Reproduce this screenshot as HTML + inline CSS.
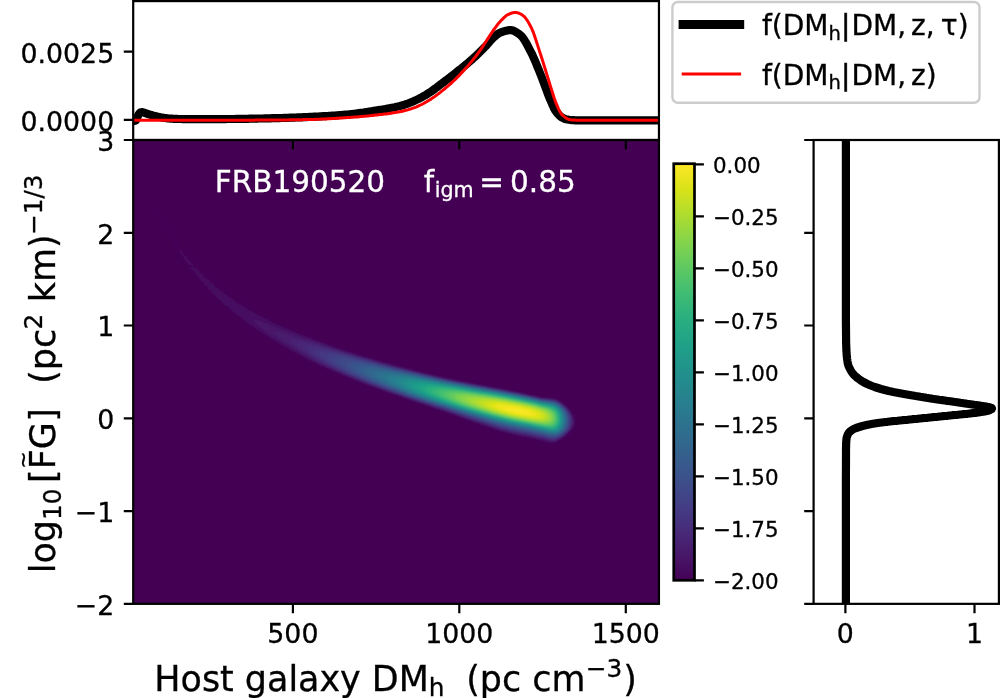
<!DOCTYPE html><html><head><meta charset="utf-8"><title>FRB190520</title>
<style>html,body{margin:0;padding:0;background:#fff;overflow:hidden}svg{display:block}text{font-family:"DejaVu Sans","Liberation Sans",sans-serif;fill:#000;stroke:#000;stroke-width:.3px}</style></head><body>
<svg width="1000" height="698" viewBox="0 0 1000 698">
<rect width="1000" height="698" fill="#fff"/>
<clipPath id="ct"><rect x="133.2" y="1.1" width="525.75" height="138.9"/></clipPath>
<g clip-path="url(#ct)" fill="none" stroke-linejoin="round"><path d="M133.2,121.0 L133.7,121.0 L134.2,120.9 L134.7,120.8 L135.2,120.7 L135.7,120.5 L136.2,119.8 L136.7,118.8 L137.2,117.8 L137.7,116.5 L138.2,115.2 L138.7,114.3 L139.2,113.6 L139.7,113.0 L140.2,112.6 L140.7,112.5 L141.2,112.3 L141.7,112.2 L142.2,112.2 L142.7,112.2 L143.2,112.4 L143.7,112.6 L144.2,112.8 L144.7,112.9 L145.2,113.1 L145.7,113.3 L146.2,113.4 L146.7,113.6 L147.2,113.8 L147.7,113.9 L148.2,114.1 L148.7,114.2 L149.2,114.4 L149.7,114.5 L150.2,114.7 L150.7,114.8 L151.2,114.9 L151.7,115.1 L152.2,115.2 L152.7,115.4 L153.2,115.5 L153.7,115.7 L154.2,115.8 L154.7,115.9 L155.2,116.1 L155.7,116.2 L156.2,116.3 L156.7,116.4 L157.2,116.6 L157.7,116.7 L158.2,116.8 L158.7,116.9 L159.2,117.0 L159.7,117.1 L160.2,117.2 L160.7,117.3 L161.2,117.4 L161.7,117.5 L162.2,117.6 L162.7,117.7 L163.2,117.7 L163.7,117.8 L164.2,117.9 L164.7,118.0 L165.2,118.0 L165.7,118.1 L166.2,118.2 L166.7,118.2 L167.2,118.3 L167.7,118.4 L168.2,118.4 L168.7,118.5 L169.2,118.5 L169.7,118.6 L170.2,118.6 L170.7,118.6 L171.2,118.7 L171.7,118.7 L172.2,118.7 L172.7,118.7 L173.2,118.8 L173.7,118.8 L174.2,118.8 L174.7,118.8 L175.2,118.9 L175.7,118.9 L176.2,118.9 L176.7,118.9 L177.2,118.9 L177.7,118.9 L178.2,119.0 L178.7,119.0 L179.2,119.0 L179.7,119.0 L180.2,119.0 L180.7,119.0 L181.2,119.0 L181.7,119.0 L182.2,119.1 L182.7,119.1 L183.2,119.1 L183.7,119.1 L184.2,119.1 L184.7,119.1 L185.2,119.1 L185.7,119.1 L186.2,119.2 L186.7,119.2 L187.2,119.2 L187.7,119.2 L188.2,119.2 L188.7,119.2 L189.2,119.2 L189.7,119.2 L190.2,119.2 L190.7,119.2 L191.2,119.2 L191.7,119.2 L192.2,119.2 L192.7,119.2 L193.2,119.2 L193.7,119.2 L194.2,119.2 L194.7,119.2 L195.2,119.2 L195.7,119.2 L196.2,119.2 L196.7,119.2 L197.2,119.2 L197.7,119.2 L198.2,119.2 L198.7,119.2 L199.2,119.2 L199.7,119.2 L200.0,119.2 L201.5,119.2 L203.0,119.2 L204.5,119.2 L206.0,119.2 L207.5,119.2 L209.0,119.2 L210.5,119.1 L212.0,119.1 L213.5,119.1 L215.0,119.1 L216.5,119.1 L218.0,119.1 L219.5,119.1 L221.0,119.1 L222.5,119.1 L224.0,119.1 L225.5,119.1 L227.0,119.0 L228.5,119.0 L230.0,119.0 L231.5,119.0 L233.0,119.0 L234.5,119.0 L236.0,118.9 L237.5,118.9 L239.0,118.9 L240.5,118.9 L242.0,118.9 L243.5,118.8 L245.0,118.8 L246.5,118.8 L248.0,118.8 L249.5,118.7 L251.0,118.7 L252.5,118.7 L254.0,118.6 L255.5,118.6 L257.0,118.6 L258.5,118.5 L260.0,118.5 L261.5,118.5 L263.0,118.5 L264.5,118.4 L266.0,118.4 L267.5,118.3 L269.0,118.3 L270.5,118.3 L272.0,118.2 L273.5,118.2 L275.0,118.2 L276.5,118.1 L278.0,118.1 L279.5,118.1 L281.0,118.0 L282.5,118.0 L284.0,117.9 L285.5,117.9 L287.0,117.8 L288.5,117.8 L290.0,117.7 L291.5,117.7 L293.0,117.6 L294.5,117.6 L296.0,117.5 L297.5,117.4 L299.0,117.4 L300.5,117.3 L302.0,117.3 L303.5,117.2 L305.0,117.1 L306.5,117.1 L308.0,117.0 L309.5,116.9 L311.0,116.9 L312.5,116.8 L314.0,116.7 L315.5,116.6 L317.0,116.6 L318.5,116.5 L320.0,116.4 L321.5,116.3 L323.0,116.2 L324.5,116.1 L326.0,116.1 L327.5,116.0 L329.0,115.9 L330.5,115.8 L332.0,115.7 L333.5,115.6 L335.0,115.5 L336.5,115.4 L338.0,115.3 L339.5,115.1 L341.0,115.0 L342.5,114.9 L344.0,114.8 L345.5,114.6 L347.0,114.5 L348.5,114.4 L350.0,114.2 L351.5,114.0 L353.0,113.9 L354.5,113.7 L356.0,113.5 L357.5,113.3 L359.0,113.1 L360.5,112.9 L362.0,112.7 L363.5,112.5 L365.0,112.2 L366.5,112.0 L368.0,111.8 L369.5,111.5 L371.0,111.3 L372.5,111.1 L374.0,110.8 L375.5,110.6 L377.0,110.4 L378.5,110.1 L380.0,109.9 L381.5,109.7 L383.0,109.4 L384.5,109.2 L386.0,108.9 L387.5,108.6 L389.0,108.4 L390.5,108.1 L392.0,107.8 L393.5,107.5 L395.0,107.2 L396.5,106.8 L398.0,106.5 L399.5,106.1 L401.0,105.7 L402.5,105.3 L404.0,104.8 L405.5,104.4 L407.0,103.8 L408.5,103.3 L410.0,102.7 L411.5,102.1 L413.0,101.5 L414.5,100.8 L416.0,100.1 L417.5,99.4 L419.0,98.7 L420.5,97.9 L422.0,97.1 L423.5,96.2 L425.0,95.4 L426.5,94.5 L428.0,93.5 L429.5,92.6 L431.0,91.6 L432.5,90.5 L434.0,89.5 L435.5,88.3 L437.0,87.2 L438.5,86.0 L440.0,84.9 L441.5,83.7 L443.0,82.6 L444.5,81.5 L446.0,80.3 L447.5,79.2 L449.0,78.1 L450.5,76.9 L452.0,75.8 L453.5,74.6 L455.0,73.4 L456.5,72.2 L458.0,71.0 L459.5,69.8 L461.0,68.7 L462.5,67.5 L464.0,66.2 L465.5,65.0 L467.0,63.8 L468.5,62.5 L470.0,61.2 L471.5,59.9 L473.0,58.5 L474.5,57.2 L476.0,55.8 L477.5,54.3 L479.0,52.9 L480.5,51.4 L482.0,49.9 L483.5,48.4 L485.0,46.8 L486.5,45.3 L488.0,43.6 L489.5,41.8 L491.0,40.0 L492.5,38.5 L494.0,37.1 L495.5,35.8 L497.0,34.5 L498.5,33.5 L500.0,32.7 L501.5,32.1 L503.0,31.6 L504.5,31.1 L506.0,30.7 L507.5,30.4 L509.0,30.2 L510.5,30.1 L512.0,30.3 L513.5,30.7 L515.0,31.4 L516.5,32.3 L518.0,33.3 L519.5,34.4 L521.0,35.6 L522.5,37.2 L524.0,39.4 L525.5,41.8 L527.0,44.5 L528.5,47.4 L530.0,50.3 L531.5,53.1 L533.0,56.3 L534.5,59.7 L536.0,63.2 L537.5,66.8 L539.0,70.5 L540.5,74.2 L542.0,78.0 L543.5,82.0 L545.0,86.1 L546.5,90.2 L548.0,94.2 L549.5,98.0 L551.0,101.4 L552.5,104.9 L554.0,108.2 L555.5,110.9 L557.0,112.9 L558.5,114.5 L560.0,116.0 L561.5,117.2 L563.0,118.1 L564.5,118.8 L566.0,119.2 L567.5,119.5 L569.0,119.8 L570.5,120.0 L572.0,120.2 L573.5,120.2 L575.0,120.3 L576.5,120.3 L578.0,120.3 L579.5,120.3 L581.0,120.3 L582.5,120.3 L584.0,120.3 L585.5,120.3 L587.0,120.3 L588.5,120.3 L590.0,120.3 L591.5,120.3 L593.0,120.3 L594.5,120.3 L596.0,120.3 L597.5,120.3 L599.0,120.3 L600.5,120.3 L602.0,120.3 L603.5,120.3 L605.0,120.3 L606.5,120.3 L608.0,120.3 L609.5,120.3 L611.0,120.3 L612.5,120.3 L614.0,120.3 L615.5,120.3 L617.0,120.3 L618.5,120.3 L620.0,120.3 L621.5,120.3 L623.0,120.3 L624.5,120.3 L626.0,120.3 L627.5,120.3 L629.0,120.3 L630.5,120.3 L632.0,120.3 L633.5,120.3 L635.0,120.3 L636.5,120.3 L638.0,120.3 L639.5,120.3 L641.0,120.3 L642.5,120.3 L644.0,120.3 L645.5,120.3 L647.0,120.3 L648.5,120.3 L650.0,120.3 L651.5,120.3 L653.0,120.3 L654.5,120.3 L656.0,120.3 L657.5,120.3 L659.0,120.3 L659.2,120.3" stroke="#000" stroke-width="8.2" stroke-linecap="square"/><path d="M133.2,120.3 L133.7,120.3 L134.2,120.3 L134.7,120.3 L135.2,120.3 L135.7,120.3 L136.2,120.3 L136.7,120.3 L137.2,120.3 L137.7,120.3 L138.2,120.3 L138.7,120.3 L139.2,120.3 L139.7,120.3 L140.2,120.3 L140.7,120.3 L141.2,120.3 L141.7,120.3 L142.2,120.3 L142.7,120.3 L143.2,120.3 L143.7,120.3 L144.2,120.3 L144.7,120.3 L145.2,120.3 L145.7,120.3 L146.2,120.3 L146.7,120.3 L147.2,120.3 L147.7,120.3 L148.2,120.3 L148.7,120.3 L149.2,120.3 L149.7,120.3 L150.2,120.3 L150.7,120.3 L151.2,120.3 L151.7,120.3 L152.2,120.3 L152.7,120.3 L153.2,120.3 L153.7,120.3 L154.2,120.3 L154.7,120.3 L155.2,120.3 L155.7,120.3 L156.2,120.3 L156.7,120.3 L157.2,120.3 L157.7,120.3 L158.2,120.3 L158.7,120.3 L159.2,120.3 L159.7,120.3 L160.2,120.3 L160.7,120.3 L161.2,120.3 L161.7,120.3 L162.2,120.3 L162.7,120.3 L163.2,120.3 L163.7,120.3 L164.2,120.3 L164.7,120.3 L165.2,120.3 L165.7,120.3 L166.2,120.3 L166.7,120.3 L167.2,120.3 L167.7,120.3 L168.2,120.3 L168.7,120.3 L169.2,120.3 L169.7,120.3 L170.2,120.3 L170.7,120.3 L171.2,120.3 L171.7,120.3 L172.2,120.3 L172.7,120.3 L173.2,120.3 L173.7,120.3 L174.2,120.3 L174.7,120.3 L175.2,120.3 L175.7,120.3 L176.2,120.3 L176.7,120.3 L177.2,120.3 L177.7,120.3 L178.2,120.3 L178.7,120.3 L179.2,120.3 L179.7,120.3 L180.2,120.3 L180.7,120.3 L181.2,120.3 L181.7,120.3 L182.2,120.3 L182.7,120.3 L183.2,120.3 L183.7,120.3 L184.2,120.3 L184.7,120.3 L185.2,120.3 L185.7,120.3 L186.2,120.3 L186.7,120.3 L187.2,120.3 L187.7,120.3 L188.2,120.3 L188.7,120.3 L189.2,120.3 L189.7,120.3 L190.2,120.3 L190.7,120.3 L191.2,120.3 L191.7,120.3 L192.2,120.3 L192.7,120.3 L193.2,120.3 L193.7,120.3 L194.2,120.3 L194.7,120.3 L195.2,120.3 L195.7,120.3 L196.2,120.3 L196.7,120.3 L197.2,120.3 L197.7,120.3 L198.2,120.3 L198.7,120.3 L199.2,120.3 L199.7,120.3 L200.0,120.3 L201.5,120.3 L203.0,120.3 L204.5,120.3 L206.0,120.3 L207.5,120.3 L209.0,120.3 L210.5,120.3 L212.0,120.3 L213.5,120.3 L215.0,120.3 L216.5,120.3 L218.0,120.3 L219.5,120.3 L221.0,120.3 L222.5,120.3 L224.0,120.3 L225.5,120.3 L227.0,120.3 L228.5,120.3 L230.0,120.3 L231.5,120.3 L233.0,120.3 L234.5,120.3 L236.0,120.3 L237.5,120.3 L239.0,120.3 L240.5,120.2 L242.0,120.2 L243.5,120.2 L245.0,120.2 L246.5,120.2 L248.0,120.2 L249.5,120.2 L251.0,120.2 L252.5,120.2 L254.0,120.2 L255.5,120.1 L257.0,120.1 L258.5,120.1 L260.0,120.1 L261.5,120.1 L263.0,120.1 L264.5,120.1 L266.0,120.1 L267.5,120.1 L269.0,120.0 L270.5,120.0 L272.0,120.0 L273.5,120.0 L275.0,120.0 L276.5,120.0 L278.0,120.0 L279.5,120.0 L281.0,119.9 L282.5,119.9 L284.0,119.9 L285.5,119.9 L287.0,119.9 L288.5,119.9 L290.0,119.8 L291.5,119.8 L293.0,119.8 L294.5,119.8 L296.0,119.8 L297.5,119.7 L299.0,119.7 L300.5,119.7 L302.0,119.7 L303.5,119.6 L305.0,119.6 L306.5,119.6 L308.0,119.5 L309.5,119.5 L311.0,119.5 L312.5,119.4 L314.0,119.4 L315.5,119.3 L317.0,119.3 L318.5,119.2 L320.0,119.2 L321.5,119.1 L323.0,119.0 L324.5,119.0 L326.0,118.9 L327.5,118.8 L329.0,118.7 L330.5,118.7 L332.0,118.6 L333.5,118.5 L335.0,118.4 L336.5,118.3 L338.0,118.2 L339.5,118.1 L341.0,118.0 L342.5,117.9 L344.0,117.8 L345.5,117.7 L347.0,117.6 L348.5,117.5 L350.0,117.4 L351.5,117.3 L353.0,117.2 L354.5,117.1 L356.0,117.0 L357.5,116.9 L359.0,116.7 L360.5,116.6 L362.0,116.5 L363.5,116.3 L365.0,116.2 L366.5,116.1 L368.0,115.9 L369.5,115.8 L371.0,115.6 L372.5,115.5 L374.0,115.3 L375.5,115.1 L377.0,115.0 L378.5,114.8 L380.0,114.6 L381.5,114.5 L383.0,114.3 L384.5,114.1 L386.0,113.9 L387.5,113.7 L389.0,113.5 L390.5,113.3 L392.0,113.1 L393.5,112.8 L395.0,112.6 L396.5,112.3 L398.0,112.1 L399.5,111.8 L401.0,111.5 L402.5,111.2 L404.0,110.8 L405.5,110.4 L407.0,110.0 L408.5,109.6 L410.0,109.1 L411.5,108.7 L413.0,108.2 L414.5,107.6 L416.0,107.1 L417.5,106.4 L419.0,105.7 L420.5,105.0 L422.0,104.3 L423.5,103.5 L425.0,102.6 L426.5,101.8 L428.0,100.9 L429.5,100.0 L431.0,99.1 L432.5,98.1 L434.0,97.1 L435.5,96.0 L437.0,94.9 L438.5,93.7 L440.0,92.6 L441.5,91.4 L443.0,90.2 L444.5,89.0 L446.0,87.7 L447.5,86.4 L449.0,85.1 L450.5,83.8 L452.0,82.4 L453.5,81.0 L455.0,79.6 L456.5,78.1 L458.0,76.6 L459.5,75.1 L461.0,73.5 L462.5,71.9 L464.0,70.3 L465.5,68.6 L467.0,66.9 L468.5,65.2 L470.0,63.4 L471.5,61.6 L473.0,59.8 L474.5,57.9 L476.0,56.0 L477.5,54.0 L479.0,51.9 L480.5,49.8 L482.0,47.6 L483.5,45.3 L485.0,43.0 L486.5,40.7 L488.0,38.4 L489.5,36.1 L491.0,33.8 L492.5,31.6 L494.0,29.4 L495.5,27.3 L497.0,25.3 L498.5,23.4 L500.0,21.8 L501.5,20.1 L503.0,18.6 L504.5,17.1 L506.0,15.8 L507.5,14.8 L509.0,14.1 L510.5,13.5 L512.0,13.0 L513.5,12.6 L515.0,12.4 L516.5,12.5 L518.0,12.9 L519.5,13.5 L521.0,14.2 L522.5,15.1 L524.0,16.3 L525.5,18.0 L527.0,20.1 L528.5,22.6 L530.0,25.2 L531.5,28.1 L533.0,31.6 L534.5,35.7 L536.0,40.2 L537.5,44.9 L539.0,49.6 L540.5,54.2 L542.0,58.8 L543.5,63.6 L545.0,68.5 L546.5,73.4 L548.0,78.3 L549.5,83.2 L551.0,87.9 L552.5,92.7 L554.0,97.5 L555.5,101.8 L557.0,105.4 L558.5,108.8 L560.0,111.8 L561.5,114.2 L563.0,115.7 L564.5,116.9 L566.0,118.0 L567.5,118.9 L569.0,119.5 L570.5,119.8 L572.0,119.9 L573.5,120.1 L575.0,120.1 L576.5,120.2 L578.0,120.3 L579.5,120.3 L581.0,120.3 L582.5,120.3 L584.0,120.3 L585.5,120.3 L587.0,120.3 L588.5,120.3 L590.0,120.3 L591.5,120.3 L593.0,120.3 L594.5,120.3 L596.0,120.3 L597.5,120.3 L599.0,120.3 L600.5,120.3 L602.0,120.3 L603.5,120.3 L605.0,120.3 L606.5,120.3 L608.0,120.3 L609.5,120.3 L611.0,120.3 L612.5,120.3 L614.0,120.3 L615.5,120.3 L617.0,120.3 L618.5,120.3 L620.0,120.3 L621.5,120.3 L623.0,120.3 L624.5,120.3 L626.0,120.3 L627.5,120.3 L629.0,120.3 L630.5,120.3 L632.0,120.3 L633.5,120.3 L635.0,120.3 L636.5,120.3 L638.0,120.3 L639.5,120.3 L641.0,120.3 L642.5,120.3 L644.0,120.3 L645.5,120.3 L647.0,120.3 L648.5,120.3 L650.0,120.3 L651.5,120.3 L653.0,120.3 L654.5,120.3 L656.0,120.3 L657.5,120.3 L659.0,120.3 L659.2,120.3" stroke="#f00" stroke-width="3.0" stroke-linecap="square"/></g>
<rect x="133.2" y="140.0" width="525.75" height="463.85" fill="#440154"/>
<clipPath id="ch"><rect x="133.2" y="140.0" width="525.75" height="463.85"/></clipPath><filter id="bl" x="-5%" y="-5%" width="110%" height="110%"><feGaussianBlur stdDeviation="1.3"/></filter>
<g clip-path="url(#ch)"><g id="heat" filter="url(#bl)"><path d="M152.1,191.8 153.2,193.3 155.7,199.2 158.2,205.0 160.7,210.6 163.2,215.9 165.7,220.8 168.2,225.5 170.7,229.9 173.2,234.1 175.7,238.0 178.2,241.8 180.7,245.4 183.2,248.8 185.7,252.1 188.2,255.3 190.7,258.3 193.2,261.2 195.7,264.1 198.2,266.8 200.7,269.4 203.2,271.9 205.7,274.3 208.2,276.7 210.7,279.0 213.2,281.2 215.7,283.4 218.2,285.5 220.7,287.5 223.2,289.5 225.7,291.4 228.2,293.3 230.7,295.2 233.2,297.0 235.7,298.7 238.2,300.4 240.7,302.1 243.2,303.7 245.7,305.3 248.2,306.9 250.7,308.4 253.2,309.9 255.7,311.4 258.2,312.8 260.7,314.2 263.2,315.6 265.7,316.9 268.2,318.2 270.7,319.5 273.2,320.8 275.7,322.0 278.2,323.2 280.7,324.4 283.2,325.6 285.7,326.7 288.2,327.9 290.7,329.0 293.2,330.1 295.7,331.1 298.2,332.2 300.7,333.2 303.2,334.2 305.7,335.2 308.2,336.2 310.7,337.2 313.2,338.2 315.7,339.1 318.2,340.1 320.7,341.1 323.2,342.1 325.7,343.1 328.2,344.1 330.7,345.0 333.2,346.0 335.7,346.9 338.2,347.8 340.7,348.7 343.2,349.5 345.7,350.4 348.2,351.2 350.7,352.1 353.2,352.9 355.7,353.7 358.2,354.5 360.7,355.3 363.2,356.1 365.7,356.9 368.2,357.7 370.7,358.4 373.2,359.2 375.7,359.9 378.2,360.7 380.7,361.4 383.2,362.2 385.7,362.9 388.2,363.6 390.7,364.3 393.2,365.0 395.7,365.7 398.2,366.4 400.7,367.0 403.2,367.7 405.7,368.3 408.2,369.0 410.7,369.6 413.2,370.3 415.7,370.9 418.2,371.6 420.7,372.2 423.2,372.8 425.7,373.5 428.2,374.1 430.7,374.7 433.2,375.3 435.7,375.9 438.2,376.5 440.7,377.1 443.2,377.7 445.7,378.3 448.2,378.8 450.7,379.4 453.2,379.9 455.7,380.4 458.2,380.9 460.7,381.4 463.2,381.9 465.7,382.4 468.2,382.9 470.7,383.4 473.2,383.8 475.7,384.3 478.2,384.8 480.7,385.3 483.2,385.8 485.7,386.2 488.2,386.7 490.7,387.2 493.2,387.6 495.7,388.1 498.2,388.6 500.7,389.1 503.2,389.6 505.7,390.1 508.2,390.6 510.7,391.1 513.2,391.6 515.7,392.1 518.2,392.6 520.7,393.1 523.2,393.7 525.7,394.2 528.2,394.7 530.7,395.3 533.2,395.9 535.7,396.4 536.0,396.5 537.0,396.8 538.0,397.0 539.0,397.2 540.0,397.5 541.0,397.7 542.0,397.9 543.0,398.0 544.0,398.1 545.0,398.1 546.0,398.2 547.0,398.3 548.0,398.4 549.0,398.5 550.0,398.6 551.0,398.6 552.0,398.7 553.0,398.8 554.0,399.0 555.0,399.2 556.0,399.6 557.0,400.0 558.0,400.4 559.0,401.0 560.0,401.6 561.0,402.2 562.0,402.9 563.0,403.6 564.0,404.4 565.0,405.2 566.0,406.2 567.0,407.1 568.0,408.1 569.0,409.1 570.0,410.2 571.0,411.4 572.0,412.6 573.0,413.9 574.0,415.4 575.0,417.2 576.0,420.6 576.1,422.2 576.0,423.7 575.0,426.7 574.0,428.2 573.0,429.4 572.0,430.5 571.0,431.5 570.0,432.5 569.0,433.4 568.0,434.3 567.0,435.1 566.0,435.9 565.0,436.6 564.0,437.3 563.0,438.1 562.0,438.8 561.0,439.5 560.0,440.3 559.0,441.0 558.0,441.7 557.0,442.4 556.0,442.9 555.0,443.2 554.0,443.4 553.0,443.5 552.0,443.5 551.0,443.4 550.0,443.3 549.0,443.1 548.0,443.0 547.0,442.8 546.0,442.6 545.0,442.3 544.0,442.0 543.0,441.7 542.0,441.4 541.0,441.2 540.0,441.0 539.0,440.8 538.0,440.6 537.0,440.4 536.0,440.2 535.7,440.1 533.2,439.5 530.7,438.9 528.2,438.3 525.7,437.8 523.2,437.3 520.7,436.9 518.2,436.4 515.7,435.9 513.2,435.3 510.7,434.7 508.2,434.1 505.7,433.5 503.2,432.8 500.7,432.1 498.2,431.3 495.7,430.6 493.2,429.7 490.7,428.9 488.2,428.0 485.7,427.1 483.2,426.2 480.7,425.3 478.2,424.4 475.7,423.5 473.2,422.6 470.7,421.7 468.2,420.8 465.7,419.9 463.2,418.9 460.7,418.0 458.2,417.0 455.7,416.1 453.2,415.2 450.7,414.2 448.2,413.3 445.7,412.4 443.2,411.5 440.7,410.7 438.2,409.8 435.7,409.0 433.2,408.1 430.7,407.2 428.2,406.4 425.7,405.5 423.2,404.7 420.7,403.8 418.2,403.0 415.7,402.1 413.2,401.2 410.7,400.3 408.2,399.5 405.7,398.6 403.2,397.7 400.7,396.8 398.2,396.0 395.7,395.1 393.2,394.2 390.7,393.4 388.2,392.5 385.7,391.6 383.2,390.8 380.7,389.9 378.2,389.0 375.7,388.1 373.2,387.3 370.7,386.4 368.2,385.5 365.7,384.5 363.2,383.6 360.7,382.7 358.2,381.7 355.7,380.8 353.2,379.8 350.7,378.8 348.2,377.8 345.7,376.8 343.2,375.8 340.7,374.7 338.2,373.7 335.7,372.7 333.2,371.6 330.7,370.6 328.2,369.5 325.7,368.5 323.2,367.4 320.7,366.3 318.2,365.2 315.7,364.0 313.2,362.8 310.7,361.6 308.2,360.4 305.7,359.2 303.2,357.9 300.7,356.6 298.2,355.3 295.7,354.0 293.2,352.6 290.7,351.3 288.2,349.9 285.7,348.6 283.2,347.2 280.7,345.8 278.2,344.3 275.7,342.9 273.2,341.4 270.7,339.9 268.2,338.4 265.7,336.8 263.2,335.3 260.7,333.7 258.2,332.1 255.7,330.4 253.2,328.7 250.7,327.0 248.2,325.3 245.7,323.5 243.2,321.7 240.7,319.9 238.2,318.0 235.7,316.1 233.2,314.1 230.7,312.1 228.2,310.1 225.7,308.0 223.2,305.8 220.7,303.6 218.2,301.3 215.7,299.0 213.2,296.6 210.7,294.1 208.2,291.6 205.7,289.0 203.2,286.3 200.7,283.5 198.2,280.6 195.7,277.6 193.2,274.6 190.7,271.4 188.2,268.0 185.7,264.6 183.2,261.0 180.7,257.2 178.2,253.2 175.7,249.1 173.2,244.7 170.7,240.0 168.2,235.2 165.7,230.0 163.2,224.4 160.7,218.4 158.2,211.9 155.7,204.7 153.2,196.6Z" fill="#440154"/><path d="M160.9,215.4 163.2,218.7 165.7,223.2 168.2,227.7 170.7,231.9 173.2,235.9 175.7,239.7 178.2,243.4 180.7,246.9 183.2,250.3 185.7,253.5 188.2,256.6 190.7,259.6 193.2,262.5 195.7,265.2 198.2,267.9 200.7,270.5 203.2,272.9 205.7,275.3 208.2,277.7 210.7,279.9 213.2,282.1 215.7,284.3 218.2,286.4 220.7,288.4 223.2,290.3 225.7,292.3 228.2,294.1 230.7,296.0 233.2,297.7 235.7,299.5 238.2,301.2 240.7,302.8 243.2,304.4 245.7,306.0 248.2,307.5 250.7,309.1 253.2,310.5 255.7,312.0 258.2,313.4 260.7,314.8 263.2,316.1 265.7,317.4 268.2,318.7 270.7,320.0 273.2,321.2 275.7,322.5 278.2,323.7 280.7,324.9 283.2,326.0 285.7,327.2 288.2,328.3 290.7,329.4 293.2,330.4 295.7,331.5 298.2,332.5 300.7,333.5 303.2,334.5 305.7,335.5 308.2,336.5 310.7,337.4 313.2,338.4 315.7,339.4 318.2,340.4 320.7,341.3 323.2,342.3 325.7,343.3 328.2,344.3 330.7,345.2 333.2,346.1 335.7,347.1 338.2,348.0 340.7,348.8 343.2,349.7 345.7,350.5 348.2,351.4 350.7,352.2 353.2,353.0 355.7,353.8 358.2,354.6 360.7,355.4 363.2,356.2 365.7,357.0 368.2,357.8 370.7,358.5 373.2,359.3 375.7,360.1 378.2,360.8 380.7,361.5 383.2,362.3 385.7,363.0 388.2,363.7 390.7,364.4 393.2,365.1 395.7,365.8 398.2,366.5 400.7,367.1 403.2,367.8 405.7,368.4 408.2,369.1 410.7,369.7 413.2,370.4 415.7,371.0 418.2,371.6 420.7,372.3 423.2,372.9 425.7,373.6 428.2,374.2 430.7,374.8 433.2,375.4 435.7,376.0 438.2,376.6 440.7,377.2 443.2,377.8 445.7,378.3 448.2,378.9 450.7,379.4 453.2,379.9 455.7,380.5 458.2,381.0 460.7,381.5 463.2,381.9 465.7,382.4 468.2,382.9 470.7,383.4 473.2,383.9 475.7,384.4 478.2,384.9 480.7,385.4 483.2,385.8 485.7,386.3 488.2,386.8 490.7,387.2 493.2,387.7 495.7,388.2 498.2,388.7 500.7,389.1 503.2,389.6 505.7,390.1 508.2,390.6 510.7,391.1 513.2,391.6 515.7,392.2 518.2,392.7 520.7,393.2 523.2,393.7 525.7,394.2 528.2,394.8 530.7,395.3 533.2,395.9 535.7,396.5 536.0,396.6 537.0,396.8 538.0,397.1 539.0,397.3 540.0,397.6 541.0,397.8 542.0,397.9 543.0,398.1 544.0,398.1 545.0,398.2 546.0,398.3 547.0,398.4 548.0,398.5 549.0,398.6 550.0,398.6 551.0,398.7 552.0,398.8 553.0,398.9 554.0,399.1 555.0,399.3 556.0,399.6 557.0,400.0 558.0,400.5 559.0,401.1 560.0,401.6 561.0,402.3 562.0,403.0 563.0,403.7 564.0,404.5 565.0,405.4 566.0,406.3 567.0,407.2 568.0,408.2 569.0,409.3 570.0,410.4 571.0,411.5 572.0,412.8 573.0,414.2 574.0,415.8 575.0,417.8 575.8,422.2 575.0,426.1 574.0,427.8 573.0,429.1 572.0,430.2 571.0,431.3 570.0,432.3 569.0,433.3 568.0,434.1 567.0,435.0 566.0,435.7 565.0,436.5 564.0,437.2 563.0,437.9 562.0,438.6 561.0,439.3 560.0,440.1 559.0,440.8 558.0,441.5 557.0,442.2 556.0,442.7 555.0,443.0 554.0,443.2 553.0,443.3 552.0,443.3 551.0,443.2 550.0,443.1 549.0,442.9 548.0,442.7 547.0,442.6 546.0,442.3 545.0,442.1 544.0,441.8 543.0,441.5 542.0,441.2 541.0,440.9 540.0,440.7 539.0,440.6 538.0,440.4 537.0,440.2 536.0,440.0 535.7,439.9 533.2,439.3 530.7,438.6 528.2,438.1 525.7,437.5 523.2,437.1 520.7,436.7 518.2,436.2 515.7,435.7 513.2,435.1 510.7,434.5 508.2,433.9 505.7,433.3 503.2,432.6 500.7,431.9 498.2,431.1 495.7,430.3 493.2,429.5 490.7,428.7 488.2,427.8 485.7,426.9 483.2,426.0 480.7,425.1 478.2,424.2 475.7,423.3 473.2,422.4 470.7,421.5 468.2,420.6 465.7,419.7 463.2,418.7 460.7,417.8 458.2,416.9 455.7,415.9 453.2,415.0 450.7,414.1 448.2,413.2 445.7,412.3 443.2,411.4 440.7,410.5 438.2,409.7 435.7,408.8 433.2,407.9 430.7,407.1 428.2,406.2 425.7,405.4 423.2,404.5 420.7,403.7 418.2,402.8 415.7,402.0 413.2,401.1 410.7,400.2 408.2,399.3 405.7,398.5 403.2,397.6 400.7,396.7 398.2,395.8 395.7,395.0 393.2,394.1 390.7,393.3 388.2,392.4 385.7,391.5 383.2,390.7 380.7,389.8 378.2,388.9 375.7,388.0 373.2,387.1 370.7,386.2 368.2,385.3 365.7,384.4 363.2,383.5 360.7,382.5 358.2,381.6 355.7,380.6 353.2,379.6 350.7,378.6 348.2,377.6 345.7,376.6 343.2,375.6 340.7,374.6 338.2,373.5 335.7,372.5 333.2,371.4 330.7,370.4 328.2,369.3 325.7,368.3 323.2,367.2 320.7,366.1 318.2,364.9 315.7,363.8 313.2,362.6 310.7,361.4 308.2,360.1 305.7,358.9 303.2,357.6 300.7,356.3 298.2,355.0 295.7,353.6 293.2,352.3 290.7,351.0 288.2,349.6 285.7,348.2 283.2,346.8 280.7,345.4 278.2,343.9 275.7,342.5 273.2,341.0 270.7,339.5 268.2,337.9 265.7,336.4 263.2,334.8 260.7,333.2 258.2,331.5 255.7,329.9 253.2,328.2 250.7,326.5 248.2,324.7 245.7,322.9 243.2,321.1 240.7,319.3 238.2,317.4 235.7,315.4 233.2,313.5 230.7,311.4 228.2,309.4 225.7,307.3 223.2,305.1 220.7,302.9 218.2,300.6 215.7,298.2 213.2,295.8 210.7,293.3 208.2,290.8 205.7,288.1 203.2,285.4 200.7,282.6 198.2,279.7 195.7,276.7 193.2,273.5 190.7,270.3 188.2,266.9 185.7,263.4 183.2,259.8 180.7,256.0 178.2,251.9 175.7,247.7 173.2,243.2 170.7,238.4 168.2,233.4 165.7,228.0 163.2,222.1Z" fill="#450457"/><path d="M175.0,243.0 175.7,243.2 178.2,246.1 180.7,249.2 183.2,252.3 185.7,255.4 188.2,258.4 190.7,261.3 193.2,264.1 195.7,266.7 198.2,269.3 200.7,271.8 203.2,274.2 205.7,276.6 208.2,278.9 210.7,281.1 213.2,283.2 215.7,285.3 218.2,287.4 220.7,289.4 223.2,291.3 225.7,293.2 228.2,295.0 230.7,296.8 233.2,298.6 235.7,300.3 238.2,302.0 240.7,303.6 243.2,305.2 245.7,306.7 248.2,308.3 250.7,309.8 253.2,311.2 255.7,312.6 258.2,314.0 260.7,315.4 263.2,316.7 265.7,318.0 268.2,319.3 270.7,320.5 273.2,321.7 275.7,323.0 278.2,324.1 280.7,325.3 283.2,326.5 285.7,327.6 288.2,328.7 290.7,329.8 293.2,330.8 295.7,331.9 298.2,332.9 300.7,333.9 303.2,334.8 305.7,335.8 308.2,336.8 310.7,337.7 313.2,338.7 315.7,339.6 318.2,340.6 320.7,341.6 323.2,342.5 325.7,343.5 328.2,344.5 330.7,345.4 333.2,346.3 335.7,347.2 338.2,348.1 340.7,349.0 343.2,349.9 345.7,350.7 348.2,351.5 350.7,352.4 353.2,353.2 355.7,354.0 358.2,354.8 360.7,355.6 363.2,356.4 365.7,357.1 368.2,357.9 370.7,358.7 373.2,359.4 375.7,360.2 378.2,360.9 380.7,361.7 383.2,362.4 385.7,363.1 388.2,363.8 390.7,364.5 393.2,365.2 395.7,365.9 398.2,366.6 400.7,367.2 403.2,367.9 405.7,368.5 408.2,369.2 410.7,369.8 413.2,370.5 415.7,371.1 418.2,371.7 420.7,372.4 423.2,373.0 425.7,373.6 428.2,374.3 430.7,374.9 433.2,375.5 435.7,376.1 438.2,376.7 440.7,377.3 443.2,377.9 445.7,378.4 448.2,379.0 450.7,379.5 453.2,380.0 455.7,380.5 458.2,381.0 460.7,381.5 463.2,382.0 465.7,382.5 468.2,383.0 470.7,383.5 473.2,384.0 475.7,384.5 478.2,384.9 480.7,385.4 483.2,385.9 485.7,386.4 488.2,386.8 490.7,387.3 493.2,387.8 495.7,388.2 498.2,388.7 500.7,389.2 503.2,389.7 505.7,390.2 508.2,390.7 510.7,391.2 513.2,391.7 515.7,392.2 518.2,392.7 520.7,393.2 523.2,393.8 525.7,394.3 528.2,394.8 530.7,395.4 533.2,396.0 535.7,396.6 536.0,396.6 537.0,396.9 538.0,397.1 539.0,397.4 540.0,397.6 541.0,397.8 542.0,398.0 543.0,398.1 544.0,398.2 545.0,398.3 546.0,398.3 547.0,398.4 548.0,398.5 549.0,398.6 550.0,398.7 551.0,398.8 552.0,398.9 553.0,399.0 554.0,399.2 555.0,399.4 556.0,399.7 557.0,400.1 558.0,400.6 559.0,401.1 560.0,401.7 561.0,402.4 562.0,403.1 563.0,403.8 564.0,404.6 565.0,405.5 566.0,406.4 567.0,407.4 568.0,408.4 569.0,409.4 570.0,410.5 571.0,411.8 572.0,413.1 573.0,414.5 574.0,416.2 575.0,418.5 575.6,422.1 575.0,425.4 574.0,427.4 573.0,428.7 572.0,429.9 571.0,431.1 570.0,432.1 569.0,433.1 568.0,434.0 567.0,434.8 566.0,435.6 565.0,436.3 564.0,437.0 563.0,437.8 562.0,438.5 561.0,439.2 560.0,439.9 559.0,440.6 558.0,441.3 557.0,442.0 556.0,442.5 555.0,442.8 554.0,443.0 553.0,443.1 552.0,443.0 551.0,443.0 550.0,442.8 549.0,442.7 548.0,442.5 547.0,442.3 546.0,442.1 545.0,441.8 544.0,441.6 543.0,441.3 542.0,441.0 541.0,440.7 540.0,440.5 539.0,440.4 538.0,440.2 537.0,440.0 536.0,439.7 535.7,439.7 533.2,439.0 530.7,438.4 528.2,437.9 525.7,437.3 523.2,436.9 520.7,436.5 518.2,436.0 515.7,435.5 513.2,434.9 510.7,434.3 508.2,433.7 505.7,433.0 503.2,432.4 500.7,431.7 498.2,430.9 495.7,430.1 493.2,429.3 490.7,428.4 488.2,427.6 485.7,426.7 483.2,425.8 480.7,424.9 478.2,424.0 475.7,423.1 473.2,422.2 470.7,421.3 468.2,420.4 465.7,419.5 463.2,418.6 460.7,417.6 458.2,416.7 455.7,415.8 453.2,414.8 450.7,413.9 448.2,413.0 445.7,412.1 443.2,411.2 440.7,410.4 438.2,409.5 435.7,408.7 433.2,407.8 430.7,407.0 428.2,406.1 425.7,405.3 423.2,404.4 420.7,403.6 418.2,402.7 415.7,401.8 413.2,401.0 410.7,400.1 408.2,399.2 405.7,398.3 403.2,397.5 400.7,396.6 398.2,395.7 395.7,394.9 393.2,394.0 390.7,393.1 388.2,392.3 385.7,391.4 383.2,390.5 380.7,389.7 378.2,388.8 375.7,387.9 373.2,387.0 370.7,386.1 368.2,385.2 365.7,384.3 363.2,383.3 360.7,382.4 358.2,381.4 355.7,380.5 353.2,379.5 350.7,378.5 348.2,377.5 345.7,376.5 343.2,375.4 340.7,374.4 338.2,373.4 335.7,372.3 333.2,371.3 330.7,370.2 328.2,369.1 325.7,368.1 323.2,367.0 320.7,365.9 318.2,364.7 315.7,363.5 313.2,362.3 310.7,361.1 308.2,359.9 305.7,358.6 303.2,357.3 300.7,356.0 298.2,354.6 295.7,353.3 293.2,352.0 290.7,350.6 288.2,349.2 285.7,347.8 283.2,346.4 280.7,344.9 278.2,343.5 275.7,342.0 273.2,340.5 270.7,339.0 268.2,337.4 265.7,335.9 263.2,334.3 260.7,332.6 258.2,331.0 255.7,329.3 253.2,327.6 250.7,325.9 248.2,324.1 245.7,322.3 243.2,320.5 240.7,318.6 238.2,316.7 235.7,314.7 233.2,312.7 230.7,310.7 228.2,308.6 225.7,306.5 223.2,304.3 220.7,302.0 218.2,299.7 215.7,297.3 213.2,294.9 210.7,292.4 208.2,289.8 205.7,287.1 203.2,284.3 200.7,281.5 198.2,278.5 195.7,275.4 193.2,272.2 190.7,268.9 188.2,265.5 185.7,261.9 183.2,258.1 180.7,254.1 178.2,249.8 175.7,244.9Z" fill="#46075a"/><path d="M190.6,265.5 190.7,265.3 193.2,266.9 195.7,269.2 198.2,271.5 200.7,273.8 203.2,276.0 205.7,278.3 208.2,280.4 210.7,282.6 213.2,284.6 215.7,286.7 218.2,288.6 220.7,290.6 223.2,292.5 225.7,294.3 228.2,296.1 230.7,297.9 233.2,299.6 235.7,301.2 238.2,302.9 240.7,304.5 243.2,306.0 245.7,307.6 248.2,309.1 250.7,310.5 253.2,311.9 255.7,313.3 258.2,314.7 260.7,316.0 263.2,317.3 265.7,318.6 268.2,319.9 270.7,321.1 273.2,322.3 275.7,323.5 278.2,324.7 280.7,325.8 283.2,326.9 285.7,328.0 288.2,329.1 290.7,330.2 293.2,331.2 295.7,332.2 298.2,333.2 300.7,334.2 303.2,335.2 305.7,336.1 308.2,337.1 310.7,338.0 313.2,338.9 315.7,339.9 318.2,340.8 320.7,341.8 323.2,342.8 325.7,343.7 328.2,344.7 330.7,345.6 333.2,346.5 335.7,347.4 338.2,348.3 340.7,349.2 343.2,350.0 345.7,350.9 348.2,351.7 350.7,352.5 353.2,353.3 355.7,354.1 358.2,354.9 360.7,355.7 363.2,356.5 365.7,357.3 368.2,358.0 370.7,358.8 373.2,359.6 375.7,360.3 378.2,361.0 380.7,361.8 383.2,362.5 385.7,363.2 388.2,363.9 390.7,364.6 393.2,365.3 395.7,366.0 398.2,366.7 400.7,367.3 403.2,368.0 405.7,368.6 408.2,369.3 410.7,369.9 413.2,370.5 415.7,371.2 418.2,371.8 420.7,372.4 423.2,373.1 425.7,373.7 428.2,374.3 430.7,375.0 433.2,375.6 435.7,376.2 438.2,376.8 440.7,377.4 443.2,377.9 445.7,378.5 448.2,379.0 450.7,379.6 453.2,380.1 455.7,380.6 458.2,381.1 460.7,381.6 463.2,382.1 465.7,382.6 468.2,383.1 470.7,383.6 473.2,384.0 475.7,384.5 478.2,385.0 480.7,385.5 483.2,386.0 485.7,386.4 488.2,386.9 490.7,387.4 493.2,387.8 495.7,388.3 498.2,388.8 500.7,389.3 503.2,389.8 505.7,390.3 508.2,390.8 510.7,391.3 513.2,391.8 515.7,392.3 518.2,392.8 520.7,393.3 523.2,393.8 525.7,394.4 528.2,394.9 530.7,395.5 533.2,396.0 535.7,396.6 536.0,396.7 537.0,396.9 538.0,397.2 539.0,397.4 540.0,397.7 541.0,397.9 542.0,398.1 543.0,398.2 544.0,398.3 545.0,398.3 546.0,398.4 547.0,398.5 548.0,398.6 549.0,398.7 550.0,398.8 551.0,398.9 552.0,398.9 553.0,399.1 554.0,399.3 555.0,399.5 556.0,399.8 557.0,400.2 558.0,400.7 559.0,401.2 560.0,401.8 561.0,402.5 562.0,403.2 563.0,403.9 564.0,404.7 565.0,405.6 566.0,406.5 567.0,407.5 568.0,408.5 569.0,409.6 570.0,410.7 571.0,412.0 572.0,413.4 573.0,414.9 574.0,416.7 575.0,419.4 575.3,422.1 575.0,424.5 574.0,426.9 573.0,428.4 572.0,429.6 571.0,430.8 570.0,431.9 569.0,432.9 568.0,433.8 567.0,434.6 566.0,435.4 565.0,436.2 564.0,436.9 563.0,437.6 562.0,438.3 561.0,439.0 560.0,439.7 559.0,440.5 558.0,441.2 557.0,441.8 556.0,442.3 555.0,442.6 554.0,442.8 553.0,442.8 552.0,442.8 551.0,442.7 550.0,442.6 549.0,442.4 548.0,442.3 547.0,442.1 546.0,441.9 545.0,441.6 544.0,441.3 543.0,441.0 542.0,440.7 541.0,440.5 540.0,440.3 539.0,440.1 538.0,439.9 537.0,439.7 536.0,439.5 535.7,439.4 533.2,438.8 530.7,438.2 528.2,437.6 525.7,437.1 523.2,436.7 520.7,436.3 518.2,435.8 515.7,435.3 513.2,434.7 510.7,434.1 508.2,433.5 505.7,432.8 503.2,432.2 500.7,431.4 498.2,430.7 495.7,429.9 493.2,429.1 490.7,428.2 488.2,427.3 485.7,426.4 483.2,425.5 480.7,424.7 478.2,423.8 475.7,422.9 473.2,422.0 470.7,421.1 468.2,420.2 465.7,419.3 463.2,418.4 460.7,417.4 458.2,416.5 455.7,415.6 453.2,414.7 450.7,413.8 448.2,412.9 445.7,412.0 443.2,411.1 440.7,410.2 438.2,409.4 435.7,408.5 433.2,407.7 430.7,406.8 428.2,406.0 425.7,405.1 423.2,404.3 420.7,403.4 418.2,402.6 415.7,401.7 413.2,400.8 410.7,400.0 408.2,399.1 405.7,398.2 403.2,397.3 400.7,396.5 398.2,395.6 395.7,394.7 393.2,393.9 390.7,393.0 388.2,392.2 385.7,391.3 383.2,390.4 380.7,389.5 378.2,388.7 375.7,387.8 373.2,386.9 370.7,386.0 368.2,385.1 365.7,384.1 363.2,383.2 360.7,382.3 358.2,381.3 355.7,380.3 353.2,379.3 350.7,378.3 348.2,377.3 345.7,376.3 343.2,375.3 340.7,374.2 338.2,373.2 335.7,372.1 333.2,371.1 330.7,370.0 328.2,368.9 325.7,367.8 323.2,366.7 320.7,365.6 318.2,364.5 315.7,363.3 313.2,362.1 310.7,360.8 308.2,359.6 305.7,358.3 303.2,357.0 300.7,355.6 298.2,354.3 295.7,353.0 293.2,351.6 290.7,350.2 288.2,348.8 285.7,347.4 283.2,346.0 280.7,344.5 278.2,343.0 275.7,341.6 273.2,340.0 270.7,338.5 268.2,336.9 265.7,335.3 263.2,333.7 260.7,332.1 258.2,330.4 255.7,328.7 253.2,327.0 250.7,325.2 248.2,323.4 245.7,321.6 243.2,319.7 240.7,317.8 238.2,315.9 235.7,313.9 233.2,311.9 230.7,309.8 228.2,307.7 225.7,305.5 223.2,303.3 220.7,301.0 218.2,298.7 215.7,296.2 213.2,293.7 210.7,291.2 208.2,288.5 205.7,285.7 203.2,282.9 200.7,279.9 198.2,276.7 195.7,273.5 193.2,269.9 190.7,265.7Z" fill="#46085c"/><path d="M205.7,282.5 208.2,283.2 210.7,284.9 213.2,286.7 215.7,288.5 218.2,290.4 220.7,292.2 223.2,294.0 225.7,295.7 228.2,297.4 230.7,299.1 233.2,300.8 235.7,302.4 238.2,304.0 240.7,305.5 243.2,307.0 245.7,308.5 248.2,310.0 250.7,311.4 253.2,312.8 255.7,314.1 258.2,315.5 260.7,316.8 263.2,318.0 265.7,319.3 268.2,320.5 270.7,321.7 273.2,322.9 275.7,324.1 278.2,325.2 280.7,326.3 283.2,327.4 285.7,328.5 288.2,329.6 290.7,330.6 293.2,331.6 295.7,332.7 298.2,333.6 300.7,334.6 303.2,335.5 305.7,336.5 308.2,337.4 310.7,338.3 313.2,339.2 315.7,340.2 318.2,341.1 320.7,342.0 323.2,343.0 325.7,343.9 328.2,344.9 330.7,345.8 333.2,346.7 335.7,347.6 338.2,348.5 340.7,349.3 343.2,350.2 345.7,351.0 348.2,351.9 350.7,352.7 353.2,353.5 355.7,354.3 358.2,355.1 360.7,355.9 363.2,356.6 365.7,357.4 368.2,358.2 370.7,358.9 373.2,359.7 375.7,360.4 378.2,361.2 380.7,361.9 383.2,362.6 385.7,363.3 388.2,364.0 390.7,364.7 393.2,365.4 395.7,366.1 398.2,366.8 400.7,367.4 403.2,368.1 405.7,368.7 408.2,369.4 410.7,370.0 413.2,370.6 415.7,371.3 418.2,371.9 420.7,372.5 423.2,373.2 425.7,373.8 428.2,374.4 430.7,375.0 433.2,375.7 435.7,376.3 438.2,376.8 440.7,377.4 443.2,378.0 445.7,378.6 448.2,379.1 450.7,379.6 453.2,380.2 455.7,380.7 458.2,381.2 460.7,381.7 463.2,382.2 465.7,382.6 468.2,383.1 470.7,383.6 473.2,384.1 475.7,384.6 478.2,385.1 480.7,385.6 483.2,386.0 485.7,386.5 488.2,387.0 490.7,387.4 493.2,387.9 495.7,388.4 498.2,388.8 500.7,389.3 503.2,389.8 505.7,390.3 508.2,390.8 510.7,391.3 513.2,391.8 515.7,392.3 518.2,392.8 520.7,393.4 523.2,393.9 525.7,394.4 528.2,395.0 530.7,395.5 533.2,396.1 535.7,396.7 536.0,396.8 537.0,397.0 538.0,397.2 539.0,397.5 540.0,397.7 541.0,398.0 542.0,398.1 543.0,398.2 544.0,398.3 545.0,398.4 546.0,398.5 547.0,398.6 548.0,398.7 549.0,398.8 550.0,398.8 551.0,398.9 552.0,399.0 553.0,399.2 554.0,399.3 555.0,399.6 556.0,399.9 557.0,400.3 558.0,400.8 559.0,401.3 560.0,401.9 561.0,402.6 562.0,403.3 563.0,404.0 564.0,404.8 565.0,405.7 566.0,406.7 567.0,407.6 568.0,408.7 569.0,409.7 570.0,410.9 571.0,412.2 572.0,413.7 573.0,415.3 574.0,417.2 575.0,421.0 575.0,422.0 575.0,422.9 574.0,426.3 573.0,428.0 572.0,429.3 571.0,430.6 570.0,431.7 569.0,432.7 568.0,433.6 567.0,434.5 566.0,435.3 565.0,436.0 564.0,436.7 563.0,437.4 562.0,438.1 561.0,438.8 560.0,439.5 559.0,440.3 558.0,441.0 557.0,441.6 556.0,442.1 555.0,442.4 554.0,442.6 553.0,442.6 552.0,442.6 551.0,442.5 550.0,442.3 549.0,442.2 548.0,442.0 547.0,441.8 546.0,441.6 545.0,441.4 544.0,441.1 543.0,440.8 542.0,440.5 541.0,440.3 540.0,440.1 539.0,439.9 538.0,439.7 537.0,439.5 536.0,439.3 535.7,439.2 533.2,438.6 530.7,438.0 528.2,437.4 525.7,436.9 523.2,436.5 520.7,436.1 518.2,435.6 515.7,435.0 513.2,434.5 510.7,433.9 508.2,433.3 505.7,432.6 503.2,431.9 500.7,431.2 498.2,430.5 495.7,429.7 493.2,428.9 490.7,428.0 488.2,427.1 485.7,426.2 483.2,425.3 480.7,424.5 478.2,423.6 475.7,422.7 473.2,421.8 470.7,420.9 468.2,420.0 465.7,419.1 463.2,418.2 460.7,417.3 458.2,416.3 455.7,415.4 453.2,414.5 450.7,413.6 448.2,412.7 445.7,411.8 443.2,410.9 440.7,410.1 438.2,409.2 435.7,408.4 433.2,407.5 430.7,406.7 428.2,405.8 425.7,405.0 423.2,404.1 420.7,403.3 418.2,402.4 415.7,401.6 413.2,400.7 410.7,399.8 408.2,399.0 405.7,398.1 403.2,397.2 400.7,396.4 398.2,395.5 395.7,394.6 393.2,393.8 390.7,392.9 388.2,392.0 385.7,391.2 383.2,390.3 380.7,389.4 378.2,388.5 375.7,387.6 373.2,386.7 370.7,385.8 368.2,384.9 365.7,384.0 363.2,383.1 360.7,382.1 358.2,381.1 355.7,380.2 353.2,379.2 350.7,378.2 348.2,377.1 345.7,376.1 343.2,375.1 340.7,374.0 338.2,373.0 335.7,371.9 333.2,370.9 330.7,369.8 328.2,368.7 325.7,367.6 323.2,366.5 320.7,365.4 318.2,364.2 315.7,363.0 313.2,361.8 310.7,360.6 308.2,359.3 305.7,358.0 303.2,356.6 300.7,355.3 298.2,353.9 295.7,352.6 293.2,351.2 290.7,349.8 288.2,348.4 285.7,347.0 283.2,345.5 280.7,344.0 278.2,342.6 275.7,341.1 273.2,339.5 270.7,338.0 268.2,336.4 265.7,334.8 263.2,333.1 260.7,331.4 258.2,329.7 255.7,328.0 253.2,326.3 250.7,324.5 248.2,322.7 245.7,320.8 243.2,318.9 240.7,317.0 238.2,315.0 235.7,313.0 233.2,310.9 230.7,308.8 228.2,306.6 225.7,304.4 223.2,302.1 220.7,299.7 218.2,297.3 215.7,294.7 213.2,292.1 210.7,289.3 208.2,286.3Z" fill="#460b5e"/><path d="M219.9,295.7 220.7,295.4 223.2,296.5 225.7,297.8 228.2,299.3 230.7,300.8 233.2,302.3 235.7,303.8 238.2,305.3 240.7,306.8 243.2,308.2 245.7,309.6 248.2,311.0 250.7,312.4 253.2,313.7 255.7,315.0 258.2,316.3 260.7,317.6 263.2,318.8 265.7,320.0 268.2,321.2 270.7,322.4 273.2,323.5 275.7,324.7 278.2,325.8 280.7,326.9 283.2,328.0 285.7,329.0 288.2,330.1 290.7,331.1 293.2,332.1 295.7,333.1 298.2,334.0 300.7,335.0 303.2,335.9 305.7,336.8 308.2,337.7 310.7,338.6 313.2,339.5 315.7,340.4 318.2,341.4 320.7,342.3 323.2,343.2 325.7,344.1 328.2,345.1 330.7,346.0 333.2,346.9 335.7,347.8 338.2,348.7 340.7,349.5 343.2,350.4 345.7,351.2 348.2,352.0 350.7,352.8 353.2,353.6 355.7,354.4 358.2,355.2 360.7,356.0 363.2,356.8 365.7,357.5 368.2,358.3 370.7,359.1 373.2,359.8 375.7,360.5 378.2,361.3 380.7,362.0 383.2,362.7 385.7,363.4 388.2,364.1 390.7,364.8 393.2,365.5 395.7,366.2 398.2,366.9 400.7,367.5 403.2,368.2 405.7,368.8 408.2,369.4 410.7,370.1 413.2,370.7 415.7,371.4 418.2,372.0 420.7,372.6 423.2,373.2 425.7,373.9 428.2,374.5 430.7,375.1 433.2,375.7 435.7,376.3 438.2,376.9 440.7,377.5 443.2,378.1 445.7,378.6 448.2,379.2 450.7,379.7 453.2,380.2 455.7,380.7 458.2,381.2 460.7,381.7 463.2,382.2 465.7,382.7 468.2,383.2 470.7,383.7 473.2,384.2 475.7,384.7 478.2,385.1 480.7,385.6 483.2,386.1 485.7,386.6 488.2,387.0 490.7,387.5 493.2,388.0 495.7,388.4 498.2,388.9 500.7,389.4 503.2,389.9 505.7,390.4 508.2,390.9 510.7,391.4 513.2,391.9 515.7,392.4 518.2,392.9 520.7,393.4 523.2,394.0 525.7,394.5 528.2,395.0 530.7,395.6 533.2,396.2 535.7,396.7 536.0,396.8 537.0,397.1 538.0,397.3 539.0,397.6 540.0,397.8 541.0,398.0 542.0,398.2 543.0,398.3 544.0,398.4 545.0,398.5 546.0,398.5 547.0,398.6 548.0,398.7 549.0,398.8 550.0,398.9 551.0,399.0 552.0,399.1 553.0,399.2 554.0,399.4 555.0,399.7 556.0,400.0 557.0,400.4 558.0,400.9 559.0,401.4 560.0,402.0 561.0,402.7 562.0,403.4 563.0,404.1 564.0,404.9 565.0,405.8 566.0,406.8 567.0,407.8 568.0,408.8 569.0,409.9 570.0,411.1 571.0,412.4 572.0,414.0 573.0,415.7 574.0,417.8 574.8,422.0 574.0,425.7 573.0,427.6 572.0,429.0 571.0,430.3 570.0,431.5 569.0,432.5 568.0,433.4 567.0,434.3 566.0,435.1 565.0,435.9 564.0,436.6 563.0,437.3 562.0,438.0 561.0,438.7 560.0,439.4 559.0,440.1 558.0,440.8 557.0,441.4 556.0,441.9 555.0,442.2 554.0,442.3 553.0,442.4 552.0,442.4 551.0,442.3 550.0,442.1 549.0,441.9 548.0,441.8 547.0,441.6 546.0,441.4 545.0,441.1 544.0,440.9 543.0,440.6 542.0,440.3 541.0,440.0 540.0,439.8 539.0,439.7 538.0,439.5 537.0,439.3 536.0,439.1 535.7,439.0 533.2,438.4 530.7,437.8 528.2,437.2 525.7,436.7 523.2,436.3 520.7,435.8 518.2,435.4 515.7,434.8 513.2,434.3 510.7,433.7 508.2,433.1 505.7,432.4 503.2,431.7 500.7,431.0 498.2,430.3 495.7,429.5 493.2,428.7 490.7,427.8 488.2,426.9 485.7,426.0 483.2,425.1 480.7,424.3 478.2,423.4 475.7,422.5 473.2,421.6 470.7,420.7 468.2,419.8 465.7,418.9 463.2,418.0 460.7,417.1 458.2,416.2 455.7,415.3 453.2,414.4 450.7,413.5 448.2,412.6 445.7,411.7 443.2,410.8 440.7,409.9 438.2,409.1 435.7,408.2 433.2,407.4 430.7,406.5 428.2,405.7 425.7,404.8 423.2,404.0 420.7,403.1 418.2,402.3 415.7,401.4 413.2,400.6 410.7,399.7 408.2,398.8 405.7,398.0 403.2,397.1 400.7,396.2 398.2,395.4 395.7,394.5 393.2,393.6 390.7,392.8 388.2,391.9 385.7,391.0 383.2,390.2 380.7,389.3 378.2,388.4 375.7,387.5 373.2,386.6 370.7,385.7 368.2,384.8 365.7,383.9 363.2,382.9 360.7,382.0 358.2,381.0 355.7,380.0 353.2,379.0 350.7,378.0 348.2,377.0 345.7,376.0 343.2,374.9 340.7,373.9 338.2,372.8 335.7,371.7 333.2,370.7 330.7,369.6 328.2,368.5 325.7,367.4 323.2,366.3 320.7,365.1 318.2,364.0 315.7,362.8 313.2,361.5 310.7,360.3 308.2,359.0 305.7,357.6 303.2,356.3 300.7,354.9 298.2,353.6 295.7,352.2 293.2,350.8 290.7,349.4 288.2,347.9 285.7,346.5 283.2,345.0 280.7,343.5 278.2,342.0 275.7,340.5 273.2,339.0 270.7,337.4 268.2,335.8 265.7,334.1 263.2,332.4 260.7,330.7 258.2,329.0 255.7,327.3 253.2,325.5 250.7,323.6 248.2,321.8 245.7,319.9 243.2,317.9 240.7,315.9 238.2,313.9 235.7,311.8 233.2,309.6 230.7,307.4 228.2,305.1 225.7,302.7 223.2,300.1 220.7,297.1Z" fill="#470d60"/><path d="M232.9,306.2 233.2,305.7 235.7,306.3 238.2,307.4 240.7,308.6 243.2,309.8 245.7,311.1 248.2,312.4 250.7,313.6 253.2,314.9 255.7,316.1 258.2,317.3 260.7,318.5 263.2,319.7 265.7,320.9 268.2,322.0 270.7,323.1 273.2,324.3 275.7,325.4 278.2,326.4 280.7,327.5 283.2,328.6 285.7,329.6 288.2,330.6 290.7,331.6 293.2,332.6 295.7,333.5 298.2,334.5 300.7,335.4 303.2,336.3 305.7,337.2 308.2,338.1 310.7,339.0 313.2,339.8 315.7,340.7 318.2,341.6 320.7,342.5 323.2,343.5 325.7,344.4 328.2,345.3 330.7,346.2 333.2,347.1 335.7,348.0 338.2,348.8 340.7,349.7 343.2,350.5 345.7,351.4 348.2,352.2 350.7,353.0 353.2,353.8 355.7,354.6 358.2,355.4 360.7,356.2 363.2,356.9 365.7,357.7 368.2,358.4 370.7,359.2 373.2,359.9 375.7,360.7 378.2,361.4 380.7,362.1 383.2,362.8 385.7,363.5 388.2,364.2 390.7,364.9 393.2,365.6 395.7,366.3 398.2,367.0 400.7,367.6 403.2,368.3 405.7,368.9 408.2,369.5 410.7,370.2 413.2,370.8 415.7,371.4 418.2,372.1 420.7,372.7 423.2,373.3 425.7,374.0 428.2,374.6 430.7,375.2 433.2,375.8 435.7,376.4 438.2,377.0 440.7,377.6 443.2,378.2 445.7,378.7 448.2,379.3 450.7,379.8 453.2,380.3 455.7,380.8 458.2,381.3 460.7,381.8 463.2,382.3 465.7,382.8 468.2,383.3 470.7,383.8 473.2,384.2 475.7,384.7 478.2,385.2 480.7,385.7 483.2,386.2 485.7,386.6 488.2,387.1 490.7,387.6 493.2,388.0 495.7,388.5 498.2,389.0 500.7,389.5 503.2,389.9 505.7,390.4 508.2,390.9 510.7,391.4 513.2,392.0 515.7,392.5 518.2,393.0 520.7,393.5 523.2,394.0 525.7,394.6 528.2,395.1 530.7,395.6 533.2,396.2 535.7,396.8 536.0,396.9 537.0,397.1 538.0,397.4 539.0,397.6 540.0,397.9 541.0,398.1 542.0,398.3 543.0,398.4 544.0,398.5 545.0,398.5 546.0,398.6 547.0,398.7 548.0,398.8 549.0,398.9 550.0,399.0 551.0,399.1 552.0,399.2 553.0,399.3 554.0,399.5 555.0,399.7 556.0,400.1 557.0,400.5 558.0,401.0 559.0,401.5 560.0,402.1 561.0,402.8 562.0,403.5 563.0,404.2 564.0,405.1 565.0,406.0 566.0,406.9 567.0,407.9 568.0,408.9 569.0,410.0 570.0,411.3 571.0,412.7 572.0,414.3 573.0,416.1 574.0,418.6 574.5,421.9 574.0,425.0 573.0,427.1 572.0,428.7 571.0,430.0 570.0,431.2 569.0,432.3 568.0,433.2 567.0,434.1 566.0,435.0 565.0,435.7 564.0,436.5 563.0,437.1 562.0,437.8 561.0,438.5 560.0,439.2 559.0,439.9 558.0,440.6 557.0,441.2 556.0,441.7 555.0,442.0 554.0,442.1 553.0,442.2 552.0,442.1 551.0,442.0 550.0,441.9 549.0,441.7 548.0,441.6 547.0,441.4 546.0,441.2 545.0,440.9 544.0,440.6 543.0,440.3 542.0,440.1 541.0,439.8 540.0,439.6 539.0,439.5 538.0,439.3 537.0,439.1 536.0,438.8 535.7,438.8 533.2,438.2 530.7,437.6 528.2,437.0 525.7,436.5 523.2,436.1 520.7,435.6 518.2,435.2 515.7,434.6 513.2,434.0 510.7,433.5 508.2,432.9 505.7,432.2 503.2,431.5 500.7,430.8 498.2,430.1 495.7,429.3 493.2,428.5 490.7,427.6 488.2,426.7 485.7,425.8 483.2,424.9 480.7,424.1 478.2,423.2 475.7,422.3 473.2,421.4 470.7,420.5 468.2,419.6 465.7,418.7 463.2,417.8 460.7,416.9 458.2,416.0 455.7,415.1 453.2,414.2 450.7,413.3 448.2,412.4 445.7,411.5 443.2,410.7 440.7,409.8 438.2,408.9 435.7,408.1 433.2,407.2 430.7,406.4 428.2,405.5 425.7,404.7 423.2,403.9 420.7,403.0 418.2,402.2 415.7,401.3 413.2,400.4 410.7,399.6 408.2,398.7 405.7,397.8 403.2,397.0 400.7,396.1 398.2,395.3 395.7,394.4 393.2,393.5 390.7,392.7 388.2,391.8 385.7,390.9 383.2,390.1 380.7,389.2 378.2,388.3 375.7,387.4 373.2,386.5 370.7,385.6 368.2,384.7 365.7,383.7 363.2,382.8 360.7,381.8 358.2,380.8 355.7,379.8 353.2,378.8 350.7,377.8 348.2,376.8 345.7,375.8 343.2,374.7 340.7,373.7 338.2,372.6 335.7,371.6 333.2,370.5 330.7,369.4 328.2,368.3 325.7,367.2 323.2,366.1 320.7,364.9 318.2,363.7 315.7,362.5 313.2,361.2 310.7,360.0 308.2,358.6 305.7,357.3 303.2,355.9 300.7,354.6 298.2,353.2 295.7,351.8 293.2,350.4 290.7,348.9 288.2,347.5 285.7,346.0 283.2,344.5 280.7,343.0 278.2,341.5 275.7,339.9 273.2,338.3 270.7,336.7 268.2,335.1 265.7,333.4 263.2,331.7 260.7,329.9 258.2,328.2 255.7,326.4 253.2,324.5 250.7,322.6 248.2,320.7 245.7,318.7 243.2,316.6 240.7,314.5 238.2,312.2 235.7,309.8 233.2,306.9Z" fill="#471063"/><path d="M244.1,314.2 245.7,313.7 248.2,314.5 250.7,315.4 253.2,316.4 255.7,317.5 258.2,318.6 260.7,319.7 263.2,320.8 265.7,321.9 268.2,322.9 270.7,324.0 273.2,325.1 275.7,326.1 278.2,327.2 280.7,328.2 283.2,329.2 285.7,330.2 288.2,331.2 290.7,332.1 293.2,333.1 295.7,334.0 298.2,334.9 300.7,335.8 303.2,336.7 305.7,337.6 308.2,338.5 310.7,339.3 313.2,340.2 315.7,341.0 318.2,341.9 320.7,342.8 323.2,343.7 325.7,344.6 328.2,345.5 330.7,346.4 333.2,347.3 335.7,348.2 338.2,349.0 340.7,349.9 343.2,350.7 345.7,351.5 348.2,352.4 350.7,353.2 353.2,354.0 355.7,354.7 358.2,355.5 360.7,356.3 363.2,357.1 365.7,357.8 368.2,358.6 370.7,359.3 373.2,360.1 375.7,360.8 378.2,361.5 380.7,362.2 383.2,363.0 385.7,363.7 388.2,364.4 390.7,365.0 393.2,365.7 395.7,366.4 398.2,367.1 400.7,367.7 403.2,368.4 405.7,369.0 408.2,369.6 410.7,370.3 413.2,370.9 415.7,371.5 418.2,372.2 420.7,372.8 423.2,373.4 425.7,374.0 428.2,374.7 430.7,375.3 433.2,375.9 435.7,376.5 438.2,377.1 440.7,377.7 443.2,378.2 445.7,378.8 448.2,379.3 450.7,379.9 453.2,380.4 455.7,380.9 458.2,381.4 460.7,381.9 463.2,382.4 465.7,382.8 468.2,383.3 470.7,383.8 473.2,384.3 475.7,384.8 478.2,385.3 480.7,385.8 483.2,386.2 485.7,386.7 488.2,387.2 490.7,387.6 493.2,388.1 495.7,388.6 498.2,389.0 500.7,389.5 503.2,390.0 505.7,390.5 508.2,391.0 510.7,391.5 513.2,392.0 515.7,392.5 518.2,393.0 520.7,393.5 523.2,394.1 525.7,394.6 528.2,395.2 530.7,395.7 533.2,396.3 535.7,396.9 536.0,396.9 537.0,397.2 538.0,397.4 539.0,397.7 540.0,397.9 541.0,398.2 542.0,398.3 543.0,398.4 544.0,398.5 545.0,398.6 546.0,398.7 547.0,398.8 548.0,398.9 549.0,399.0 550.0,399.1 551.0,399.2 552.0,399.3 553.0,399.4 554.0,399.6 555.0,399.8 556.0,400.2 557.0,400.6 558.0,401.1 559.0,401.6 560.0,402.2 561.0,402.9 562.0,403.6 563.0,404.3 564.0,405.2 565.0,406.1 566.0,407.0 567.0,408.1 568.0,409.1 569.0,410.2 570.0,411.5 571.0,412.9 572.0,414.6 573.0,416.6 574.0,419.6 574.2,421.9 574.0,423.9 573.0,426.6 572.0,428.3 571.0,429.7 570.0,431.0 569.0,432.1 568.0,433.1 567.0,433.9 566.0,434.8 565.0,435.6 564.0,436.3 563.0,437.0 562.0,437.7 561.0,438.3 560.0,439.0 559.0,439.7 558.0,440.4 557.0,441.0 556.0,441.5 555.0,441.8 554.0,441.9 553.0,442.0 552.0,441.9 551.0,441.8 550.0,441.7 549.0,441.5 548.0,441.3 547.0,441.1 546.0,440.9 545.0,440.7 544.0,440.4 543.0,440.1 542.0,439.8 541.0,439.6 540.0,439.4 539.0,439.2 538.0,439.1 537.0,438.9 536.0,438.6 535.7,438.6 533.2,438.0 530.7,437.4 528.2,436.8 525.7,436.3 523.2,435.9 520.7,435.4 518.2,434.9 515.7,434.4 513.2,433.8 510.7,433.2 508.2,432.6 505.7,432.0 503.2,431.3 500.7,430.6 498.2,429.9 495.7,429.1 493.2,428.3 490.7,427.4 488.2,426.5 485.7,425.6 483.2,424.7 480.7,423.9 478.2,423.0 475.7,422.1 473.2,421.2 470.7,420.3 468.2,419.5 465.7,418.6 463.2,417.7 460.7,416.8 458.2,415.9 455.7,415.0 453.2,414.1 450.7,413.2 448.2,412.3 445.7,411.4 443.2,410.5 440.7,409.6 438.2,408.8 435.7,407.9 433.2,407.1 430.7,406.3 428.2,405.4 425.7,404.6 423.2,403.7 420.7,402.9 418.2,402.0 415.7,401.2 413.2,400.3 410.7,399.5 408.2,398.6 405.7,397.7 403.2,396.9 400.7,396.0 398.2,395.1 395.7,394.3 393.2,393.4 390.7,392.5 388.2,391.7 385.7,390.8 383.2,389.9 380.7,389.1 378.2,388.2 375.7,387.3 373.2,386.4 370.7,385.4 368.2,384.5 365.7,383.6 363.2,382.6 360.7,381.6 358.2,380.7 355.7,379.7 353.2,378.7 350.7,377.7 348.2,376.6 345.7,375.6 343.2,374.6 340.7,373.5 338.2,372.4 335.7,371.4 333.2,370.3 330.7,369.2 328.2,368.1 325.7,367.0 323.2,365.8 320.7,364.6 318.2,363.4 315.7,362.2 313.2,360.9 310.7,359.6 308.2,358.3 305.7,356.9 303.2,355.6 300.7,354.2 298.2,352.8 295.7,351.3 293.2,349.9 290.7,348.5 288.2,347.0 285.7,345.5 283.2,344.0 280.7,342.4 278.2,340.9 275.7,339.3 273.2,337.7 270.7,336.0 268.2,334.3 265.7,332.6 263.2,330.8 260.7,329.0 258.2,327.1 255.7,325.2 253.2,323.2 250.7,321.2 248.2,319.0 245.7,316.6Z" fill="#471164"/><path d="M253.6,320.5 255.7,319.8 258.2,320.4 260.7,321.3 263.2,322.1 265.7,323.1 268.2,324.0 270.7,325.0 273.2,326.0 275.7,327.0 278.2,328.0 280.7,328.9 283.2,329.9 285.7,330.9 288.2,331.8 290.7,332.7 293.2,333.6 295.7,334.5 298.2,335.4 300.7,336.3 303.2,337.2 305.7,338.0 308.2,338.8 310.7,339.7 313.2,340.5 315.7,341.4 318.2,342.2 320.7,343.1 323.2,344.0 325.7,344.9 328.2,345.8 330.7,346.6 333.2,347.5 335.7,348.4 338.2,349.2 340.7,350.1 343.2,350.9 345.7,351.7 348.2,352.5 350.7,353.3 353.2,354.1 355.7,354.9 358.2,355.7 360.7,356.4 363.2,357.2 365.7,358.0 368.2,358.7 370.7,359.5 373.2,360.2 375.7,360.9 378.2,361.6 380.7,362.4 383.2,363.1 385.7,363.8 388.2,364.5 390.7,365.1 393.2,365.8 395.7,366.5 398.2,367.2 400.7,367.8 403.2,368.5 405.7,369.1 408.2,369.7 410.7,370.4 413.2,371.0 415.7,371.6 418.2,372.2 420.7,372.9 423.2,373.5 425.7,374.1 428.2,374.7 430.7,375.4 433.2,376.0 435.7,376.6 438.2,377.2 440.7,377.7 443.2,378.3 445.7,378.9 448.2,379.4 450.7,379.9 453.2,380.4 455.7,381.0 458.2,381.5 460.7,381.9 463.2,382.4 465.7,382.9 468.2,383.4 470.7,383.9 473.2,384.4 475.7,384.9 478.2,385.3 480.7,385.8 483.2,386.3 485.7,386.8 488.2,387.2 490.7,387.7 493.2,388.1 495.7,388.6 498.2,389.1 500.7,389.6 503.2,390.1 505.7,390.6 508.2,391.1 510.7,391.6 513.2,392.1 515.7,392.6 518.2,393.1 520.7,393.6 523.2,394.1 525.7,394.7 528.2,395.2 530.7,395.8 533.2,396.4 535.7,396.9 536.0,397.0 537.0,397.3 538.0,397.5 539.0,397.7 540.0,398.0 541.0,398.2 542.0,398.4 543.0,398.5 544.0,398.6 545.0,398.7 546.0,398.8 547.0,398.8 548.0,399.0 549.0,399.1 550.0,399.1 551.0,399.2 552.0,399.3 553.0,399.5 554.0,399.7 555.0,399.9 556.0,400.2 557.0,400.7 558.0,401.1 559.0,401.7 560.0,402.3 561.0,403.0 562.0,403.7 563.0,404.5 564.0,405.3 565.0,406.2 566.0,407.2 567.0,408.2 568.0,409.2 569.0,410.4 570.0,411.7 571.0,413.2 572.0,415.0 573.0,417.1 574.0,421.8 573.0,426.1 572.0,427.9 571.0,429.4 570.0,430.8 569.0,431.9 568.0,432.9 567.0,433.8 566.0,434.6 565.0,435.4 564.0,436.2 563.0,436.9 562.0,437.5 561.0,438.2 560.0,438.8 559.0,439.5 558.0,440.2 557.0,440.8 556.0,441.3 555.0,441.6 554.0,441.7 553.0,441.8 552.0,441.7 551.0,441.6 550.0,441.4 549.0,441.3 548.0,441.1 547.0,440.9 546.0,440.7 545.0,440.5 544.0,440.2 543.0,439.9 542.0,439.6 541.0,439.4 540.0,439.2 539.0,439.0 538.0,438.8 537.0,438.6 536.0,438.4 535.7,438.3 533.2,437.7 530.7,437.2 528.2,436.6 525.7,436.1 523.2,435.7 520.7,435.2 518.2,434.7 515.7,434.2 513.2,433.6 510.7,433.0 508.2,432.4 505.7,431.8 503.2,431.1 500.7,430.4 498.2,429.7 495.7,428.9 493.2,428.1 490.7,427.2 488.2,426.3 485.7,425.4 483.2,424.5 480.7,423.7 478.2,422.8 475.7,421.9 473.2,421.0 470.7,420.2 468.2,419.3 465.7,418.4 463.2,417.5 460.7,416.6 458.2,415.7 455.7,414.8 453.2,413.9 450.7,413.0 448.2,412.1 445.7,411.2 443.2,410.4 440.7,409.5 438.2,408.6 435.7,407.8 433.2,407.0 430.7,406.1 428.2,405.3 425.7,404.4 423.2,403.6 420.7,402.8 418.2,401.9 415.7,401.1 413.2,400.2 410.7,399.3 408.2,398.5 405.7,397.6 403.2,396.7 400.7,395.9 398.2,395.0 395.7,394.2 393.2,393.3 390.7,392.4 388.2,391.6 385.7,390.7 383.2,389.8 380.7,388.9 378.2,388.0 375.7,387.1 373.2,386.2 370.7,385.3 368.2,384.4 365.7,383.4 363.2,382.5 360.7,381.5 358.2,380.5 355.7,379.5 353.2,378.5 350.7,377.5 348.2,376.5 345.7,375.4 343.2,374.4 340.7,373.3 338.2,372.2 335.7,371.2 333.2,370.1 330.7,369.0 328.2,367.9 325.7,366.7 323.2,365.6 320.7,364.4 318.2,363.2 315.7,361.9 313.2,360.6 310.7,359.3 308.2,357.9 305.7,356.6 303.2,355.2 300.7,353.8 298.2,352.3 295.7,350.9 293.2,349.4 290.7,347.9 288.2,346.4 285.7,344.9 283.2,343.4 280.7,341.8 278.2,340.2 275.7,338.6 273.2,336.9 270.7,335.2 268.2,333.4 265.7,331.6 263.2,329.7 260.7,327.7 258.2,325.6 255.7,323.3Z" fill="#481467"/><path d="M261.5,325.3 263.2,324.4 265.7,324.9 268.2,325.5 270.7,326.3 273.2,327.1 275.7,328.0 278.2,328.9 280.7,329.8 283.2,330.7 285.7,331.6 288.2,332.5 290.7,333.4 293.2,334.3 295.7,335.1 298.2,336.0 300.7,336.8 303.2,337.6 305.7,338.4 308.2,339.2 310.7,340.1 313.2,340.9 315.7,341.7 318.2,342.5 320.7,343.4 323.2,344.3 325.7,345.1 328.2,346.0 330.7,346.9 333.2,347.7 335.7,348.6 338.2,349.4 340.7,350.3 343.2,351.1 345.7,351.9 348.2,352.7 350.7,353.5 353.2,354.3 355.7,355.1 358.2,355.8 360.7,356.6 363.2,357.4 365.7,358.1 368.2,358.8 370.7,359.6 373.2,360.3 375.7,361.0 378.2,361.8 380.7,362.5 383.2,363.2 385.7,363.9 388.2,364.6 390.7,365.3 393.2,365.9 395.7,366.6 398.2,367.3 400.7,367.9 403.2,368.6 405.7,369.2 408.2,369.8 410.7,370.5 413.2,371.1 415.7,371.7 418.2,372.3 420.7,373.0 423.2,373.6 425.7,374.2 428.2,374.8 430.7,375.4 433.2,376.0 435.7,376.6 438.2,377.2 440.7,377.8 443.2,378.4 445.7,378.9 448.2,379.5 450.7,380.0 453.2,380.5 455.7,381.0 458.2,381.5 460.7,382.0 463.2,382.5 465.7,383.0 468.2,383.5 470.7,384.0 473.2,384.4 475.7,384.9 478.2,385.4 480.7,385.9 483.2,386.4 485.7,386.8 488.2,387.3 490.7,387.7 493.2,388.2 495.7,388.7 498.2,389.2 500.7,389.6 503.2,390.1 505.7,390.6 508.2,391.1 510.7,391.6 513.2,392.1 515.7,392.6 518.2,393.2 520.7,393.7 523.2,394.2 525.7,394.7 528.2,395.3 530.7,395.8 533.2,396.4 535.7,397.0 536.0,397.1 537.0,397.3 538.0,397.6 539.0,397.8 540.0,398.1 541.0,398.3 542.0,398.5 543.0,398.6 544.0,398.7 545.0,398.7 546.0,398.8 547.0,398.9 548.0,399.0 549.0,399.1 550.0,399.2 551.0,399.3 552.0,399.4 553.0,399.6 554.0,399.7 555.0,400.0 556.0,400.3 557.0,400.7 558.0,401.2 559.0,401.8 560.0,402.4 561.0,403.1 562.0,403.8 563.0,404.6 564.0,405.4 565.0,406.3 566.0,407.3 567.0,408.3 568.0,409.4 569.0,410.5 570.0,411.9 571.0,413.5 572.0,415.4 573.0,417.7 573.7,421.8 573.0,425.4 572.0,427.5 571.0,429.1 570.0,430.5 569.0,431.7 568.0,432.7 567.0,433.6 566.0,434.5 565.0,435.3 564.0,436.0 563.0,436.7 562.0,437.4 561.0,438.0 560.0,438.7 559.0,439.4 558.0,440.0 557.0,440.6 556.0,441.1 555.0,441.4 554.0,441.5 553.0,441.6 552.0,441.5 551.0,441.4 550.0,441.2 549.0,441.0 548.0,440.9 547.0,440.7 546.0,440.5 545.0,440.2 544.0,440.0 543.0,439.7 542.0,439.4 541.0,439.1 540.0,439.0 539.0,438.8 538.0,438.6 537.0,438.4 536.0,438.2 535.7,438.1 533.2,437.5 530.7,436.9 528.2,436.4 525.7,435.9 523.2,435.4 520.7,435.0 518.2,434.5 515.7,434.0 513.2,433.4 510.7,432.8 508.2,432.2 505.7,431.6 503.2,430.9 500.7,430.2 498.2,429.5 495.7,428.7 493.2,427.9 490.7,427.0 488.2,426.1 485.7,425.2 483.2,424.3 480.7,423.5 478.2,422.6 475.7,421.7 473.2,420.9 470.7,420.0 468.2,419.1 465.7,418.2 463.2,417.3 460.7,416.4 458.2,415.5 455.7,414.7 453.2,413.8 450.7,412.9 448.2,412.0 445.7,411.1 443.2,410.2 440.7,409.4 438.2,408.5 435.7,407.7 433.2,406.8 430.7,406.0 428.2,405.1 425.7,404.3 423.2,403.5 420.7,402.6 418.2,401.8 415.7,400.9 413.2,400.1 410.7,399.2 408.2,398.4 405.7,397.5 403.2,396.6 400.7,395.8 398.2,394.9 395.7,394.0 393.2,393.2 390.7,392.3 388.2,391.4 385.7,390.6 383.2,389.7 380.7,388.8 378.2,387.9 375.7,387.0 373.2,386.1 370.7,385.2 368.2,384.2 365.7,383.3 363.2,382.3 360.7,381.3 358.2,380.4 355.7,379.4 353.2,378.3 350.7,377.3 348.2,376.3 345.7,375.3 343.2,374.2 340.7,373.1 338.2,372.0 335.7,371.0 333.2,369.9 330.7,368.7 328.2,367.6 325.7,366.5 323.2,365.3 320.7,364.1 318.2,362.9 315.7,361.6 313.2,360.3 310.7,359.0 308.2,357.6 305.7,356.2 303.2,354.8 300.7,353.3 298.2,351.9 295.7,350.4 293.2,348.9 290.7,347.4 288.2,345.8 285.7,344.3 283.2,342.7 280.7,341.1 278.2,339.4 275.7,337.7 273.2,335.9 270.7,334.1 268.2,332.2 265.7,330.1 263.2,327.8Z" fill="#481769"/><path d="M268.3,329.3 270.7,328.3 273.2,328.7 275.7,329.3 278.2,330.1 280.7,330.9 283.2,331.7 285.7,332.5 288.2,333.3 290.7,334.1 293.2,334.9 295.7,335.7 298.2,336.5 300.7,337.3 303.2,338.1 305.7,338.9 308.2,339.7 310.7,340.5 313.2,341.2 315.7,342.0 318.2,342.9 320.7,343.7 323.2,344.5 325.7,345.4 328.2,346.3 330.7,347.1 333.2,348.0 335.7,348.8 338.2,349.6 340.7,350.4 343.2,351.3 345.7,352.1 348.2,352.9 350.7,353.6 353.2,354.4 355.7,355.2 358.2,356.0 360.7,356.7 363.2,357.5 365.7,358.2 368.2,359.0 370.7,359.7 373.2,360.5 375.7,361.2 378.2,361.9 380.7,362.6 383.2,363.3 385.7,364.0 388.2,364.7 390.7,365.4 393.2,366.0 395.7,366.7 398.2,367.4 400.7,368.0 403.2,368.7 405.7,369.3 408.2,369.9 410.7,370.5 413.2,371.2 415.7,371.8 418.2,372.4 420.7,373.0 423.2,373.7 425.7,374.3 428.2,374.9 430.7,375.5 433.2,376.1 435.7,376.7 438.2,377.3 440.7,377.9 443.2,378.5 445.7,379.0 448.2,379.5 450.7,380.1 453.2,380.6 455.7,381.1 458.2,381.6 460.7,382.1 463.2,382.6 465.7,383.1 468.2,383.5 470.7,384.0 473.2,384.5 475.7,385.0 478.2,385.5 480.7,386.0 483.2,386.4 485.7,386.9 488.2,387.3 490.7,387.8 493.2,388.3 495.7,388.7 498.2,389.2 500.7,389.7 503.2,390.2 505.7,390.7 508.2,391.2 510.7,391.7 513.2,392.2 515.7,392.7 518.2,393.2 520.7,393.7 523.2,394.3 525.7,394.8 528.2,395.3 530.7,395.9 533.2,396.5 535.7,397.1 536.0,397.1 537.0,397.4 538.0,397.6 539.0,397.9 540.0,398.1 541.0,398.4 542.0,398.5 543.0,398.6 544.0,398.7 545.0,398.8 546.0,398.9 547.0,399.0 548.0,399.1 549.0,399.2 550.0,399.3 551.0,399.4 552.0,399.5 553.0,399.6 554.0,399.8 555.0,400.1 556.0,400.4 557.0,400.8 558.0,401.3 559.0,401.9 560.0,402.5 561.0,403.2 562.0,403.9 563.0,404.7 564.0,405.5 565.0,406.5 566.0,407.4 567.0,408.5 568.0,409.6 569.0,410.7 570.0,412.1 571.0,413.8 572.0,415.8 573.0,418.5 573.4,421.7 573.0,424.7 572.0,427.1 571.0,428.8 570.0,430.3 569.0,431.5 568.0,432.5 567.0,433.4 566.0,434.3 565.0,435.1 564.0,435.9 563.0,436.6 562.0,437.2 561.0,437.8 560.0,438.5 559.0,439.2 558.0,439.8 557.0,440.4 556.0,440.9 555.0,441.2 554.0,441.3 553.0,441.4 552.0,441.3 551.0,441.2 550.0,441.0 549.0,440.8 548.0,440.6 547.0,440.5 546.0,440.3 545.0,440.0 544.0,439.7 543.0,439.4 542.0,439.2 541.0,438.9 540.0,438.7 539.0,438.6 538.0,438.4 537.0,438.2 536.0,438.0 535.7,437.9 533.2,437.3 530.7,436.7 528.2,436.2 525.7,435.7 523.2,435.2 520.7,434.8 518.2,434.3 515.7,433.8 513.2,433.2 510.7,432.6 508.2,432.0 505.7,431.4 503.2,430.7 500.7,430.0 498.2,429.3 495.7,428.5 493.2,427.7 490.7,426.8 488.2,425.9 485.7,425.0 483.2,424.1 480.7,423.3 478.2,422.4 475.7,421.5 473.2,420.7 470.7,419.8 468.2,418.9 465.7,418.0 463.2,417.2 460.7,416.3 458.2,415.4 455.7,414.5 453.2,413.6 450.7,412.7 448.2,411.8 445.7,410.9 443.2,410.1 440.7,409.2 438.2,408.4 435.7,407.5 433.2,406.7 430.7,405.9 428.2,405.0 425.7,404.2 423.2,403.3 420.7,402.5 418.2,401.7 415.7,400.8 413.2,400.0 410.7,399.1 408.2,398.2 405.7,397.4 403.2,396.5 400.7,395.7 398.2,394.8 395.7,393.9 393.2,393.1 390.7,392.2 388.2,391.3 385.7,390.5 383.2,389.6 380.7,388.7 378.2,387.8 375.7,386.9 373.2,386.0 370.7,385.0 368.2,384.1 365.7,383.1 363.2,382.2 360.7,381.2 358.2,380.2 355.7,379.2 353.2,378.2 350.7,377.2 348.2,376.1 345.7,375.1 343.2,374.0 340.7,372.9 338.2,371.8 335.7,370.7 333.2,369.6 330.7,368.5 328.2,367.4 325.7,366.2 323.2,365.0 320.7,363.8 318.2,362.6 315.7,361.3 313.2,360.0 310.7,358.6 308.2,357.2 305.7,355.8 303.2,354.3 300.7,352.8 298.2,351.4 295.7,349.9 293.2,348.3 290.7,346.8 288.2,345.2 285.7,343.6 283.2,341.9 280.7,340.2 278.2,338.4 275.7,336.6 273.2,334.6 270.7,332.5Z" fill="#48186a"/><path d="M274.4,332.7 275.7,331.6 278.2,331.7 280.7,332.2 283.2,332.8 285.7,333.5 288.2,334.2 290.7,334.9 293.2,335.7 295.7,336.4 298.2,337.2 300.7,337.9 303.2,338.7 305.7,339.4 308.2,340.1 310.7,340.9 313.2,341.6 315.7,342.4 318.2,343.2 320.7,344.0 323.2,344.9 325.7,345.7 328.2,346.5 330.7,347.4 333.2,348.2 335.7,349.0 338.2,349.8 340.7,350.6 343.2,351.4 345.7,352.2 348.2,353.0 350.7,353.8 353.2,354.6 355.7,355.4 358.2,356.1 360.7,356.9 363.2,357.7 365.7,358.4 368.2,359.1 370.7,359.9 373.2,360.6 375.7,361.3 378.2,362.0 380.7,362.7 383.2,363.4 385.7,364.1 388.2,364.8 390.7,365.5 393.2,366.2 395.7,366.8 398.2,367.5 400.7,368.1 403.2,368.8 405.7,369.4 408.2,370.0 410.7,370.6 413.2,371.3 415.7,371.9 418.2,372.5 420.7,373.1 423.2,373.8 425.7,374.4 428.2,375.0 430.7,375.6 433.2,376.2 435.7,376.8 438.2,377.4 440.7,378.0 443.2,378.5 445.7,379.1 448.2,379.6 450.7,380.1 453.2,380.7 455.7,381.2 458.2,381.7 460.7,382.2 463.2,382.6 465.7,383.1 468.2,383.6 470.7,384.1 473.2,384.6 475.7,385.1 478.2,385.5 480.7,386.0 483.2,386.5 485.7,387.0 488.2,387.4 490.7,387.9 493.2,388.3 495.7,388.8 498.2,389.3 500.7,389.8 503.2,390.3 505.7,390.8 508.2,391.3 510.7,391.8 513.2,392.3 515.7,392.8 518.2,393.3 520.7,393.8 523.2,394.3 525.7,394.9 528.2,395.4 530.7,396.0 533.2,396.5 535.7,397.1 536.0,397.2 537.0,397.4 538.0,397.7 539.0,397.9 540.0,398.2 541.0,398.4 542.0,398.6 543.0,398.7 544.0,398.8 545.0,398.9 546.0,399.0 547.0,399.1 548.0,399.2 549.0,399.3 550.0,399.4 551.0,399.5 552.0,399.6 553.0,399.7 554.0,399.9 555.0,400.2 556.0,400.5 557.0,400.9 558.0,401.4 559.0,402.0 560.0,402.6 561.0,403.3 562.0,404.0 563.0,404.8 564.0,405.6 565.0,406.6 566.0,407.6 567.0,408.6 568.0,409.7 569.0,410.9 570.0,412.4 571.0,414.1 572.0,416.2 573.0,419.6 573.2,421.7 573.0,423.6 572.0,426.6 571.0,428.5 570.0,430.0 569.0,431.3 568.0,432.3 567.0,433.2 566.0,434.1 565.0,435.0 564.0,435.7 563.0,436.4 562.0,437.1 561.0,437.7 560.0,438.3 559.0,439.0 558.0,439.6 557.0,440.2 556.0,440.7 555.0,441.0 554.0,441.1 553.0,441.1 552.0,441.1 551.0,441.0 550.0,440.8 549.0,440.6 548.0,440.4 547.0,440.2 546.0,440.0 545.0,439.8 544.0,439.5 543.0,439.2 542.0,438.9 541.0,438.7 540.0,438.5 539.0,438.4 538.0,438.2 537.0,438.0 536.0,437.8 535.7,437.7 533.2,437.1 530.7,436.5 528.2,436.0 525.7,435.4 523.2,435.0 520.7,434.6 518.2,434.1 515.7,433.6 513.2,433.0 510.7,432.4 508.2,431.8 505.7,431.2 503.2,430.5 500.7,429.8 498.2,429.1 495.7,428.3 493.2,427.4 490.7,426.6 488.2,425.7 485.7,424.8 483.2,424.0 480.7,423.1 478.2,422.2 475.7,421.4 473.2,420.5 470.7,419.6 468.2,418.8 465.7,417.9 463.2,417.0 460.7,416.1 458.2,415.2 455.7,414.4 453.2,413.5 450.7,412.6 448.2,411.7 445.7,410.8 443.2,409.9 440.7,409.1 438.2,408.2 435.7,407.4 433.2,406.6 430.7,405.7 428.2,404.9 425.7,404.0 423.2,403.2 420.7,402.4 418.2,401.5 415.7,400.7 413.2,399.8 410.7,399.0 408.2,398.1 405.7,397.3 403.2,396.4 400.7,395.5 398.2,394.7 395.7,393.8 393.2,393.0 390.7,392.1 388.2,391.2 385.7,390.3 383.2,389.5 380.7,388.6 378.2,387.7 375.7,386.8 373.2,385.8 370.7,384.9 368.2,383.9 365.7,383.0 363.2,382.0 360.7,381.0 358.2,380.0 355.7,379.0 353.2,378.0 350.7,377.0 348.2,375.9 345.7,374.9 343.2,373.8 340.7,372.7 338.2,371.6 335.7,370.5 333.2,369.4 330.7,368.3 328.2,367.1 325.7,365.9 323.2,364.7 320.7,363.5 318.2,362.2 315.7,360.9 313.2,359.6 310.7,358.2 308.2,356.8 305.7,355.3 303.2,353.8 300.7,352.3 298.2,350.8 295.7,349.3 293.2,347.7 290.7,346.1 288.2,344.4 285.7,342.7 283.2,340.9 280.7,339.1 278.2,337.1 275.7,334.8Z" fill="#481b6d"/><path d="M280.0,335.7 280.7,334.7 283.2,334.5 285.7,334.8 288.2,335.3 290.7,335.9 293.2,336.5 295.7,337.2 298.2,337.9 300.7,338.6 303.2,339.3 305.7,339.9 308.2,340.6 310.7,341.3 313.2,342.1 315.7,342.8 318.2,343.6 320.7,344.4 323.2,345.2 325.7,346.0 328.2,346.8 330.7,347.6 333.2,348.4 335.7,349.2 338.2,350.1 340.7,350.8 343.2,351.6 345.7,352.4 348.2,353.2 350.7,354.0 353.2,354.8 355.7,355.5 358.2,356.3 360.7,357.1 363.2,357.8 365.7,358.5 368.2,359.3 370.7,360.0 373.2,360.7 375.7,361.4 378.2,362.1 380.7,362.8 383.2,363.5 385.7,364.2 388.2,364.9 390.7,365.6 393.2,366.3 395.7,366.9 398.2,367.6 400.7,368.2 403.2,368.9 405.7,369.5 408.2,370.1 410.7,370.7 413.2,371.4 415.7,372.0 418.2,372.6 420.7,373.2 423.2,373.8 425.7,374.5 428.2,375.1 430.7,375.7 433.2,376.3 435.7,376.9 438.2,377.5 440.7,378.0 443.2,378.6 445.7,379.2 448.2,379.7 450.7,380.2 453.2,380.7 455.7,381.2 458.2,381.7 460.7,382.2 463.2,382.7 465.7,383.2 468.2,383.7 470.7,384.2 473.2,384.6 475.7,385.1 478.2,385.6 480.7,386.1 483.2,386.6 485.7,387.0 488.2,387.5 490.7,387.9 493.2,388.4 495.7,388.9 498.2,389.3 500.7,389.8 503.2,390.3 505.7,390.8 508.2,391.3 510.7,391.8 513.2,392.3 515.7,392.8 518.2,393.3 520.7,393.9 523.2,394.4 525.7,394.9 528.2,395.5 530.7,396.0 533.2,396.6 535.7,397.2 536.0,397.3 537.0,397.5 538.0,397.8 539.0,398.0 540.0,398.3 541.0,398.5 542.0,398.7 543.0,398.8 544.0,398.9 545.0,399.0 546.0,399.0 547.0,399.1 548.0,399.2 549.0,399.4 550.0,399.4 551.0,399.5 552.0,399.7 553.0,399.8 554.0,400.0 555.0,400.3 556.0,400.6 557.0,401.0 558.0,401.5 559.0,402.1 560.0,402.7 561.0,403.4 562.0,404.1 563.0,404.9 564.0,405.8 565.0,406.7 566.0,407.7 567.0,408.8 568.0,409.9 569.0,411.1 570.0,412.6 571.0,414.4 572.0,416.8 572.9,421.6 572.0,426.1 571.0,428.1 570.0,429.7 569.0,431.0 568.0,432.1 567.0,433.0 566.0,434.0 565.0,434.8 564.0,435.6 563.0,436.3 562.0,436.9 561.0,437.5 560.0,438.2 559.0,438.8 558.0,439.5 557.0,440.0 556.0,440.5 555.0,440.8 554.0,440.9 553.0,440.9 552.0,440.9 551.0,440.7 550.0,440.6 549.0,440.4 548.0,440.2 547.0,440.0 546.0,439.8 545.0,439.6 544.0,439.3 543.0,439.0 542.0,438.7 541.0,438.5 540.0,438.3 539.0,438.2 538.0,438.0 537.0,437.8 536.0,437.6 535.7,437.5 533.2,436.9 530.7,436.3 528.2,435.8 525.7,435.2 523.2,434.8 520.7,434.4 518.2,433.9 515.7,433.4 513.2,432.8 510.7,432.2 508.2,431.6 505.7,431.0 503.2,430.3 500.7,429.6 498.2,428.8 495.7,428.1 493.2,427.2 490.7,426.4 488.2,425.5 485.7,424.6 483.2,423.8 480.7,422.9 478.2,422.0 475.7,421.2 473.2,420.3 470.7,419.5 468.2,418.6 465.7,417.7 463.2,416.9 460.7,416.0 458.2,415.1 455.7,414.2 453.2,413.3 450.7,412.4 448.2,411.5 445.7,410.7 443.2,409.8 440.7,408.9 438.2,408.1 435.7,407.3 433.2,406.4 430.7,405.6 428.2,404.8 425.7,403.9 423.2,403.1 420.7,402.3 418.2,401.4 415.7,400.6 413.2,399.7 410.7,398.9 408.2,398.0 405.7,397.1 403.2,396.3 400.7,395.4 398.2,394.6 395.7,393.7 393.2,392.8 390.7,392.0 388.2,391.1 385.7,390.2 383.2,389.3 380.7,388.4 378.2,387.5 375.7,386.6 373.2,385.7 370.7,384.8 368.2,383.8 365.7,382.8 363.2,381.9 360.7,380.9 358.2,379.9 355.7,378.9 353.2,377.8 350.7,376.8 348.2,375.8 345.7,374.7 343.2,373.6 340.7,372.5 338.2,371.4 335.7,370.3 333.2,369.2 330.7,368.0 328.2,366.9 325.7,365.7 323.2,364.4 320.7,363.2 318.2,361.9 315.7,360.6 313.2,359.2 310.7,357.8 308.2,356.3 305.7,354.9 303.2,353.3 300.7,351.8 298.2,350.2 295.7,348.6 293.2,347.0 290.7,345.3 288.2,343.5 285.7,341.6 283.2,339.6 280.7,337.1Z" fill="#481c6e"/><path d="M285.0,338.3 285.7,337.3 288.2,336.9 290.7,337.2 293.2,337.6 295.7,338.1 298.2,338.7 300.7,339.3 303.2,339.9 305.7,340.5 308.2,341.2 310.7,341.8 313.2,342.5 315.7,343.2 318.2,344.0 320.7,344.7 323.2,345.5 325.7,346.3 328.2,347.1 330.7,347.9 333.2,348.7 335.7,349.5 338.2,350.3 340.7,351.1 343.2,351.8 345.7,352.6 348.2,353.4 350.7,354.2 353.2,354.9 355.7,355.7 358.2,356.5 360.7,357.2 363.2,357.9 365.7,358.7 368.2,359.4 370.7,360.1 373.2,360.9 375.7,361.6 378.2,362.3 380.7,363.0 383.2,363.7 385.7,364.4 388.2,365.0 390.7,365.7 393.2,366.4 395.7,367.0 398.2,367.7 400.7,368.3 403.2,369.0 405.7,369.6 408.2,370.2 410.7,370.8 413.2,371.4 415.7,372.1 418.2,372.7 420.7,373.3 423.2,373.9 425.7,374.5 428.2,375.2 430.7,375.8 433.2,376.4 435.7,377.0 438.2,377.5 440.7,378.1 443.2,378.7 445.7,379.2 448.2,379.8 450.7,380.3 453.2,380.8 455.7,381.3 458.2,381.8 460.7,382.3 463.2,382.8 465.7,383.3 468.2,383.7 470.7,384.2 473.2,384.7 475.7,385.2 478.2,385.7 480.7,386.2 483.2,386.6 485.7,387.1 488.2,387.5 490.7,388.0 493.2,388.5 495.7,388.9 498.2,389.4 500.7,389.9 503.2,390.4 505.7,390.9 508.2,391.4 510.7,391.9 513.2,392.4 515.7,392.9 518.2,393.4 520.7,393.9 523.2,394.5 525.7,395.0 528.2,395.5 530.7,396.1 533.2,396.7 535.7,397.3 536.0,397.3 537.0,397.6 538.0,397.8 539.0,398.1 540.0,398.3 541.0,398.5 542.0,398.7 543.0,398.8 544.0,398.9 545.0,399.0 546.0,399.1 547.0,399.2 548.0,399.3 549.0,399.4 550.0,399.5 551.0,399.6 552.0,399.7 553.0,399.9 554.0,400.1 555.0,400.3 556.0,400.7 557.0,401.1 558.0,401.6 559.0,402.2 560.0,402.8 561.0,403.5 562.0,404.2 563.0,405.0 564.0,405.9 565.0,406.8 566.0,407.9 567.0,408.9 568.0,410.0 569.0,411.3 570.0,412.9 571.0,414.8 572.0,417.4 572.7,421.6 572.0,425.5 571.0,427.7 570.0,429.4 569.0,430.8 568.0,431.9 567.0,432.9 566.0,433.8 565.0,434.7 564.0,435.4 563.0,436.1 562.0,436.8 561.0,437.4 560.0,438.0 559.0,438.7 558.0,439.3 557.0,439.8 556.0,440.3 555.0,440.6 554.0,440.7 553.0,440.7 552.0,440.7 551.0,440.5 550.0,440.4 549.0,440.2 548.0,440.0 547.0,439.8 546.0,439.6 545.0,439.3 544.0,439.1 543.0,438.8 542.0,438.5 541.0,438.3 540.0,438.1 539.0,437.9 538.0,437.8 537.0,437.6 536.0,437.3 535.7,437.3 533.2,436.7 530.7,436.1 528.2,435.5 525.7,435.0 523.2,434.6 520.7,434.2 518.2,433.7 515.7,433.2 513.2,432.6 510.7,432.0 508.2,431.4 505.7,430.8 503.2,430.1 500.7,429.4 498.2,428.6 495.7,427.9 493.2,427.0 490.7,426.2 488.2,425.3 485.7,424.5 483.2,423.6 480.7,422.7 478.2,421.9 475.7,421.0 473.2,420.1 470.7,419.3 468.2,418.4 465.7,417.6 463.2,416.7 460.7,415.8 458.2,414.9 455.7,414.1 453.2,413.2 450.7,412.3 448.2,411.4 445.7,410.5 443.2,409.7 440.7,408.8 438.2,408.0 435.7,407.1 433.2,406.3 430.7,405.5 428.2,404.6 425.7,403.8 423.2,403.0 420.7,402.1 418.2,401.3 415.7,400.5 413.2,399.6 410.7,398.8 408.2,397.9 405.7,397.0 403.2,396.2 400.7,395.3 398.2,394.4 395.7,393.6 393.2,392.7 390.7,391.9 388.2,391.0 385.7,390.1 383.2,389.2 380.7,388.3 378.2,387.4 375.7,386.5 373.2,385.5 370.7,384.6 368.2,383.6 365.7,382.7 363.2,381.7 360.7,380.7 358.2,379.7 355.7,378.7 353.2,377.7 350.7,376.6 348.2,375.6 345.7,374.5 343.2,373.4 340.7,372.3 338.2,371.2 335.7,370.1 333.2,368.9 330.7,367.8 328.2,366.6 325.7,365.4 323.2,364.1 320.7,362.9 318.2,361.6 315.7,360.2 313.2,358.8 310.7,357.4 308.2,355.9 305.7,354.4 303.2,352.8 300.7,351.2 298.2,349.5 295.7,347.9 293.2,346.1 290.7,344.2 288.2,342.2 285.7,339.7Z" fill="#481f70"/><path d="M289.5,340.5 290.7,339.2 293.2,339.0 295.7,339.2 298.2,339.6 300.7,340.1 303.2,340.6 305.7,341.2 308.2,341.7 310.7,342.3 313.2,343.0 315.7,343.7 318.2,344.4 320.7,345.1 323.2,345.9 325.7,346.6 328.2,347.4 330.7,348.2 333.2,348.9 335.7,349.7 338.2,350.5 340.7,351.3 343.2,352.0 345.7,352.8 348.2,353.6 350.7,354.3 353.2,355.1 355.7,355.9 358.2,356.6 360.7,357.4 363.2,358.1 365.7,358.8 368.2,359.6 370.7,360.3 373.2,361.0 375.7,361.7 378.2,362.4 380.7,363.1 383.2,363.8 385.7,364.5 388.2,365.2 390.7,365.8 393.2,366.5 395.7,367.1 398.2,367.8 400.7,368.4 403.2,369.1 405.7,369.7 408.2,370.3 410.7,370.9 413.2,371.5 415.7,372.2 418.2,372.8 420.7,373.4 423.2,374.0 425.7,374.6 428.2,375.2 430.7,375.8 433.2,376.4 435.7,377.0 438.2,377.6 440.7,378.2 443.2,378.8 445.7,379.3 448.2,379.8 450.7,380.4 453.2,380.9 455.7,381.4 458.2,381.9 460.7,382.4 463.2,382.8 465.7,383.3 468.2,383.8 470.7,384.3 473.2,384.8 475.7,385.3 478.2,385.7 480.7,386.2 483.2,386.7 485.7,387.2 488.2,387.6 490.7,388.1 493.2,388.5 495.7,389.0 498.2,389.5 500.7,390.0 503.2,390.5 505.7,390.9 508.2,391.4 510.7,391.9 513.2,392.4 515.7,393.0 518.2,393.5 520.7,394.0 523.2,394.5 525.7,395.1 528.2,395.6 530.7,396.2 533.2,396.7 535.7,397.3 536.0,397.4 537.0,397.6 538.0,397.9 539.0,398.1 540.0,398.4 541.0,398.6 542.0,398.8 543.0,398.9 544.0,399.0 545.0,399.1 546.0,399.2 547.0,399.3 548.0,399.4 549.0,399.5 550.0,399.6 551.0,399.7 552.0,399.8 553.0,400.0 554.0,400.2 555.0,400.4 556.0,400.8 557.0,401.2 558.0,401.7 559.0,402.3 560.0,402.9 561.0,403.6 562.0,404.3 563.0,405.1 564.0,406.0 565.0,407.0 566.0,408.0 567.0,409.1 568.0,410.2 569.0,411.5 570.0,413.1 571.0,415.2 572.0,418.1 572.5,421.6 572.0,424.7 571.0,427.3 570.0,429.1 569.0,430.6 568.0,431.7 567.0,432.7 566.0,433.6 565.0,434.5 564.0,435.3 563.0,436.0 562.0,436.6 561.0,437.2 560.0,437.9 559.0,438.5 558.0,439.1 557.0,439.6 556.0,440.1 555.0,440.4 554.0,440.5 553.0,440.6 552.0,440.5 551.0,440.3 550.0,440.2 549.0,440.0 548.0,439.8 547.0,439.6 546.0,439.4 545.0,439.1 544.0,438.9 543.0,438.6 542.0,438.3 541.0,438.1 540.0,437.9 539.0,437.7 538.0,437.5 537.0,437.3 536.0,437.1 535.7,437.1 533.2,436.5 530.7,435.9 528.2,435.3 525.7,434.8 523.2,434.4 520.7,434.0 518.2,433.5 515.7,433.0 513.2,432.4 510.7,431.8 508.2,431.2 505.7,430.5 503.2,429.9 500.7,429.2 498.2,428.4 495.7,427.7 493.2,426.8 490.7,426.0 488.2,425.1 485.7,424.3 483.2,423.4 480.7,422.5 478.2,421.7 475.7,420.8 473.2,420.0 470.7,419.1 468.2,418.3 465.7,417.4 463.2,416.5 460.7,415.7 458.2,414.8 455.7,413.9 453.2,413.0 450.7,412.1 448.2,411.3 445.7,410.4 443.2,409.5 440.7,408.7 438.2,407.8 435.7,407.0 433.2,406.2 430.7,405.3 428.2,404.5 425.7,403.7 423.2,402.8 420.7,402.0 418.2,401.2 415.7,400.3 413.2,399.5 410.7,398.6 408.2,397.8 405.7,396.9 403.2,396.1 400.7,395.2 398.2,394.3 395.7,393.5 393.2,392.6 390.7,391.7 388.2,390.9 385.7,390.0 383.2,389.1 380.7,388.2 378.2,387.3 375.7,386.3 373.2,385.4 370.7,384.5 368.2,383.5 365.7,382.5 363.2,381.5 360.7,380.5 358.2,379.5 355.7,378.5 353.2,377.5 350.7,376.5 348.2,375.4 345.7,374.3 343.2,373.2 340.7,372.1 338.2,371.0 335.7,369.8 333.2,368.7 330.7,367.5 328.2,366.3 325.7,365.1 323.2,363.8 320.7,362.5 318.2,361.2 315.7,359.8 313.2,358.4 310.7,356.9 308.2,355.4 305.7,353.8 303.2,352.2 300.7,350.5 298.2,348.7 295.7,346.9 293.2,344.9 290.7,342.6Z" fill="#482173"/><path d="M293.6,342.5 295.7,340.9 298.2,340.9 300.7,341.1 303.2,341.5 305.7,341.9 308.2,342.4 310.7,342.9 313.2,343.5 315.7,344.1 318.2,344.8 320.7,345.5 323.2,346.2 325.7,347.0 328.2,347.7 330.7,348.5 333.2,349.2 335.7,350.0 338.2,350.7 340.7,351.5 343.2,352.3 345.7,353.0 348.2,353.8 350.7,354.5 353.2,355.3 355.7,356.0 358.2,356.8 360.7,357.5 363.2,358.3 365.7,359.0 368.2,359.7 370.7,360.4 373.2,361.1 375.7,361.8 378.2,362.5 380.7,363.2 383.2,363.9 385.7,364.6 388.2,365.3 390.7,365.9 393.2,366.6 395.7,367.2 398.2,367.9 400.7,368.5 403.2,369.2 405.7,369.8 408.2,370.4 410.7,371.0 413.2,371.6 415.7,372.2 418.2,372.9 420.7,373.5 423.2,374.1 425.7,374.7 428.2,375.3 430.7,375.9 433.2,376.5 435.7,377.1 438.2,377.7 440.7,378.3 443.2,378.8 445.7,379.4 448.2,379.9 450.7,380.4 453.2,381.0 455.7,381.5 458.2,382.0 460.7,382.4 463.2,382.9 465.7,383.4 468.2,383.9 470.7,384.4 473.2,384.9 475.7,385.3 478.2,385.8 480.7,386.3 483.2,386.8 485.7,387.2 488.2,387.7 490.7,388.1 493.2,388.6 495.7,389.1 498.2,389.5 500.7,390.0 503.2,390.5 505.7,391.0 508.2,391.5 510.7,392.0 513.2,392.5 515.7,393.0 518.2,393.5 520.7,394.0 523.2,394.6 525.7,395.1 528.2,395.7 530.7,396.2 533.2,396.8 535.7,397.4 536.0,397.5 537.0,397.7 538.0,397.9 539.0,398.2 540.0,398.5 541.0,398.7 542.0,398.9 543.0,399.0 544.0,399.1 545.0,399.2 546.0,399.2 547.0,399.3 548.0,399.5 549.0,399.6 550.0,399.7 551.0,399.8 552.0,399.9 553.0,400.0 554.0,400.2 555.0,400.5 556.0,400.9 557.0,401.3 558.0,401.8 559.0,402.4 560.0,403.0 561.0,403.7 562.0,404.4 563.0,405.2 564.0,406.1 565.0,407.1 566.0,408.1 567.0,409.2 568.0,410.4 569.0,411.7 570.0,413.4 571.0,415.6 572.0,419.0 572.2,421.5 572.0,423.8 571.0,426.9 570.0,428.8 569.0,430.3 568.0,431.5 567.0,432.5 566.0,433.4 565.0,434.3 564.0,435.1 563.0,435.8 562.0,436.5 561.0,437.1 560.0,437.7 559.0,438.3 558.0,438.9 557.0,439.5 556.0,439.9 555.0,440.2 554.0,440.3 553.0,440.4 552.0,440.3 551.0,440.2 550.0,440.0 549.0,439.8 548.0,439.6 547.0,439.4 546.0,439.2 545.0,438.9 544.0,438.7 543.0,438.4 542.0,438.1 541.0,437.9 540.0,437.7 539.0,437.5 538.0,437.3 537.0,437.1 536.0,436.9 535.7,436.9 533.2,436.3 530.7,435.7 528.2,435.1 525.7,434.6 523.2,434.2 520.7,433.8 518.2,433.3 515.7,432.8 513.2,432.2 510.7,431.6 508.2,431.0 505.7,430.3 503.2,429.7 500.7,429.0 498.2,428.2 495.7,427.5 493.2,426.7 490.7,425.8 488.2,424.9 485.7,424.1 483.2,423.2 480.7,422.3 478.2,421.5 475.7,420.6 473.2,419.8 470.7,419.0 468.2,418.1 465.7,417.3 463.2,416.4 460.7,415.5 458.2,414.6 455.7,413.8 453.2,412.9 450.7,412.0 448.2,411.1 445.7,410.2 443.2,409.4 440.7,408.5 438.2,407.7 435.7,406.9 433.2,406.0 430.7,405.2 428.2,404.4 425.7,403.5 423.2,402.7 420.7,401.9 418.2,401.1 415.7,400.2 413.2,399.4 410.7,398.5 408.2,397.7 405.7,396.8 403.2,395.9 400.7,395.1 398.2,394.2 395.7,393.4 393.2,392.5 390.7,391.6 388.2,390.7 385.7,389.8 383.2,389.0 380.7,388.0 378.2,387.1 375.7,386.2 373.2,385.3 370.7,384.3 368.2,383.3 365.7,382.4 363.2,381.4 360.7,380.4 358.2,379.4 355.7,378.4 353.2,377.3 350.7,376.3 348.2,375.2 345.7,374.1 343.2,373.0 340.7,371.9 338.2,370.8 335.7,369.6 333.2,368.4 330.7,367.2 328.2,366.0 325.7,364.8 323.2,363.5 320.7,362.2 318.2,360.8 315.7,359.4 313.2,358.0 310.7,356.4 308.2,354.8 305.7,353.2 303.2,351.4 300.7,349.6 298.2,347.7 295.7,345.6Z" fill="#482374"/><path d="M297.2,344.2 298.2,342.9 300.7,342.5 303.2,342.5 305.7,342.8 308.2,343.1 310.7,343.5 313.2,344.1 315.7,344.6 318.2,345.2 320.7,345.9 323.2,346.6 325.7,347.3 328.2,348.0 330.7,348.8 333.2,349.5 335.7,350.3 338.2,351.0 340.7,351.7 343.2,352.5 345.7,353.2 348.2,354.0 350.7,354.7 353.2,355.5 355.7,356.2 358.2,356.9 360.7,357.7 363.2,358.4 365.7,359.1 368.2,359.9 370.7,360.6 373.2,361.3 375.7,362.0 378.2,362.7 380.7,363.4 383.2,364.0 385.7,364.7 388.2,365.4 390.7,366.1 393.2,366.7 395.7,367.4 398.2,368.0 400.7,368.6 403.2,369.3 405.7,369.9 408.2,370.5 410.7,371.1 413.2,371.7 415.7,372.3 418.2,373.0 420.7,373.6 423.2,374.2 425.7,374.8 428.2,375.4 430.7,376.0 433.2,376.6 435.7,377.2 438.2,377.8 440.7,378.4 443.2,378.9 445.7,379.5 448.2,380.0 450.7,380.5 453.2,381.0 455.7,381.5 458.2,382.0 460.7,382.5 463.2,383.0 465.7,383.5 468.2,384.0 470.7,384.4 473.2,384.9 475.7,385.4 478.2,385.9 480.7,386.4 483.2,386.8 485.7,387.3 488.2,387.7 490.7,388.2 493.2,388.7 495.7,389.1 498.2,389.6 500.7,390.1 503.2,390.6 505.7,391.1 508.2,391.6 510.7,392.1 513.2,392.6 515.7,393.1 518.2,393.6 520.7,394.1 523.2,394.6 525.7,395.2 528.2,395.7 530.7,396.3 533.2,396.9 535.7,397.4 536.0,397.5 537.0,397.8 538.0,398.0 539.0,398.3 540.0,398.5 541.0,398.7 542.0,398.9 543.0,399.0 544.0,399.1 545.0,399.2 546.0,399.3 547.0,399.4 548.0,399.5 549.0,399.7 550.0,399.8 551.0,399.9 552.0,400.0 553.0,400.1 554.0,400.3 555.0,400.6 556.0,400.9 557.0,401.4 558.0,401.9 559.0,402.5 560.0,403.1 561.0,403.8 562.0,404.5 563.0,405.4 564.0,406.3 565.0,407.2 566.0,408.3 567.0,409.4 568.0,410.6 569.0,412.0 570.0,413.7 571.0,416.1 572.0,421.5 572.0,421.5 572.0,421.5 571.0,426.4 570.0,428.5 569.0,430.1 568.0,431.3 567.0,432.3 566.0,433.3 565.0,434.2 564.0,435.0 563.0,435.7 562.0,436.3 561.0,436.9 560.0,437.5 559.0,438.2 558.0,438.7 557.0,439.3 556.0,439.7 555.0,440.0 554.0,440.1 553.0,440.2 552.0,440.1 551.0,440.0 550.0,439.8 549.0,439.6 548.0,439.4 547.0,439.2 546.0,439.0 545.0,438.7 544.0,438.4 543.0,438.2 542.0,437.9 541.0,437.6 540.0,437.5 539.0,437.3 538.0,437.1 537.0,436.9 536.0,436.7 535.7,436.6 533.2,436.1 530.7,435.5 528.2,434.9 525.7,434.4 523.2,434.0 520.7,433.6 518.2,433.1 515.7,432.5 513.2,432.0 510.7,431.4 508.2,430.8 505.7,430.1 503.2,429.5 500.7,428.8 498.2,428.0 495.7,427.3 493.2,426.5 490.7,425.6 488.2,424.8 485.7,423.9 483.2,423.0 480.7,422.2 478.2,421.3 475.7,420.5 473.2,419.6 470.7,418.8 468.2,417.9 465.7,417.1 463.2,416.2 460.7,415.4 458.2,414.5 455.7,413.6 453.2,412.7 450.7,411.9 448.2,411.0 445.7,410.1 443.2,409.3 440.7,408.4 438.2,407.6 435.7,406.7 433.2,405.9 430.7,405.1 428.2,404.3 425.7,403.4 423.2,402.6 420.7,401.8 418.2,400.9 415.7,400.1 413.2,399.3 410.7,398.4 408.2,397.6 405.7,396.7 403.2,395.8 400.7,395.0 398.2,394.1 395.7,393.2 393.2,392.4 390.7,391.5 388.2,390.6 385.7,389.7 383.2,388.8 380.7,387.9 378.2,387.0 375.7,386.1 373.2,385.1 370.7,384.2 368.2,383.2 365.7,382.2 363.2,381.2 360.7,380.2 358.2,379.2 355.7,378.2 353.2,377.1 350.7,376.1 348.2,375.0 345.7,373.9 343.2,372.8 340.7,371.7 338.2,370.5 335.7,369.3 333.2,368.2 330.7,366.9 328.2,365.7 325.7,364.4 323.2,363.1 320.7,361.8 318.2,360.4 315.7,359.0 313.2,357.5 310.7,355.9 308.2,354.2 305.7,352.5 303.2,350.6 300.7,348.6 298.2,346.1Z" fill="#482576"/><path d="M300.7,345.8 300.7,345.4 303.2,343.9 305.7,343.8 308.2,344.0 310.7,344.3 313.2,344.7 315.7,345.2 318.2,345.7 320.7,346.4 323.2,347.0 325.7,347.7 328.2,348.4 330.7,349.1 333.2,349.8 335.7,350.5 338.2,351.3 340.7,352.0 343.2,352.7 345.7,353.4 348.2,354.2 350.7,354.9 353.2,355.6 355.7,356.4 358.2,357.1 360.7,357.8 363.2,358.6 365.7,359.3 368.2,360.0 370.7,360.7 373.2,361.4 375.7,362.1 378.2,362.8 380.7,363.5 383.2,364.2 385.7,364.8 388.2,365.5 390.7,366.2 393.2,366.8 395.7,367.5 398.2,368.1 400.7,368.7 403.2,369.4 405.7,370.0 408.2,370.6 410.7,371.2 413.2,371.8 415.7,372.4 418.2,373.0 420.7,373.7 423.2,374.3 425.7,374.9 428.2,375.5 430.7,376.1 433.2,376.7 435.7,377.3 438.2,377.9 440.7,378.4 443.2,379.0 445.7,379.5 448.2,380.1 450.7,380.6 453.2,381.1 455.7,381.6 458.2,382.1 460.7,382.6 463.2,383.1 465.7,383.5 468.2,384.0 470.7,384.5 473.2,385.0 475.7,385.5 478.2,386.0 480.7,386.4 483.2,386.9 485.7,387.4 488.2,387.8 490.7,388.3 493.2,388.7 495.7,389.2 498.2,389.7 500.7,390.2 503.2,390.6 505.7,391.1 508.2,391.6 510.7,392.1 513.2,392.6 515.7,393.1 518.2,393.7 520.7,394.2 523.2,394.7 525.7,395.2 528.2,395.8 530.7,396.3 533.2,396.9 535.7,397.5 536.0,397.6 537.0,397.8 538.0,398.1 539.0,398.3 540.0,398.6 541.0,398.8 542.0,399.0 543.0,399.1 544.0,399.2 545.0,399.3 546.0,399.4 547.0,399.5 548.0,399.6 549.0,399.7 550.0,399.8 551.0,399.9 552.0,400.1 553.0,400.2 554.0,400.4 555.0,400.7 556.0,401.0 557.0,401.5 558.0,402.0 559.0,402.6 560.0,403.2 561.0,403.9 562.0,404.7 563.0,405.5 564.0,406.4 565.0,407.4 566.0,408.4 567.0,409.5 568.0,410.7 569.0,412.2 570.0,414.1 571.0,416.6 571.8,421.4 571.0,425.9 570.0,428.1 569.0,429.8 568.0,431.1 567.0,432.1 566.0,433.1 565.0,434.0 564.0,434.8 563.0,435.5 562.0,436.2 561.0,436.8 560.0,437.4 559.0,438.0 558.0,438.6 557.0,439.1 556.0,439.5 555.0,439.8 554.0,439.9 553.0,440.0 552.0,439.9 551.0,439.8 550.0,439.6 549.0,439.4 548.0,439.2 547.0,439.0 546.0,438.8 545.0,438.5 544.0,438.2 543.0,438.0 542.0,437.7 541.0,437.4 540.0,437.3 539.0,437.1 538.0,436.9 537.0,436.7 536.0,436.5 535.7,436.4 533.2,435.9 530.7,435.3 528.2,434.7 525.7,434.2 523.2,433.8 520.7,433.4 518.2,432.9 515.7,432.3 513.2,431.8 510.7,431.2 508.2,430.6 505.7,429.9 503.2,429.3 500.7,428.6 498.2,427.8 495.7,427.1 493.2,426.3 490.7,425.4 488.2,424.6 485.7,423.7 483.2,422.8 480.7,422.0 478.2,421.1 475.7,420.3 473.2,419.5 470.7,418.6 468.2,417.8 465.7,416.9 463.2,416.1 460.7,415.2 458.2,414.4 455.7,413.5 453.2,412.6 450.7,411.7 448.2,410.8 445.7,410.0 443.2,409.1 440.7,408.3 438.2,407.4 435.7,406.6 433.2,405.8 430.7,405.0 428.2,404.1 425.7,403.3 423.2,402.5 420.7,401.7 418.2,400.8 415.7,400.0 413.2,399.1 410.7,398.3 408.2,397.4 405.7,396.6 403.2,395.7 400.7,394.9 398.2,394.0 395.7,393.1 393.2,392.3 390.7,391.4 388.2,390.5 385.7,389.6 383.2,388.7 380.7,387.8 378.2,386.9 375.7,385.9 373.2,385.0 370.7,384.0 368.2,383.0 365.7,382.1 363.2,381.1 360.7,380.1 358.2,379.0 355.7,378.0 353.2,377.0 350.7,375.9 348.2,374.8 345.7,373.7 343.2,372.6 340.7,371.4 338.2,370.3 335.7,369.1 333.2,367.9 330.7,366.6 328.2,365.4 325.7,364.1 323.2,362.8 320.7,361.4 318.2,360.0 315.7,358.5 313.2,356.9 310.7,355.3 308.2,353.5 305.7,351.6 303.2,349.4 300.7,346.2Z" fill="#482677"/><path d="M303.6,347.2 305.7,345.3 308.2,345.0 310.7,345.1 313.2,345.4 315.7,345.8 318.2,346.3 320.7,346.8 323.2,347.5 325.7,348.1 328.2,348.8 330.7,349.5 333.2,350.1 335.7,350.8 338.2,351.5 340.7,352.2 343.2,352.9 345.7,353.7 348.2,354.4 350.7,355.1 353.2,355.8 355.7,356.6 358.2,357.3 360.7,358.0 363.2,358.7 365.7,359.4 368.2,360.2 370.7,360.9 373.2,361.6 375.7,362.3 378.2,362.9 380.7,363.6 383.2,364.3 385.7,365.0 388.2,365.6 390.7,366.3 393.2,366.9 395.7,367.6 398.2,368.2 400.7,368.9 403.2,369.5 405.7,370.1 408.2,370.7 410.7,371.3 413.2,371.9 415.7,372.5 418.2,373.1 420.7,373.7 423.2,374.4 425.7,375.0 428.2,375.6 430.7,376.2 433.2,376.8 435.7,377.4 438.2,377.9 440.7,378.5 443.2,379.1 445.7,379.6 448.2,380.1 450.7,380.7 453.2,381.2 455.7,381.7 458.2,382.2 460.7,382.7 463.2,383.1 465.7,383.6 468.2,384.1 470.7,384.6 473.2,385.1 475.7,385.5 478.2,386.0 480.7,386.5 483.2,387.0 485.7,387.4 488.2,387.9 490.7,388.3 493.2,388.8 495.7,389.3 498.2,389.7 500.7,390.2 503.2,390.7 505.7,391.2 508.2,391.7 510.7,392.2 513.2,392.7 515.7,393.2 518.2,393.7 520.7,394.2 523.2,394.8 525.7,395.3 528.2,395.8 530.7,396.4 533.2,397.0 535.7,397.6 536.0,397.7 537.0,397.9 538.0,398.1 539.0,398.4 540.0,398.7 541.0,398.9 542.0,399.1 543.0,399.2 544.0,399.3 545.0,399.4 546.0,399.5 547.0,399.6 548.0,399.7 549.0,399.8 550.0,399.9 551.0,400.0 552.0,400.1 553.0,400.3 554.0,400.5 555.0,400.8 556.0,401.1 557.0,401.6 558.0,402.1 559.0,402.7 560.0,403.3 561.0,404.0 562.0,404.8 563.0,405.6 564.0,406.5 565.0,407.5 566.0,408.6 567.0,409.7 568.0,410.9 569.0,412.4 570.0,414.4 571.0,417.2 571.6,421.4 571.0,425.3 570.0,427.8 569.0,429.5 568.0,430.8 567.0,431.9 566.0,432.9 565.0,433.8 564.0,434.7 563.0,435.4 562.0,436.0 561.0,436.6 560.0,437.2 559.0,437.8 558.0,438.4 557.0,438.9 556.0,439.3 555.0,439.6 554.0,439.8 553.0,439.8 552.0,439.7 551.0,439.6 550.0,439.4 549.0,439.2 548.0,439.0 547.0,438.8 546.0,438.6 545.0,438.3 544.0,438.0 543.0,437.7 542.0,437.5 541.0,437.2 540.0,437.1 539.0,436.9 538.0,436.7 537.0,436.5 536.0,436.3 535.7,436.2 533.2,435.7 530.7,435.1 528.2,434.5 525.7,434.0 523.2,433.6 520.7,433.2 518.2,432.7 515.7,432.1 513.2,431.6 510.7,431.0 508.2,430.4 505.7,429.7 503.2,429.1 500.7,428.4 498.2,427.6 495.7,426.9 493.2,426.1 490.7,425.2 488.2,424.4 485.7,423.5 483.2,422.7 480.7,421.8 478.2,421.0 475.7,420.1 473.2,419.3 470.7,418.5 468.2,417.6 465.7,416.8 463.2,415.9 460.7,415.1 458.2,414.2 455.7,413.3 453.2,412.5 450.7,411.6 448.2,410.7 445.7,409.8 443.2,409.0 440.7,408.1 438.2,407.3 435.7,406.5 433.2,405.7 430.7,404.8 428.2,404.0 425.7,403.2 423.2,402.4 420.7,401.5 418.2,400.7 415.7,399.9 413.2,399.0 410.7,398.2 408.2,397.3 405.7,396.5 403.2,395.6 400.7,394.7 398.2,393.9 395.7,393.0 393.2,392.1 390.7,391.3 388.2,390.4 385.7,389.5 383.2,388.6 380.7,387.6 378.2,386.7 375.7,385.8 373.2,384.8 370.7,383.9 368.2,382.9 365.7,381.9 363.2,380.9 360.7,379.9 358.2,378.9 355.7,377.8 353.2,376.8 350.7,375.7 348.2,374.6 345.7,373.5 343.2,372.4 340.7,371.2 338.2,370.0 335.7,368.8 333.2,367.6 330.7,366.3 328.2,365.1 325.7,363.7 323.2,362.4 320.7,361.0 318.2,359.5 315.7,358.0 313.2,356.3 310.7,354.6 308.2,352.6 305.7,350.4Z" fill="#482979"/><path d="M306.3,348.4 308.2,346.5 310.7,346.1 313.2,346.2 315.7,346.5 318.2,346.9 320.7,347.4 323.2,347.9 325.7,348.5 328.2,349.2 330.7,349.8 333.2,350.5 335.7,351.2 338.2,351.8 340.7,352.5 343.2,353.2 345.7,353.9 348.2,354.6 350.7,355.3 353.2,356.0 355.7,356.7 358.2,357.4 360.7,358.2 363.2,358.9 365.7,359.6 368.2,360.3 370.7,361.0 373.2,361.7 375.7,362.4 378.2,363.1 380.7,363.8 383.2,364.4 385.7,365.1 388.2,365.8 390.7,366.4 393.2,367.1 395.7,367.7 398.2,368.3 400.7,369.0 403.2,369.6 405.7,370.2 408.2,370.8 410.7,371.4 413.2,372.0 415.7,372.6 418.2,373.2 420.7,373.8 423.2,374.4 425.7,375.0 428.2,375.7 430.7,376.3 433.2,376.8 435.7,377.4 438.2,378.0 440.7,378.6 443.2,379.1 445.7,379.7 448.2,380.2 450.7,380.7 453.2,381.2 455.7,381.7 458.2,382.2 460.7,382.7 463.2,383.2 465.7,383.7 468.2,384.2 470.7,384.7 473.2,385.1 475.7,385.6 478.2,386.1 480.7,386.6 483.2,387.0 485.7,387.5 488.2,387.9 490.7,388.4 493.2,388.9 495.7,389.3 498.2,389.8 500.7,390.3 503.2,390.8 505.7,391.3 508.2,391.8 510.7,392.3 513.2,392.8 515.7,393.3 518.2,393.8 520.7,394.3 523.2,394.8 525.7,395.4 528.2,395.9 530.7,396.5 533.2,397.1 535.7,397.6 536.0,397.7 537.0,398.0 538.0,398.2 539.0,398.5 540.0,398.7 541.0,398.9 542.0,399.1 543.0,399.2 544.0,399.4 545.0,399.4 546.0,399.5 547.0,399.6 548.0,399.8 549.0,399.9 550.0,400.0 551.0,400.1 552.0,400.2 553.0,400.4 554.0,400.6 555.0,400.9 556.0,401.2 557.0,401.6 558.0,402.2 559.0,402.8 560.0,403.4 561.0,404.1 562.0,404.9 563.0,405.7 564.0,406.6 565.0,407.6 566.0,408.7 567.0,409.9 568.0,411.1 569.0,412.7 570.0,414.8 571.0,417.9 571.4,421.4 571.0,424.6 570.0,427.4 569.0,429.2 568.0,430.6 567.0,431.7 566.0,432.7 565.0,433.7 564.0,434.5 563.0,435.2 562.0,435.9 561.0,436.5 560.0,437.1 559.0,437.7 558.0,438.2 557.0,438.7 556.0,439.2 555.0,439.4 554.0,439.6 553.0,439.6 552.0,439.5 551.0,439.4 550.0,439.2 549.0,439.0 548.0,438.8 547.0,438.6 546.0,438.4 545.0,438.1 544.0,437.8 543.0,437.5 542.0,437.3 541.0,437.0 540.0,436.8 539.0,436.7 538.0,436.5 537.0,436.3 536.0,436.1 535.7,436.0 533.2,435.5 530.7,434.9 528.2,434.3 525.7,433.8 523.2,433.4 520.7,433.0 518.2,432.5 515.7,431.9 513.2,431.4 510.7,430.8 508.2,430.2 505.7,429.5 503.2,428.9 500.7,428.2 498.2,427.5 495.7,426.7 493.2,425.9 490.7,425.0 488.2,424.2 485.7,423.3 483.2,422.5 480.7,421.6 478.2,420.8 475.7,420.0 473.2,419.2 470.7,418.3 468.2,417.5 465.7,416.6 463.2,415.8 460.7,414.9 458.2,414.1 455.7,413.2 453.2,412.3 450.7,411.4 448.2,410.6 445.7,409.7 443.2,408.9 440.7,408.0 438.2,407.2 435.7,406.4 433.2,405.5 430.7,404.7 428.2,403.9 425.7,403.1 423.2,402.2 420.7,401.4 418.2,400.6 415.7,399.8 413.2,398.9 410.7,398.1 408.2,397.2 405.7,396.4 403.2,395.5 400.7,394.6 398.2,393.8 395.7,392.9 393.2,392.0 390.7,391.1 388.2,390.2 385.7,389.3 383.2,388.4 380.7,387.5 378.2,386.6 375.7,385.6 373.2,384.7 370.7,383.7 368.2,382.7 365.7,381.7 363.2,380.7 360.7,379.7 358.2,378.7 355.7,377.6 353.2,376.6 350.7,375.5 348.2,374.4 345.7,373.3 343.2,372.1 340.7,370.9 338.2,369.7 335.7,368.5 333.2,367.3 330.7,366.0 328.2,364.7 325.7,363.4 323.2,362.0 320.7,360.5 318.2,359.0 315.7,357.4 313.2,355.7 310.7,353.7 308.2,351.5Z" fill="#472c7a"/><path d="M308.9,349.5 310.7,347.5 313.2,347.2 315.7,347.2 318.2,347.5 320.7,347.9 323.2,348.4 325.7,349.0 328.2,349.6 330.7,350.2 333.2,350.8 335.7,351.5 338.2,352.1 340.7,352.8 343.2,353.5 345.7,354.1 348.2,354.8 350.7,355.5 353.2,356.2 355.7,356.9 358.2,357.6 360.7,358.3 363.2,359.0 365.7,359.8 368.2,360.5 370.7,361.2 373.2,361.8 375.7,362.5 378.2,363.2 380.7,363.9 383.2,364.6 385.7,365.2 388.2,365.9 390.7,366.5 393.2,367.2 395.7,367.8 398.2,368.4 400.7,369.1 403.2,369.7 405.7,370.3 408.2,370.9 410.7,371.5 413.2,372.1 415.7,372.7 418.2,373.3 420.7,373.9 423.2,374.5 425.7,375.1 428.2,375.7 430.7,376.3 433.2,376.9 435.7,377.5 438.2,378.1 440.7,378.7 443.2,379.2 445.7,379.8 448.2,380.3 450.7,380.8 453.2,381.3 455.7,381.8 458.2,382.3 460.7,382.8 463.2,383.3 465.7,383.8 468.2,384.2 470.7,384.7 473.2,385.2 475.7,385.7 478.2,386.2 480.7,386.6 483.2,387.1 485.7,387.6 488.2,388.0 490.7,388.5 493.2,388.9 495.7,389.4 498.2,389.9 500.7,390.4 503.2,390.8 505.7,391.3 508.2,391.8 510.7,392.3 513.2,392.8 515.7,393.3 518.2,393.8 520.7,394.4 523.2,394.9 525.7,395.4 528.2,396.0 530.7,396.5 533.2,397.1 535.7,397.7 536.0,397.8 537.0,398.0 538.0,398.3 539.0,398.5 540.0,398.8 541.0,399.0 542.0,399.2 543.0,399.3 544.0,399.4 545.0,399.5 546.0,399.6 547.0,399.7 548.0,399.8 549.0,400.0 550.0,400.1 551.0,400.2 552.0,400.3 553.0,400.5 554.0,400.7 555.0,400.9 556.0,401.3 557.0,401.7 558.0,402.3 559.0,402.9 560.0,403.5 561.0,404.2 562.0,405.0 563.0,405.8 564.0,406.8 565.0,407.8 566.0,408.9 567.0,410.0 568.0,411.3 569.0,413.0 570.0,415.2 571.0,418.8 571.2,421.3 571.0,423.6 570.0,427.0 569.0,428.9 568.0,430.4 567.0,431.5 566.0,432.5 565.0,433.5 564.0,434.4 563.0,435.1 562.0,435.7 561.0,436.3 560.0,436.9 559.0,437.5 558.0,438.1 557.0,438.6 556.0,439.0 555.0,439.2 554.0,439.4 553.0,439.4 552.0,439.3 551.0,439.2 550.0,439.0 549.0,438.8 548.0,438.6 547.0,438.4 546.0,438.2 545.0,437.9 544.0,437.6 543.0,437.3 542.0,437.1 541.0,436.8 540.0,436.6 539.0,436.5 538.0,436.3 537.0,436.1 536.0,435.9 535.7,435.8 533.2,435.3 530.7,434.7 528.2,434.1 525.7,433.6 523.2,433.2 520.7,432.8 518.2,432.3 515.7,431.7 513.2,431.2 510.7,430.6 508.2,430.0 505.7,429.3 503.2,428.7 500.7,428.0 498.2,427.3 495.7,426.5 493.2,425.7 490.7,424.9 488.2,424.0 485.7,423.2 483.2,422.3 480.7,421.5 478.2,420.6 475.7,419.8 473.2,419.0 470.7,418.2 468.2,417.3 465.7,416.5 463.2,415.6 460.7,414.8 458.2,413.9 455.7,413.0 453.2,412.2 450.7,411.3 448.2,410.4 445.7,409.6 443.2,408.7 440.7,407.9 438.2,407.1 435.7,406.2 433.2,405.4 430.7,404.6 428.2,403.8 425.7,403.0 423.2,402.1 420.7,401.3 418.2,400.5 415.7,399.7 413.2,398.8 410.7,398.0 408.2,397.1 405.7,396.2 403.2,395.4 400.7,394.5 398.2,393.7 395.7,392.8 393.2,391.9 390.7,391.0 388.2,390.1 385.7,389.2 383.2,388.3 380.7,387.4 378.2,386.4 375.7,385.5 373.2,384.5 370.7,383.5 368.2,382.6 365.7,381.6 363.2,380.6 360.7,379.6 358.2,378.5 355.7,377.5 353.2,376.4 350.7,375.3 348.2,374.2 345.7,373.0 343.2,371.9 340.7,370.7 338.2,369.5 335.7,368.2 333.2,367.0 330.7,365.7 328.2,364.3 325.7,363.0 323.2,361.5 320.7,360.0 318.2,358.5 315.7,356.7 313.2,354.8 310.7,352.6Z" fill="#472d7b"/><path d="M311.3,350.6 313.2,348.5 315.7,348.2 318.2,348.3 320.7,348.6 323.2,349.0 325.7,349.5 328.2,350.0 330.7,350.6 333.2,351.2 335.7,351.8 338.2,352.5 340.7,353.1 343.2,353.7 345.7,354.4 348.2,355.1 350.7,355.7 353.2,356.4 355.7,357.1 358.2,357.8 360.7,358.5 363.2,359.2 365.7,359.9 368.2,360.6 370.7,361.3 373.2,362.0 375.7,362.7 378.2,363.4 380.7,364.0 383.2,364.7 385.7,365.4 388.2,366.0 390.7,366.7 393.2,367.3 395.7,367.9 398.2,368.6 400.7,369.2 403.2,369.8 405.7,370.4 408.2,371.0 410.7,371.6 413.2,372.2 415.7,372.8 418.2,373.4 420.7,374.0 423.2,374.6 425.7,375.2 428.2,375.8 430.7,376.4 433.2,377.0 435.7,377.6 438.2,378.2 440.7,378.7 443.2,379.3 445.7,379.8 448.2,380.4 450.7,380.9 453.2,381.4 455.7,381.9 458.2,382.4 460.7,382.9 463.2,383.4 465.7,383.8 468.2,384.3 470.7,384.8 473.2,385.3 475.7,385.8 478.2,386.2 480.7,386.7 483.2,387.2 485.7,387.6 488.2,388.1 490.7,388.5 493.2,389.0 495.7,389.5 498.2,389.9 500.7,390.4 503.2,390.9 505.7,391.4 508.2,391.9 510.7,392.4 513.2,392.9 515.7,393.4 518.2,393.9 520.7,394.4 523.2,395.0 525.7,395.5 528.2,396.0 530.7,396.6 533.2,397.2 535.7,397.8 536.0,397.9 537.0,398.1 538.0,398.3 539.0,398.6 540.0,398.9 541.0,399.1 542.0,399.3 543.0,399.4 544.0,399.5 545.0,399.6 546.0,399.7 547.0,399.8 548.0,399.9 549.0,400.0 550.0,400.1 551.0,400.3 552.0,400.4 553.0,400.5 554.0,400.8 555.0,401.0 556.0,401.4 557.0,401.8 558.0,402.4 559.0,403.0 560.0,403.6 561.0,404.3 562.0,405.1 563.0,405.9 564.0,406.9 565.0,407.9 566.0,409.0 567.0,410.2 568.0,411.6 569.0,413.3 570.0,415.6 571.0,420.9 571.0,421.3 571.0,421.7 570.0,426.5 569.0,428.6 568.0,430.1 567.0,431.3 566.0,432.4 565.0,433.3 564.0,434.2 563.0,435.0 562.0,435.6 561.0,436.2 560.0,436.8 559.0,437.3 558.0,437.9 557.0,438.4 556.0,438.8 555.0,439.1 554.0,439.2 553.0,439.2 552.0,439.1 551.0,439.0 550.0,438.8 549.0,438.6 548.0,438.4 547.0,438.2 546.0,438.0 545.0,437.7 544.0,437.4 543.0,437.2 542.0,436.9 541.0,436.6 540.0,436.5 539.0,436.3 538.0,436.1 537.0,435.9 536.0,435.7 535.7,435.6 533.2,435.1 530.7,434.5 528.2,433.9 525.7,433.4 523.2,433.0 520.7,432.6 518.2,432.1 515.7,431.5 513.2,431.0 510.7,430.4 508.2,429.8 505.7,429.1 503.2,428.5 500.7,427.8 498.2,427.1 495.7,426.3 493.2,425.5 490.7,424.7 488.2,423.8 485.7,423.0 483.2,422.1 480.7,421.3 478.2,420.5 475.7,419.7 473.2,418.8 470.7,418.0 468.2,417.2 465.7,416.4 463.2,415.5 460.7,414.6 458.2,413.8 455.7,412.9 453.2,412.0 450.7,411.2 448.2,410.3 445.7,409.4 443.2,408.6 440.7,407.8 438.2,406.9 435.7,406.1 433.2,405.3 430.7,404.5 428.2,403.7 425.7,402.8 423.2,402.0 420.7,401.2 418.2,400.4 415.7,399.5 413.2,398.7 410.7,397.9 408.2,397.0 405.7,396.1 403.2,395.3 400.7,394.4 398.2,393.5 395.7,392.7 393.2,391.8 390.7,390.9 388.2,390.0 385.7,389.1 383.2,388.2 380.7,387.2 378.2,386.3 375.7,385.3 373.2,384.4 370.7,383.4 368.2,382.4 365.7,381.4 363.2,380.4 360.7,379.4 358.2,378.3 355.7,377.3 353.2,376.2 350.7,375.1 348.2,374.0 345.7,372.8 343.2,371.6 340.7,370.4 338.2,369.2 335.7,367.9 333.2,366.6 330.7,365.3 328.2,363.9 325.7,362.5 323.2,361.0 320.7,359.5 318.2,357.8 315.7,356.0 313.2,353.7Z" fill="#472f7d"/><path d="M313.6,351.6 315.7,349.5 318.2,349.2 320.7,349.3 323.2,349.6 325.7,350.0 328.2,350.5 330.7,351.0 333.2,351.6 335.7,352.2 338.2,352.8 340.7,353.4 343.2,354.0 345.7,354.7 348.2,355.3 350.7,356.0 353.2,356.6 355.7,357.3 358.2,358.0 360.7,358.7 363.2,359.4 365.7,360.1 368.2,360.8 370.7,361.5 373.2,362.1 375.7,362.8 378.2,363.5 380.7,364.2 383.2,364.8 385.7,365.5 388.2,366.1 390.7,366.8 393.2,367.4 395.7,368.0 398.2,368.7 400.7,369.3 403.2,369.9 405.7,370.5 408.2,371.1 410.7,371.7 413.2,372.3 415.7,372.9 418.2,373.5 420.7,374.1 423.2,374.7 425.7,375.3 428.2,375.9 430.7,376.5 433.2,377.1 435.7,377.7 438.2,378.2 440.7,378.8 443.2,379.4 445.7,379.9 448.2,380.4 450.7,381.0 453.2,381.5 455.7,382.0 458.2,382.5 460.7,382.9 463.2,383.4 465.7,383.9 468.2,384.4 470.7,384.9 473.2,385.3 475.7,385.8 478.2,386.3 480.7,386.8 483.2,387.2 485.7,387.7 488.2,388.1 490.7,388.6 493.2,389.1 495.7,389.5 498.2,390.0 500.7,390.5 503.2,391.0 505.7,391.5 508.2,392.0 510.7,392.5 513.2,393.0 515.7,393.5 518.2,394.0 520.7,394.5 523.2,395.0 525.7,395.6 528.2,396.1 530.7,396.7 533.2,397.3 535.7,397.8 536.0,397.9 537.0,398.2 538.0,398.4 539.0,398.7 540.0,398.9 541.0,399.1 542.0,399.3 543.0,399.5 544.0,399.6 545.0,399.7 546.0,399.7 547.0,399.9 548.0,400.0 549.0,400.1 550.0,400.2 551.0,400.3 552.0,400.5 553.0,400.6 554.0,400.8 555.0,401.1 556.0,401.5 557.0,401.9 558.0,402.4 559.0,403.1 560.0,403.7 561.0,404.4 562.0,405.2 563.0,406.1 564.0,407.0 565.0,408.1 566.0,409.2 567.0,410.4 568.0,411.8 569.0,413.6 570.0,416.1 570.8,421.3 570.0,426.0 569.0,428.3 568.0,429.9 567.0,431.1 566.0,432.2 565.0,433.1 564.0,434.0 563.0,434.8 562.0,435.5 561.0,436.0 560.0,436.6 559.0,437.2 558.0,437.7 557.0,438.2 556.0,438.6 555.0,438.9 554.0,439.0 553.0,439.0 552.0,439.0 551.0,438.8 550.0,438.6 549.0,438.4 548.0,438.2 547.0,438.0 546.0,437.8 545.0,437.5 544.0,437.2 543.0,437.0 542.0,436.7 541.0,436.4 540.0,436.3 539.0,436.1 538.0,435.9 537.0,435.7 536.0,435.5 535.7,435.4 533.2,434.9 530.7,434.3 528.2,433.7 525.7,433.2 523.2,432.8 520.7,432.4 518.2,431.9 515.7,431.3 513.2,430.8 510.7,430.2 508.2,429.6 505.7,429.0 503.2,428.3 500.7,427.6 498.2,426.9 495.7,426.1 493.2,425.3 490.7,424.5 488.2,423.7 485.7,422.8 483.2,422.0 480.7,421.1 478.2,420.3 475.7,419.5 473.2,418.7 470.7,417.9 468.2,417.0 465.7,416.2 463.2,415.4 460.7,414.5 458.2,413.6 455.7,412.8 453.2,411.9 450.7,411.0 448.2,410.2 445.7,409.3 443.2,408.5 440.7,407.6 438.2,406.8 435.7,406.0 433.2,405.2 430.7,404.3 428.2,403.5 425.7,402.7 423.2,401.9 420.7,401.1 418.2,400.3 415.7,399.4 413.2,398.6 410.7,397.7 408.2,396.9 405.7,396.0 403.2,395.2 400.7,394.3 398.2,393.4 395.7,392.5 393.2,391.7 390.7,390.8 388.2,389.9 385.7,388.9 383.2,388.0 380.7,387.1 378.2,386.1 375.7,385.2 373.2,384.2 370.7,383.2 368.2,382.3 365.7,381.2 363.2,380.2 360.7,379.2 358.2,378.1 355.7,377.1 353.2,376.0 350.7,374.9 348.2,373.7 345.7,372.5 343.2,371.4 340.7,370.1 338.2,368.9 335.7,367.6 333.2,366.3 330.7,364.9 328.2,363.5 325.7,362.1 323.2,360.5 320.7,358.9 318.2,357.0 315.7,354.9Z" fill="#46307e"/><path d="M315.9,352.6 318.2,350.4 320.7,350.2 323.2,350.3 325.7,350.6 328.2,351.0 330.7,351.5 333.2,352.0 335.7,352.6 338.2,353.1 340.7,353.7 343.2,354.3 345.7,354.9 348.2,355.6 350.7,356.2 353.2,356.9 355.7,357.5 358.2,358.2 360.7,358.9 363.2,359.6 365.7,360.2 368.2,360.9 370.7,361.6 373.2,362.3 375.7,363.0 378.2,363.6 380.7,364.3 383.2,365.0 385.7,365.6 388.2,366.3 390.7,366.9 393.2,367.5 395.7,368.2 398.2,368.8 400.7,369.4 403.2,370.0 405.7,370.6 408.2,371.2 410.7,371.8 413.2,372.4 415.7,373.0 418.2,373.6 420.7,374.2 423.2,374.8 425.7,375.4 428.2,376.0 430.7,376.6 433.2,377.2 435.7,377.8 438.2,378.3 440.7,378.9 443.2,379.4 445.7,380.0 448.2,380.5 450.7,381.0 453.2,381.5 455.7,382.0 458.2,382.5 460.7,383.0 463.2,383.5 465.7,384.0 468.2,384.5 470.7,384.9 473.2,385.4 475.7,385.9 478.2,386.4 480.7,386.8 483.2,387.3 485.7,387.8 488.2,388.2 490.7,388.7 493.2,389.1 495.7,389.6 498.2,390.1 500.7,390.5 503.2,391.0 505.7,391.5 508.2,392.0 510.7,392.5 513.2,393.0 515.7,393.5 518.2,394.0 520.7,394.6 523.2,395.1 525.7,395.6 528.2,396.2 530.7,396.7 533.2,397.3 535.7,397.9 536.0,398.0 537.0,398.2 538.0,398.5 539.0,398.7 540.0,399.0 541.0,399.2 542.0,399.4 543.0,399.5 544.0,399.6 545.0,399.7 546.0,399.8 547.0,399.9 548.0,400.1 549.0,400.2 550.0,400.3 551.0,400.4 552.0,400.5 553.0,400.7 554.0,400.9 555.0,401.2 556.0,401.6 557.0,402.0 558.0,402.5 559.0,403.1 560.0,403.8 561.0,404.6 562.0,405.3 563.0,406.2 564.0,407.2 565.0,408.2 566.0,409.3 567.0,410.6 568.0,412.0 569.0,413.9 570.0,416.6 570.6,421.2 570.0,425.5 569.0,427.9 568.0,429.6 567.0,430.9 566.0,432.0 565.0,433.0 564.0,433.9 563.0,434.7 562.0,435.3 561.0,435.9 560.0,436.5 559.0,437.0 558.0,437.6 557.0,438.1 556.0,438.4 555.0,438.7 554.0,438.8 553.0,438.8 552.0,438.8 551.0,438.6 550.0,438.4 549.0,438.2 548.0,438.0 547.0,437.8 546.0,437.6 545.0,437.3 544.0,437.1 543.0,436.8 542.0,436.5 541.0,436.2 540.0,436.1 539.0,435.9 538.0,435.7 537.0,435.5 536.0,435.3 535.7,435.2 533.2,434.7 530.7,434.1 528.2,433.5 525.7,433.0 523.2,432.6 520.7,432.2 518.2,431.7 515.7,431.2 513.2,430.6 510.7,430.0 508.2,429.4 505.7,428.8 503.2,428.1 500.7,427.4 498.2,426.7 495.7,425.9 493.2,425.1 490.7,424.3 488.2,423.5 485.7,422.6 483.2,421.8 480.7,421.0 478.2,420.2 475.7,419.4 473.2,418.5 470.7,417.7 468.2,416.9 465.7,416.1 463.2,415.2 460.7,414.4 458.2,413.5 455.7,412.6 453.2,411.8 450.7,410.9 448.2,410.0 445.7,409.2 443.2,408.3 440.7,407.5 438.2,406.7 435.7,405.9 433.2,405.0 430.7,404.2 428.2,403.4 425.7,402.6 423.2,401.8 420.7,401.0 418.2,400.2 415.7,399.3 413.2,398.5 410.7,397.6 408.2,396.8 405.7,395.9 403.2,395.1 400.7,394.2 398.2,393.3 395.7,392.4 393.2,391.5 390.7,390.6 388.2,389.7 385.7,388.8 383.2,387.9 380.7,386.9 378.2,386.0 375.7,385.0 373.2,384.1 370.7,383.1 368.2,382.1 365.7,381.1 363.2,380.1 360.7,379.0 358.2,378.0 355.7,376.9 353.2,375.8 350.7,374.6 348.2,373.5 345.7,372.3 343.2,371.1 340.7,369.8 338.2,368.6 335.7,367.2 333.2,365.9 330.7,364.5 328.2,363.1 325.7,361.5 323.2,359.9 320.7,358.1 318.2,356.0Z" fill="#46337f"/><path d="M318.2,353.6 318.2,353.2 320.7,351.4 323.2,351.2 325.7,351.3 328.2,351.6 330.7,352.0 333.2,352.5 335.7,353.0 338.2,353.5 340.7,354.1 343.2,354.6 345.7,355.2 348.2,355.8 350.7,356.5 353.2,357.1 355.7,357.7 358.2,358.4 360.7,359.1 363.2,359.7 365.7,360.4 368.2,361.1 370.7,361.8 373.2,362.4 375.7,363.1 378.2,363.8 380.7,364.4 383.2,365.1 385.7,365.8 388.2,366.4 390.7,367.0 393.2,367.7 395.7,368.3 398.2,368.9 400.7,369.5 403.2,370.1 405.7,370.7 408.2,371.3 410.7,371.9 413.2,372.5 415.7,373.1 418.2,373.7 420.7,374.3 423.2,374.9 425.7,375.5 428.2,376.1 430.7,376.7 433.2,377.3 435.7,377.8 438.2,378.4 440.7,379.0 443.2,379.5 445.7,380.1 448.2,380.6 450.7,381.1 453.2,381.6 455.7,382.1 458.2,382.6 460.7,383.1 463.2,383.6 465.7,384.0 468.2,384.5 470.7,385.0 473.2,385.5 475.7,386.0 478.2,386.4 480.7,386.9 483.2,387.4 485.7,387.8 488.2,388.3 490.7,388.7 493.2,389.2 495.7,389.7 498.2,390.1 500.7,390.6 503.2,391.1 505.7,391.6 508.2,392.1 510.7,392.6 513.2,393.1 515.7,393.6 518.2,394.1 520.7,394.6 523.2,395.2 525.7,395.7 528.2,396.2 530.7,396.8 533.2,397.4 535.7,398.0 536.0,398.1 537.0,398.3 538.0,398.5 539.0,398.8 540.0,399.1 541.0,399.3 542.0,399.5 543.0,399.6 544.0,399.7 545.0,399.8 546.0,399.9 547.0,400.0 548.0,400.1 549.0,400.3 550.0,400.4 551.0,400.5 552.0,400.6 553.0,400.8 554.0,401.0 555.0,401.3 556.0,401.7 557.0,402.1 558.0,402.6 559.0,403.2 560.0,403.9 561.0,404.7 562.0,405.4 563.0,406.3 564.0,407.3 565.0,408.3 566.0,409.5 567.0,410.7 568.0,412.3 569.0,414.2 570.0,417.2 570.5,421.2 570.0,424.8 569.0,427.6 568.0,429.3 567.0,430.7 566.0,431.8 565.0,432.8 564.0,433.7 563.0,434.5 562.0,435.2 561.0,435.8 560.0,436.3 559.0,436.9 558.0,437.4 557.0,437.9 556.0,438.3 555.0,438.5 554.0,438.6 553.0,438.7 552.0,438.6 551.0,438.5 550.0,438.3 549.0,438.1 548.0,437.9 547.0,437.7 546.0,437.4 545.0,437.1 544.0,436.9 543.0,436.6 542.0,436.3 541.0,436.1 540.0,435.9 539.0,435.7 538.0,435.5 537.0,435.3 536.0,435.1 535.7,435.0 533.2,434.5 530.7,433.9 528.2,433.4 525.7,432.8 523.2,432.4 520.7,432.0 518.2,431.5 515.7,431.0 513.2,430.4 510.7,429.8 508.2,429.2 505.7,428.6 503.2,427.9 500.7,427.2 498.2,426.5 495.7,425.7 493.2,425.0 490.7,424.1 488.2,423.3 485.7,422.5 483.2,421.6 480.7,420.8 478.2,420.0 475.7,419.2 473.2,418.4 470.7,417.6 468.2,416.8 465.7,415.9 463.2,415.1 460.7,414.2 458.2,413.4 455.7,412.5 453.2,411.6 450.7,410.8 448.2,409.9 445.7,409.1 443.2,408.2 440.7,407.4 438.2,406.6 435.7,405.7 433.2,404.9 430.7,404.1 428.2,403.3 425.7,402.5 423.2,401.7 420.7,400.9 418.2,400.0 415.7,399.2 413.2,398.4 410.7,397.5 408.2,396.7 405.7,395.8 403.2,394.9 400.7,394.1 398.2,393.2 395.7,392.3 393.2,391.4 390.7,390.5 388.2,389.6 385.7,388.7 383.2,387.7 380.7,386.8 378.2,385.8 375.7,384.9 373.2,383.9 370.7,382.9 368.2,381.9 365.7,380.9 363.2,379.9 360.7,378.8 358.2,377.8 355.7,376.7 353.2,375.5 350.7,374.4 348.2,373.2 345.7,372.0 343.2,370.8 340.7,369.5 338.2,368.2 335.7,366.9 333.2,365.5 330.7,364.1 328.2,362.6 325.7,360.9 323.2,359.2 320.7,357.2 318.2,353.8Z" fill="#463480"/><path d="M318.2,353.6 318.2,353.2 320.7,351.4 323.2,351.2 325.7,351.3 328.2,351.6 330.7,352.0 333.2,352.5 335.7,353.0 338.2,353.5 340.7,354.1 343.2,354.6 345.7,355.2 348.2,355.8 350.7,356.5 353.2,357.1 355.7,357.7 358.2,358.4 360.7,359.1 363.2,359.7 365.7,360.4 368.2,361.1 370.7,361.8 373.2,362.4 375.7,363.1 378.2,363.8 380.7,364.4 383.2,365.1 385.7,365.8 388.2,366.4 390.7,367.0 393.2,367.7 395.7,368.3 398.2,368.9 400.7,369.5 403.2,370.1 405.7,370.7 408.2,371.3 410.7,371.9 413.2,372.5 415.7,373.1 418.2,373.7 420.7,374.3 423.2,374.9 425.7,375.5 428.2,376.1 430.7,376.7 433.2,377.3 435.7,377.8 438.2,378.4 440.7,379.0 443.2,379.5 445.7,380.1 448.2,380.6 450.7,381.1 453.2,381.6 455.7,382.1 458.2,382.6 460.7,383.1 463.2,383.6 465.7,384.0 468.2,384.5 470.7,385.0 473.2,385.5 475.7,386.0 478.2,386.4 480.7,386.9 483.2,387.4 485.7,387.8 488.2,388.3 490.7,388.7 493.2,389.2 495.7,389.7 498.2,390.1 500.7,390.6 503.2,391.1 505.7,391.6 508.2,392.1 510.7,392.6 513.2,393.1 515.7,393.6 518.2,394.1 520.7,394.6 523.2,395.2 525.7,395.7 528.2,396.2 530.7,396.8 533.2,397.4 535.7,398.0 536.0,398.1 537.0,398.3 538.0,398.5 539.0,398.8 540.0,399.1 541.0,399.3 542.0,399.5 543.0,399.6 544.0,399.7 545.0,399.8 546.0,399.9 547.0,400.0 548.0,400.1 549.0,400.3 550.0,400.4 551.0,400.5 552.0,400.6 553.0,400.8 554.0,401.0 555.0,401.3 556.0,401.7 557.0,402.1 558.0,402.6 559.0,403.2 560.0,403.9 561.0,404.7 562.0,405.4 563.0,406.3 564.0,407.3 565.0,408.3 566.0,409.5 567.0,410.7 568.0,412.3 569.0,414.2 570.0,417.2 570.5,421.2 570.0,424.8 569.0,427.6 568.0,429.3 567.0,430.7 566.0,431.8 565.0,432.8 564.0,433.7 563.0,434.5 562.0,435.2 561.0,435.8 560.0,436.3 559.0,436.9 558.0,437.4 557.0,437.9 556.0,438.3 555.0,438.5 554.0,438.6 553.0,438.7 552.0,438.6 551.0,438.5 550.0,438.3 549.0,438.1 548.0,437.9 547.0,437.7 546.0,437.4 545.0,437.1 544.0,436.9 543.0,436.6 542.0,436.3 541.0,436.1 540.0,435.9 539.0,435.7 538.0,435.5 537.0,435.3 536.0,435.1 535.7,435.0 533.2,434.5 530.7,433.9 528.2,433.4 525.7,432.8 523.2,432.4 520.7,432.0 518.2,431.5 515.7,431.0 513.2,430.4 510.7,429.8 508.2,429.2 505.7,428.6 503.2,427.9 500.7,427.2 498.2,426.5 495.7,425.7 493.2,425.0 490.7,424.1 488.2,423.3 485.7,422.5 483.2,421.6 480.7,420.8 478.2,420.0 475.7,419.2 473.2,418.4 470.7,417.6 468.2,416.8 465.7,415.9 463.2,415.1 460.7,414.2 458.2,413.4 455.7,412.5 453.2,411.6 450.7,410.8 448.2,409.9 445.7,409.1 443.2,408.2 440.7,407.4 438.2,406.6 435.7,405.7 433.2,404.9 430.7,404.1 428.2,403.3 425.7,402.5 423.2,401.7 420.7,400.9 418.2,400.0 415.7,399.2 413.2,398.4 410.7,397.5 408.2,396.7 405.7,395.8 403.2,394.9 400.7,394.1 398.2,393.2 395.7,392.3 393.2,391.4 390.7,390.5 388.2,389.6 385.7,388.7 383.2,387.7 380.7,386.8 378.2,385.8 375.7,384.9 373.2,383.9 370.7,382.9 368.2,381.9 365.7,380.9 363.2,379.9 360.7,378.8 358.2,377.8 355.7,376.7 353.2,375.5 350.7,374.4 348.2,373.2 345.7,372.0 343.2,370.8 340.7,369.5 338.2,368.2 335.7,366.9 333.2,365.5 330.7,364.1 328.2,362.6 325.7,360.9 323.2,359.2 320.7,357.2 318.2,353.8Z" fill="#453882"/><path d="M325.7,356.6 325.7,356.3 328.2,354.5 330.7,354.3 333.2,354.4 335.7,354.6 338.2,355.0 340.7,355.4 343.2,355.8 345.7,356.3 348.2,356.8 350.7,357.4 353.2,357.9 355.7,358.5 358.2,359.1 360.7,359.7 363.2,360.4 365.7,361.0 368.2,361.7 370.7,362.3 373.2,363.0 375.7,363.6 378.2,364.3 380.7,364.9 383.2,365.6 385.7,366.2 388.2,366.8 390.7,367.5 393.2,368.1 395.7,368.7 398.2,369.3 400.7,369.9 403.2,370.5 405.7,371.1 408.2,371.7 410.7,372.2 413.2,372.8 415.7,373.4 418.2,374.0 420.7,374.6 423.2,375.2 425.7,375.8 428.2,376.4 430.7,377.0 433.2,377.5 435.7,378.1 438.2,378.7 440.7,379.2 443.2,379.8 445.7,380.3 448.2,380.9 450.7,381.4 453.2,381.9 455.7,382.4 458.2,382.9 460.7,383.3 463.2,383.8 465.7,384.3 468.2,384.8 470.7,385.2 473.2,385.7 475.7,386.2 478.2,386.7 480.7,387.1 483.2,387.6 485.7,388.1 488.2,388.5 490.7,389.0 493.2,389.4 495.7,389.9 498.2,390.4 500.7,390.8 503.2,391.3 505.7,391.8 508.2,392.3 510.7,392.8 513.2,393.3 515.7,393.8 518.2,394.3 520.7,394.9 523.2,395.4 525.7,395.9 528.2,396.5 530.7,397.0 533.2,397.6 535.7,398.2 536.0,398.3 537.0,398.5 538.0,398.8 539.0,399.0 540.0,399.3 541.0,399.5 542.0,399.7 543.0,399.8 544.0,399.9 545.0,400.0 546.0,400.1 547.0,400.3 548.0,400.4 549.0,400.5 550.0,400.6 551.0,400.8 552.0,400.9 553.0,401.1 554.0,401.3 555.0,401.6 556.0,402.0 557.0,402.4 558.0,403.0 559.0,403.6 560.0,404.3 561.0,405.0 562.0,405.8 563.0,406.7 564.0,407.7 565.0,408.8 566.0,410.0 567.0,411.4 568.0,413.2 569.0,415.6 569.9,421.1 569.0,426.2 568.0,428.3 567.0,429.9 566.0,431.1 565.0,432.2 564.0,433.1 563.0,434.0 562.0,434.7 561.0,435.3 560.0,435.8 559.0,436.4 558.0,436.9 557.0,437.3 556.0,437.7 555.0,437.9 554.0,438.0 553.0,438.1 552.0,438.0 551.0,437.9 550.0,437.7 549.0,437.5 548.0,437.3 547.0,437.1 546.0,436.8 545.0,436.6 544.0,436.3 543.0,436.0 542.0,435.7 541.0,435.5 540.0,435.3 539.0,435.1 538.0,434.9 537.0,434.7 536.0,434.5 535.7,434.4 533.2,433.8 530.7,433.3 528.2,432.7 525.7,432.2 523.2,431.8 520.7,431.3 518.2,430.9 515.7,430.3 513.2,429.8 510.7,429.2 508.2,428.6 505.7,428.0 503.2,427.3 500.7,426.6 498.2,425.9 495.7,425.2 493.2,424.4 490.7,423.6 488.2,422.8 485.7,421.9 483.2,421.1 480.7,420.3 478.2,419.5 475.7,418.7 473.2,417.9 470.7,417.1 468.2,416.3 465.7,415.4 463.2,414.6 460.7,413.8 458.2,412.9 455.7,412.1 453.2,411.2 450.7,410.3 448.2,409.5 445.7,408.6 443.2,407.8 440.7,407.0 438.2,406.2 435.7,405.4 433.2,404.5 430.7,403.7 428.2,402.9 425.7,402.1 423.2,401.3 420.7,400.5 418.2,399.7 415.7,398.9 413.2,398.0 410.7,397.2 408.2,396.3 405.7,395.4 403.2,394.6 400.7,393.7 398.2,392.8 395.7,391.9 393.2,391.0 390.7,390.1 388.2,389.1 385.7,388.2 383.2,387.3 380.7,386.3 378.2,385.3 375.7,384.4 373.2,383.4 370.7,382.4 368.2,381.4 365.7,380.3 363.2,379.3 360.7,378.2 358.2,377.1 355.7,375.9 353.2,374.7 350.7,373.5 348.2,372.3 345.7,371.0 343.2,369.7 340.7,368.4 338.2,366.9 335.7,365.5 333.2,363.9 330.7,362.2 328.2,360.2 325.7,357.0Z" fill="#433e85"/><path d="M332.7,359.4 333.2,358.2 335.7,357.2 338.2,357.0 340.7,357.1 343.2,357.3 345.7,357.6 348.2,358.0 350.7,358.5 353.2,358.9 355.7,359.5 358.2,360.0 360.7,360.5 363.2,361.1 365.7,361.7 368.2,362.3 370.7,362.9 373.2,363.5 375.7,364.1 378.2,364.8 380.7,365.4 383.2,366.0 385.7,366.7 388.2,367.3 390.7,367.9 393.2,368.5 395.7,369.1 398.2,369.7 400.7,370.3 403.2,370.9 405.7,371.4 408.2,372.0 410.7,372.6 413.2,373.2 415.7,373.7 418.2,374.3 420.7,374.9 423.2,375.5 425.7,376.1 428.2,376.7 430.7,377.2 433.2,377.8 435.7,378.4 438.2,379.0 440.7,379.5 443.2,380.1 445.7,380.6 448.2,381.1 450.7,381.6 453.2,382.1 455.7,382.6 458.2,383.1 460.7,383.6 463.2,384.1 465.7,384.5 468.2,385.0 470.7,385.5 473.2,386.0 475.7,386.4 478.2,386.9 480.7,387.4 483.2,387.8 485.7,388.3 488.2,388.7 490.7,389.2 493.2,389.7 495.7,390.1 498.2,390.6 500.7,391.1 503.2,391.6 505.7,392.0 508.2,392.5 510.7,393.0 513.2,393.5 515.7,394.0 518.2,394.6 520.7,395.1 523.2,395.6 525.7,396.1 528.2,396.7 530.7,397.3 533.2,397.8 535.7,398.4 536.0,398.5 537.0,398.7 538.0,399.0 539.0,399.3 540.0,399.5 541.0,399.7 542.0,399.9 543.0,400.1 544.0,400.2 545.0,400.3 546.0,400.4 547.0,400.5 548.0,400.6 549.0,400.8 550.0,400.9 551.0,401.0 552.0,401.2 553.0,401.4 554.0,401.6 555.0,401.9 556.0,402.3 557.0,402.7 558.0,403.3 559.0,403.9 560.0,404.6 561.0,405.4 562.0,406.3 563.0,407.2 564.0,408.2 565.0,409.3 566.0,410.6 567.0,412.2 568.0,414.3 569.0,417.6 569.3,421.0 569.0,424.1 568.0,427.2 567.0,429.0 566.0,430.4 565.0,431.6 564.0,432.6 563.0,433.5 562.0,434.2 561.0,434.8 560.0,435.4 559.0,435.9 558.0,436.4 557.0,436.8 556.0,437.2 555.0,437.4 554.0,437.5 553.0,437.5 552.0,437.4 551.0,437.3 550.0,437.1 549.0,436.9 548.0,436.7 547.0,436.5 546.0,436.2 545.0,436.0 544.0,435.7 543.0,435.4 542.0,435.1 541.0,434.9 540.0,434.7 539.0,434.5 538.0,434.3 537.0,434.1 536.0,433.9 535.7,433.8 533.2,433.2 530.7,432.7 528.2,432.1 525.7,431.6 523.2,431.2 520.7,430.7 518.2,430.3 515.7,429.7 513.2,429.2 510.7,428.6 508.2,428.0 505.7,427.4 503.2,426.7 500.7,426.0 498.2,425.3 495.7,424.6 493.2,423.8 490.7,423.0 488.2,422.2 485.7,421.4 483.2,420.6 480.7,419.8 478.2,419.0 475.7,418.2 473.2,417.4 470.7,416.6 468.2,415.8 465.7,415.0 463.2,414.2 460.7,413.3 458.2,412.5 455.7,411.6 453.2,410.8 450.7,409.9 448.2,409.1 445.7,408.2 443.2,407.4 440.7,406.6 438.2,405.8 435.7,405.0 433.2,404.2 430.7,403.4 428.2,402.6 425.7,401.8 423.2,401.0 420.7,400.1 418.2,399.3 415.7,398.5 413.2,397.7 410.7,396.8 408.2,395.9 405.7,395.1 403.2,394.2 400.7,393.3 398.2,392.4 395.7,391.5 393.2,390.5 390.7,389.6 388.2,388.7 385.7,387.7 383.2,386.8 380.7,385.8 378.2,384.8 375.7,383.8 373.2,382.8 370.7,381.8 368.2,380.7 365.7,379.7 363.2,378.6 360.7,377.4 358.2,376.3 355.7,375.1 353.2,373.8 350.7,372.6 348.2,371.2 345.7,369.9 343.2,368.4 340.7,366.9 338.2,365.2 335.7,363.3 333.2,360.8Z" fill="#414487"/><path d="M339.2,361.9 340.7,360.1 343.2,359.5 345.7,359.4 348.2,359.6 350.7,359.8 353.2,360.2 355.7,360.5 358.2,361.0 360.7,361.4 363.2,361.9 365.7,362.5 368.2,363.0 370.7,363.6 373.2,364.1 375.7,364.7 378.2,365.3 380.7,365.9 383.2,366.5 385.7,367.1 388.2,367.7 390.7,368.3 393.2,368.9 395.7,369.5 398.2,370.1 400.7,370.7 403.2,371.3 405.7,371.8 408.2,372.4 410.7,373.0 413.2,373.5 415.7,374.1 418.2,374.7 420.7,375.2 423.2,375.8 425.7,376.4 428.2,377.0 430.7,377.5 433.2,378.1 435.7,378.7 438.2,379.2 440.7,379.8 443.2,380.3 445.7,380.8 448.2,381.4 450.7,381.9 453.2,382.4 455.7,382.9 458.2,383.3 460.7,383.8 463.2,384.3 465.7,384.8 468.2,385.3 470.7,385.7 473.2,386.2 475.7,386.7 478.2,387.2 480.7,387.6 483.2,388.1 485.7,388.5 488.2,389.0 490.7,389.4 493.2,389.9 495.7,390.3 498.2,390.8 500.7,391.3 503.2,391.8 505.7,392.3 508.2,392.8 510.7,393.3 513.2,393.8 515.7,394.3 518.2,394.8 520.7,395.3 523.2,395.8 525.7,396.4 528.2,396.9 530.7,397.5 533.2,398.1 535.7,398.7 536.0,398.7 537.0,399.0 538.0,399.2 539.0,399.5 540.0,399.7 541.0,400.0 542.0,400.2 543.0,400.3 544.0,400.4 545.0,400.5 546.0,400.6 547.0,400.8 548.0,400.9 549.0,401.0 550.0,401.2 551.0,401.3 552.0,401.5 553.0,401.6 554.0,401.9 555.0,402.2 556.0,402.6 557.0,403.1 558.0,403.6 559.0,404.3 560.0,405.0 561.0,405.8 562.0,406.7 563.0,407.6 564.0,408.7 565.0,409.9 566.0,411.3 567.0,413.1 568.0,415.7 568.8,420.9 568.0,425.7 567.0,428.0 566.0,429.6 565.0,430.9 564.0,432.0 563.0,432.9 562.0,433.7 561.0,434.3 560.0,434.9 559.0,435.4 558.0,435.9 557.0,436.3 556.0,436.6 555.0,436.8 554.0,436.9 553.0,436.9 552.0,436.8 551.0,436.7 550.0,436.5 549.0,436.3 548.0,436.1 547.0,435.9 546.0,435.7 545.0,435.4 544.0,435.2 543.0,434.9 542.0,434.6 541.0,434.3 540.0,434.1 539.0,434.0 538.0,433.8 537.0,433.6 536.0,433.3 535.7,433.3 533.2,432.7 530.7,432.1 528.2,431.6 525.7,431.0 523.2,430.6 520.7,430.2 518.2,429.7 515.7,429.1 513.2,428.6 510.7,428.0 508.2,427.4 505.7,426.8 503.2,426.1 500.7,425.5 498.2,424.8 495.7,424.1 493.2,423.3 490.7,422.5 488.2,421.7 485.7,420.9 483.2,420.1 480.7,419.3 478.2,418.6 475.7,417.8 473.2,417.0 470.7,416.2 468.2,415.4 465.7,414.5 463.2,413.7 460.7,412.9 458.2,412.0 455.7,411.2 453.2,410.4 450.7,409.5 448.2,408.7 445.7,407.8 443.2,407.0 440.7,406.2 438.2,405.4 435.7,404.6 433.2,403.8 430.7,403.0 428.2,402.2 425.7,401.4 423.2,400.6 420.7,399.8 418.2,399.0 415.7,398.1 413.2,397.3 410.7,396.4 408.2,395.6 405.7,394.7 403.2,393.8 400.7,392.9 398.2,391.9 395.7,391.0 393.2,390.1 390.7,389.1 388.2,388.2 385.7,387.2 383.2,386.3 380.7,385.3 378.2,384.3 375.7,383.3 373.2,382.2 370.7,381.2 368.2,380.1 365.7,378.9 363.2,377.8 360.7,376.6 358.2,375.4 355.7,374.1 353.2,372.8 350.7,371.4 348.2,369.9 345.7,368.3 343.2,366.6 340.7,364.4Z" fill="#3e4a89"/><path d="M345.4,364.2 345.7,363.2 348.2,361.9 350.7,361.7 353.2,361.7 355.7,361.9 358.2,362.2 360.7,362.5 363.2,362.9 365.7,363.4 368.2,363.8 370.7,364.3 373.2,364.8 375.7,365.4 378.2,365.9 380.7,366.5 383.2,367.1 385.7,367.7 388.2,368.2 390.7,368.8 393.2,369.4 395.7,370.0 398.2,370.6 400.7,371.1 403.2,371.7 405.7,372.2 408.2,372.8 410.7,373.3 413.2,373.9 415.7,374.4 418.2,375.0 420.7,375.6 423.2,376.1 425.7,376.7 428.2,377.3 430.7,377.8 433.2,378.4 435.7,379.0 438.2,379.5 440.7,380.1 443.2,380.6 445.7,381.1 448.2,381.6 450.7,382.1 453.2,382.6 455.7,383.1 458.2,383.6 460.7,384.1 463.2,384.5 465.7,385.0 468.2,385.5 470.7,386.0 473.2,386.5 475.7,386.9 478.2,387.4 480.7,387.9 483.2,388.3 485.7,388.8 488.2,389.2 490.7,389.7 493.2,390.1 495.7,390.6 498.2,391.0 500.7,391.5 503.2,392.0 505.7,392.5 508.2,393.0 510.7,393.5 513.2,394.0 515.7,394.5 518.2,395.0 520.7,395.5 523.2,396.1 525.7,396.6 528.2,397.1 530.7,397.7 533.2,398.3 535.7,398.9 536.0,399.0 537.0,399.2 538.0,399.5 539.0,399.7 540.0,400.0 541.0,400.2 542.0,400.4 543.0,400.5 544.0,400.7 545.0,400.8 546.0,400.9 547.0,401.0 548.0,401.2 549.0,401.3 550.0,401.4 551.0,401.6 552.0,401.7 553.0,401.9 554.0,402.2 555.0,402.5 556.0,402.9 557.0,403.4 558.0,404.0 559.0,404.6 560.0,405.4 561.0,406.2 562.0,407.1 563.0,408.1 564.0,409.2 565.0,410.5 566.0,412.1 567.0,414.3 568.0,417.9 568.2,420.8 568.0,423.5 567.0,426.8 566.0,428.8 565.0,430.2 564.0,431.4 563.0,432.3 562.0,433.1 561.0,433.8 560.0,434.4 559.0,435.0 558.0,435.4 557.0,435.8 556.0,436.1 555.0,436.3 554.0,436.4 553.0,436.4 552.0,436.3 551.0,436.1 550.0,436.0 549.0,435.8 548.0,435.6 547.0,435.4 546.0,435.1 545.0,434.9 544.0,434.6 543.0,434.3 542.0,434.0 541.0,433.8 540.0,433.6 539.0,433.4 538.0,433.2 537.0,433.0 536.0,432.8 535.7,432.7 533.2,432.1 530.7,431.6 528.2,431.0 525.7,430.5 523.2,430.1 520.7,429.6 518.2,429.1 515.7,428.6 513.2,428.0 510.7,427.5 508.2,426.9 505.7,426.3 503.2,425.6 500.7,425.0 498.2,424.3 495.7,423.6 493.2,422.8 490.7,422.0 488.2,421.3 485.7,420.5 483.2,419.7 480.7,418.9 478.2,418.1 475.7,417.3 473.2,416.5 470.7,415.7 468.2,414.9 465.7,414.1 463.2,413.3 460.7,412.5 458.2,411.6 455.7,410.8 453.2,410.0 450.7,409.1 448.2,408.3 445.7,407.5 443.2,406.7 440.7,405.9 438.2,405.1 435.7,404.3 433.2,403.5 430.7,402.7 428.2,401.9 425.7,401.1 423.2,400.3 420.7,399.5 418.2,398.6 415.7,397.8 413.2,396.9 410.7,396.1 408.2,395.2 405.7,394.3 403.2,393.3 400.7,392.4 398.2,391.5 395.7,390.6 393.2,389.6 390.7,388.7 388.2,387.7 385.7,386.7 383.2,385.7 380.7,384.7 378.2,383.7 375.7,382.6 373.2,381.5 370.7,380.4 368.2,379.3 365.7,378.1 363.2,376.9 360.7,375.6 358.2,374.3 355.7,372.9 353.2,371.4 350.7,369.8 348.2,367.9 345.7,365.3Z" fill="#3c508b"/><path d="M351.2,366.4 353.2,364.2 355.7,363.8 358.2,363.7 360.7,363.9 363.2,364.1 365.7,364.4 368.2,364.8 370.7,365.2 373.2,365.6 375.7,366.1 378.2,366.6 380.7,367.1 383.2,367.7 385.7,368.2 388.2,368.8 390.7,369.3 393.2,369.9 395.7,370.4 398.2,371.0 400.7,371.6 403.2,372.1 405.7,372.6 408.2,373.2 410.7,373.7 413.2,374.2 415.7,374.8 418.2,375.3 420.7,375.9 423.2,376.5 425.7,377.0 428.2,377.6 430.7,378.1 433.2,378.7 435.7,379.3 438.2,379.8 440.7,380.3 443.2,380.9 445.7,381.4 448.2,381.9 450.7,382.4 453.2,382.9 455.7,383.4 458.2,383.9 460.7,384.3 463.2,384.8 465.7,385.3 468.2,385.7 470.7,386.2 473.2,386.7 475.7,387.2 478.2,387.6 480.7,388.1 483.2,388.6 485.7,389.0 488.2,389.5 490.7,389.9 493.2,390.4 495.7,390.8 498.2,391.3 500.7,391.8 503.2,392.2 505.7,392.7 508.2,393.2 510.7,393.7 513.2,394.2 515.7,394.7 518.2,395.2 520.7,395.8 523.2,396.3 525.7,396.8 528.2,397.4 530.7,397.9 533.2,398.5 535.7,399.1 536.0,399.2 537.0,399.4 538.0,399.7 539.0,400.0 540.0,400.2 541.0,400.4 542.0,400.6 543.0,400.8 544.0,400.9 545.0,401.0 546.0,401.1 547.0,401.3 548.0,401.4 549.0,401.6 550.0,401.7 551.0,401.9 552.0,402.0 553.0,402.2 554.0,402.5 555.0,402.8 556.0,403.2 557.0,403.7 558.0,404.3 559.0,405.0 560.0,405.8 561.0,406.6 562.0,407.6 563.0,408.6 564.0,409.7 565.0,411.1 566.0,413.0 567.0,415.7 567.7,420.7 567.0,425.3 566.0,427.8 565.0,429.4 564.0,430.7 563.0,431.7 562.0,432.6 561.0,433.3 560.0,434.0 559.0,434.5 558.0,434.9 557.0,435.3 556.0,435.6 555.0,435.8 554.0,435.9 553.0,435.8 552.0,435.8 551.0,435.6 550.0,435.4 549.0,435.2 548.0,435.0 547.0,434.8 546.0,434.6 545.0,434.3 544.0,434.1 543.0,433.8 542.0,433.5 541.0,433.3 540.0,433.1 539.0,432.9 538.0,432.7 537.0,432.5 536.0,432.3 535.7,432.2 533.2,431.6 530.7,431.1 528.2,430.5 525.7,430.0 523.2,429.6 520.7,429.1 518.2,428.6 515.7,428.1 513.2,427.5 510.7,426.9 508.2,426.4 505.7,425.7 503.2,425.1 500.7,424.5 498.2,423.8 495.7,423.1 493.2,422.3 490.7,421.6 488.2,420.8 485.7,420.0 483.2,419.2 480.7,418.4 478.2,417.6 475.7,416.9 473.2,416.1 470.7,415.3 468.2,414.5 465.7,413.7 463.2,412.9 460.7,412.1 458.2,411.2 455.7,410.4 453.2,409.6 450.7,408.7 448.2,407.9 445.7,407.1 443.2,406.3 440.7,405.5 438.2,404.7 435.7,403.9 433.2,403.1 430.7,402.3 428.2,401.5 425.7,400.7 423.2,399.9 420.7,399.1 418.2,398.3 415.7,397.4 413.2,396.6 410.7,395.7 408.2,394.8 405.7,393.8 403.2,392.9 400.7,392.0 398.2,391.0 395.7,390.1 393.2,389.1 390.7,388.2 388.2,387.2 385.7,386.2 383.2,385.1 380.7,384.1 378.2,383.0 375.7,381.9 373.2,380.8 370.7,379.6 368.2,378.4 365.7,377.1 363.2,375.8 360.7,374.4 358.2,372.9 355.7,371.3 353.2,369.3Z" fill="#39558c"/><path d="M356.8,368.3 358.2,366.4 360.7,365.8 363.2,365.7 365.7,365.8 368.2,366.0 370.7,366.3 373.2,366.6 375.7,367.0 378.2,367.4 380.7,367.8 383.2,368.3 385.7,368.8 388.2,369.3 390.7,369.8 393.2,370.4 395.7,370.9 398.2,371.5 400.7,372.0 403.2,372.5 405.7,373.1 408.2,373.6 410.7,374.1 413.2,374.6 415.7,375.2 418.2,375.7 420.7,376.3 423.2,376.8 425.7,377.4 428.2,377.9 430.7,378.5 433.2,379.0 435.7,379.5 438.2,380.1 440.7,380.6 443.2,381.1 445.7,381.7 448.2,382.2 450.7,382.7 453.2,383.2 455.7,383.6 458.2,384.1 460.7,384.6 463.2,385.1 465.7,385.5 468.2,386.0 470.7,386.5 473.2,386.9 475.7,387.4 478.2,387.9 480.7,388.3 483.2,388.8 485.7,389.2 488.2,389.7 490.7,390.1 493.2,390.6 495.7,391.0 498.2,391.5 500.7,392.0 503.2,392.5 505.7,393.0 508.2,393.5 510.7,394.0 513.2,394.5 515.7,395.0 518.2,395.5 520.7,396.0 523.2,396.5 525.7,397.1 528.2,397.6 530.7,398.2 533.2,398.8 535.7,399.4 536.0,399.4 537.0,399.7 538.0,399.9 539.0,400.2 540.0,400.5 541.0,400.7 542.0,400.9 543.0,401.0 544.0,401.2 545.0,401.3 546.0,401.4 547.0,401.5 548.0,401.7 549.0,401.8 550.0,402.0 551.0,402.1 552.0,402.3 553.0,402.5 554.0,402.8 555.0,403.1 556.0,403.5 557.0,404.0 558.0,404.7 559.0,405.4 560.0,406.2 561.0,407.1 562.0,408.0 563.0,409.1 564.0,410.3 565.0,411.9 566.0,414.1 567.0,418.1 567.2,420.6 567.0,422.9 566.0,426.6 565.0,428.6 564.0,430.0 563.0,431.1 562.0,432.0 561.0,432.8 560.0,433.5 559.0,434.0 558.0,434.5 557.0,434.9 556.0,435.1 555.0,435.3 554.0,435.4 553.0,435.3 552.0,435.2 551.0,435.1 550.0,434.9 549.0,434.7 548.0,434.5 547.0,434.3 546.0,434.1 545.0,433.8 544.0,433.6 543.0,433.3 542.0,433.0 541.0,432.8 540.0,432.6 539.0,432.4 538.0,432.2 537.0,432.0 536.0,431.8 535.7,431.7 533.2,431.1 530.7,430.6 528.2,430.0 525.7,429.5 523.2,429.1 520.7,428.6 518.2,428.1 515.7,427.6 513.2,427.0 510.7,426.4 508.2,425.9 505.7,425.3 503.2,424.6 500.7,424.0 498.2,423.3 495.7,422.6 493.2,421.8 490.7,421.1 488.2,420.3 485.7,419.5 483.2,418.7 480.7,418.0 478.2,417.2 475.7,416.4 473.2,415.6 470.7,414.9 468.2,414.1 465.7,413.3 463.2,412.5 460.7,411.7 458.2,410.8 455.7,410.0 453.2,409.2 450.7,408.4 448.2,407.6 445.7,406.8 443.2,406.0 440.7,405.2 438.2,404.4 435.7,403.6 433.2,402.8 430.7,402.0 428.2,401.2 425.7,400.4 423.2,399.6 420.7,398.7 418.2,397.9 415.7,397.0 413.2,396.2 410.7,395.3 408.2,394.3 405.7,393.4 403.2,392.5 400.7,391.5 398.2,390.6 395.7,389.6 393.2,388.6 390.7,387.6 388.2,386.6 385.7,385.6 383.2,384.5 380.7,383.4 378.2,382.3 375.7,381.1 373.2,379.9 370.7,378.7 368.2,377.4 365.7,376.0 363.2,374.5 360.7,372.8 358.2,370.7Z" fill="#365c8d"/><path d="M362.1,370.2 363.2,368.5 365.7,367.7 368.2,367.5 370.7,367.6 373.2,367.8 375.7,368.0 378.2,368.3 380.7,368.7 383.2,369.1 385.7,369.5 388.2,370.0 390.7,370.4 393.2,370.9 395.7,371.4 398.2,371.9 400.7,372.5 403.2,373.0 405.7,373.5 408.2,374.0 410.7,374.5 413.2,375.0 415.7,375.6 418.2,376.1 420.7,376.6 423.2,377.2 425.7,377.7 428.2,378.2 430.7,378.8 433.2,379.3 435.7,379.9 438.2,380.4 440.7,380.9 443.2,381.4 445.7,381.9 448.2,382.4 450.7,382.9 453.2,383.4 455.7,383.9 458.2,384.4 460.7,384.8 463.2,385.3 465.7,385.8 468.2,386.2 470.7,386.7 473.2,387.2 475.7,387.7 478.2,388.1 480.7,388.6 483.2,389.0 485.7,389.5 488.2,389.9 490.7,390.4 493.2,390.8 495.7,391.3 498.2,391.8 500.7,392.2 503.2,392.7 505.7,393.2 508.2,393.7 510.7,394.2 513.2,394.7 515.7,395.2 518.2,395.7 520.7,396.2 523.2,396.8 525.7,397.3 528.2,397.8 530.7,398.4 533.2,399.0 535.7,399.6 536.0,399.7 537.0,399.9 538.0,400.2 539.0,400.4 540.0,400.7 541.0,400.9 542.0,401.1 543.0,401.3 544.0,401.4 545.0,401.5 546.0,401.6 547.0,401.8 548.0,401.9 549.0,402.1 550.0,402.3 551.0,402.4 552.0,402.6 553.0,402.8 554.0,403.1 555.0,403.4 556.0,403.9 557.0,404.4 558.0,405.0 559.0,405.8 560.0,406.6 561.0,407.5 562.0,408.5 563.0,409.6 564.0,411.0 565.0,412.8 566.0,415.6 566.7,420.5 566.0,425.1 565.0,427.6 564.0,429.3 563.0,430.5 562.0,431.4 561.0,432.2 560.0,433.0 559.0,433.6 558.0,434.0 557.0,434.4 556.0,434.7 555.0,434.8 554.0,434.9 553.0,434.8 552.0,434.7 551.0,434.6 550.0,434.4 549.0,434.2 548.0,434.0 547.0,433.8 546.0,433.6 545.0,433.3 544.0,433.1 543.0,432.8 542.0,432.5 541.0,432.3 540.0,432.1 539.0,431.9 538.0,431.7 537.0,431.5 536.0,431.3 535.7,431.2 533.2,430.6 530.7,430.1 528.2,429.5 525.7,429.0 523.2,428.6 520.7,428.1 518.2,427.6 515.7,427.1 513.2,426.5 510.7,426.0 508.2,425.4 505.7,424.8 503.2,424.1 500.7,423.5 498.2,422.8 495.7,422.1 493.2,421.4 490.7,420.6 488.2,419.9 485.7,419.1 483.2,418.3 480.7,417.5 478.2,416.8 475.7,416.0 473.2,415.2 470.7,414.4 468.2,413.7 465.7,412.9 463.2,412.1 460.7,411.3 458.2,410.5 455.7,409.7 453.2,408.8 450.7,408.0 448.2,407.2 445.7,406.4 443.2,405.6 440.7,404.8 438.2,404.0 435.7,403.2 433.2,402.5 430.7,401.7 428.2,400.9 425.7,400.0 423.2,399.2 420.7,398.4 418.2,397.5 415.7,396.6 413.2,395.7 410.7,394.8 408.2,393.9 405.7,393.0 403.2,392.0 400.7,391.0 398.2,390.1 395.7,389.1 393.2,388.1 390.7,387.0 388.2,386.0 385.7,384.9 383.2,383.8 380.7,382.6 378.2,381.4 375.7,380.2 373.2,378.9 370.7,377.5 368.2,376.0 365.7,374.3 363.2,372.2Z" fill="#34618d"/><path d="M367.3,371.9 368.2,370.4 370.7,369.5 373.2,369.3 375.7,369.3 378.2,369.5 380.7,369.7 383.2,370.0 385.7,370.3 388.2,370.7 390.7,371.1 393.2,371.5 395.7,372.0 398.2,372.5 400.7,373.0 403.2,373.5 405.7,373.9 408.2,374.4 410.7,374.9 413.2,375.4 415.7,376.0 418.2,376.5 420.7,377.0 423.2,377.5 425.7,378.0 428.2,378.6 430.7,379.1 433.2,379.6 435.7,380.2 438.2,380.7 440.7,381.2 443.2,381.7 445.7,382.2 448.2,382.7 450.7,383.2 453.2,383.7 455.7,384.2 458.2,384.6 460.7,385.1 463.2,385.6 465.7,386.0 468.2,386.5 470.7,387.0 473.2,387.4 475.7,387.9 478.2,388.4 480.7,388.8 483.2,389.3 485.7,389.7 488.2,390.2 490.7,390.6 493.2,391.1 495.7,391.5 498.2,392.0 500.7,392.5 503.2,392.9 505.7,393.4 508.2,393.9 510.7,394.4 513.2,394.9 515.7,395.4 518.2,395.9 520.7,396.5 523.2,397.0 525.7,397.5 528.2,398.1 530.7,398.6 533.2,399.2 535.7,399.8 536.0,399.9 537.0,400.2 538.0,400.4 539.0,400.7 540.0,400.9 541.0,401.2 542.0,401.4 543.0,401.5 544.0,401.7 545.0,401.8 546.0,401.9 547.0,402.0 548.0,402.2 549.0,402.4 550.0,402.5 551.0,402.7 552.0,402.9 553.0,403.1 554.0,403.4 555.0,403.7 556.0,404.2 557.0,404.7 558.0,405.4 559.0,406.2 560.0,407.0 561.0,408.0 562.0,409.0 563.0,410.2 564.0,411.7 565.0,413.9 566.0,418.0 566.2,420.4 566.0,422.7 565.0,426.4 564.0,428.4 563.0,429.8 562.0,430.8 561.0,431.7 560.0,432.4 559.0,433.1 558.0,433.6 557.0,433.9 556.0,434.2 555.0,434.4 554.0,434.4 553.0,434.4 552.0,434.3 551.0,434.1 550.0,433.9 549.0,433.7 548.0,433.5 547.0,433.3 546.0,433.1 545.0,432.8 544.0,432.6 543.0,432.3 542.0,432.0 541.0,431.8 540.0,431.6 539.0,431.4 538.0,431.2 537.0,431.0 536.0,430.8 535.7,430.7 533.2,430.2 530.7,429.6 528.2,429.1 525.7,428.5 523.2,428.1 520.7,427.6 518.2,427.1 515.7,426.6 513.2,426.1 510.7,425.5 508.2,424.9 505.7,424.3 503.2,423.7 500.7,423.0 498.2,422.4 495.7,421.7 493.2,420.9 490.7,420.2 488.2,419.4 485.7,418.7 483.2,417.9 480.7,417.1 478.2,416.4 475.7,415.6 473.2,414.8 470.7,414.1 468.2,413.3 465.7,412.5 463.2,411.7 460.7,410.9 458.2,410.1 455.7,409.3 453.2,408.5 450.7,407.7 448.2,406.9 445.7,406.1 443.2,405.3 440.7,404.5 438.2,403.7 435.7,402.9 433.2,402.1 430.7,401.3 428.2,400.5 425.7,399.7 423.2,398.9 420.7,398.0 418.2,397.1 415.7,396.2 413.2,395.3 410.7,394.4 408.2,393.4 405.7,392.5 403.2,391.5 400.7,390.5 398.2,389.5 395.7,388.5 393.2,387.5 390.7,386.4 388.2,385.3 385.7,384.2 383.2,383.0 380.7,381.7 378.2,380.4 375.7,379.1 373.2,377.6 370.7,375.9 368.2,373.7Z" fill="#31668e"/><path d="M372.4,373.6 373.2,372.1 375.7,371.2 378.2,371.0 380.7,371.0 383.2,371.1 385.7,371.3 388.2,371.6 390.7,371.9 393.2,372.3 395.7,372.7 398.2,373.1 400.7,373.5 403.2,374.0 405.7,374.4 408.2,374.9 410.7,375.4 413.2,375.9 415.7,376.4 418.2,376.9 420.7,377.4 423.2,377.9 425.7,378.4 428.2,378.9 430.7,379.4 433.2,380.0 435.7,380.5 438.2,381.0 440.7,381.5 443.2,382.0 445.7,382.5 448.2,383.0 450.7,383.5 453.2,384.0 455.7,384.4 458.2,384.9 460.7,385.4 463.2,385.8 465.7,386.3 468.2,386.8 470.7,387.2 473.2,387.7 475.7,388.2 478.2,388.6 480.7,389.1 483.2,389.5 485.7,390.0 488.2,390.4 490.7,390.9 493.2,391.3 495.7,391.8 498.2,392.2 500.7,392.7 503.2,393.2 505.7,393.7 508.2,394.2 510.7,394.7 513.2,395.2 515.7,395.7 518.2,396.2 520.7,396.7 523.2,397.2 525.7,397.8 528.2,398.3 530.7,398.9 533.2,399.5 535.7,400.1 536.0,400.2 537.0,400.4 538.0,400.7 539.0,400.9 540.0,401.2 541.0,401.4 542.0,401.6 543.0,401.8 544.0,401.9 545.0,402.0 546.0,402.2 547.0,402.3 548.0,402.5 549.0,402.7 550.0,402.8 551.0,403.0 552.0,403.2 553.0,403.4 554.0,403.7 555.0,404.1 556.0,404.5 557.0,405.1 558.0,405.8 559.0,406.6 560.0,407.5 561.0,408.4 562.0,409.5 563.0,410.8 564.0,412.6 565.0,415.3 565.7,420.3 565.0,424.9 564.0,427.4 563.0,429.0 562.0,430.2 561.0,431.1 560.0,431.9 559.0,432.6 558.0,433.1 557.0,433.5 556.0,433.8 555.0,433.9 554.0,433.9 553.0,433.9 552.0,433.8 551.0,433.6 550.0,433.4 549.0,433.2 548.0,433.0 547.0,432.8 546.0,432.6 545.0,432.4 544.0,432.1 543.0,431.8 542.0,431.6 541.0,431.3 540.0,431.1 539.0,431.0 538.0,430.8 537.0,430.6 536.0,430.3 535.7,430.3 533.2,429.7 530.7,429.1 528.2,428.6 525.7,428.1 523.2,427.6 520.7,427.2 518.2,426.7 515.7,426.2 513.2,425.6 510.7,425.0 508.2,424.5 505.7,423.9 503.2,423.2 500.7,422.6 498.2,421.9 495.7,421.2 493.2,420.5 490.7,419.8 488.2,419.0 485.7,418.2 483.2,417.5 480.7,416.7 478.2,416.0 475.7,415.2 473.2,414.4 470.7,413.7 468.2,412.9 465.7,412.1 463.2,411.3 460.7,410.6 458.2,409.8 455.7,409.0 453.2,408.2 450.7,407.4 448.2,406.6 445.7,405.8 443.2,405.0 440.7,404.2 438.2,403.4 435.7,402.6 433.2,401.8 430.7,401.0 428.2,400.2 425.7,399.3 423.2,398.5 420.7,397.6 418.2,396.7 415.7,395.8 413.2,394.9 410.7,393.9 408.2,393.0 405.7,392.0 403.2,391.0 400.7,390.0 398.2,389.0 395.7,387.9 393.2,386.8 390.7,385.7 388.2,384.5 385.7,383.3 383.2,382.0 380.7,380.6 378.2,379.2 375.7,377.5 373.2,375.3Z" fill="#2f6c8e"/><path d="M377.3,375.2 378.2,373.6 380.7,372.8 383.2,372.5 385.7,372.5 388.2,372.6 390.7,372.8 393.2,373.1 395.7,373.4 398.2,373.8 400.7,374.1 403.2,374.5 405.7,374.9 408.2,375.4 410.7,375.8 413.2,376.3 415.7,376.8 418.2,377.3 420.7,377.8 423.2,378.3 425.7,378.8 428.2,379.3 430.7,379.8 433.2,380.3 435.7,380.8 438.2,381.3 440.7,381.8 443.2,382.3 445.7,382.8 448.2,383.3 450.7,383.8 453.2,384.2 455.7,384.7 458.2,385.2 460.7,385.6 463.2,386.1 465.7,386.6 468.2,387.0 470.7,387.5 473.2,387.9 475.7,388.4 478.2,388.9 480.7,389.3 483.2,389.8 485.7,390.2 488.2,390.7 490.7,391.1 493.2,391.6 495.7,392.0 498.2,392.5 500.7,393.0 503.2,393.4 505.7,393.9 508.2,394.4 510.7,394.9 513.2,395.4 515.7,395.9 518.2,396.4 520.7,396.9 523.2,397.5 525.7,398.0 528.2,398.6 530.7,399.1 533.2,399.7 535.7,400.3 536.0,400.4 537.0,400.6 538.0,400.9 539.0,401.2 540.0,401.4 541.0,401.7 542.0,401.9 543.0,402.0 544.0,402.2 545.0,402.3 546.0,402.4 547.0,402.6 548.0,402.8 549.0,402.9 550.0,403.1 551.0,403.3 552.0,403.5 553.0,403.7 554.0,404.0 555.0,404.4 556.0,404.9 557.0,405.5 558.0,406.2 559.0,407.0 560.0,407.9 561.0,408.9 562.0,410.1 563.0,411.6 564.0,413.7 565.0,417.6 565.2,420.2 565.0,422.7 564.0,426.3 563.0,428.2 562.0,429.5 561.0,430.5 560.0,431.3 559.0,432.1 558.0,432.6 557.0,433.0 556.0,433.3 555.0,433.5 554.0,433.5 553.0,433.4 552.0,433.3 551.0,433.2 550.0,433.0 549.0,432.8 548.0,432.6 547.0,432.4 546.0,432.2 545.0,431.9 544.0,431.6 543.0,431.4 542.0,431.1 541.0,430.9 540.0,430.7 539.0,430.5 538.0,430.3 537.0,430.1 536.0,429.9 535.7,429.8 533.2,429.3 530.7,428.7 528.2,428.2 525.7,427.6 523.2,427.2 520.7,426.7 518.2,426.2 515.7,425.7 513.2,425.2 510.7,424.6 508.2,424.0 505.7,423.4 503.2,422.8 500.7,422.1 498.2,421.5 495.7,420.8 493.2,420.1 490.7,419.3 488.2,418.6 485.7,417.8 483.2,417.1 480.7,416.3 478.2,415.6 475.7,414.8 473.2,414.1 470.7,413.3 468.2,412.5 465.7,411.8 463.2,411.0 460.7,410.2 458.2,409.4 455.7,408.6 453.2,407.8 450.7,407.0 448.2,406.2 445.7,405.4 443.2,404.6 440.7,403.8 438.2,403.0 435.7,402.2 433.2,401.4 430.7,400.6 428.2,399.8 425.7,398.9 423.2,398.1 420.7,397.2 418.2,396.3 415.7,395.4 413.2,394.4 410.7,393.5 408.2,392.5 405.7,391.5 403.2,390.5 400.7,389.4 398.2,388.3 395.7,387.2 393.2,386.0 390.7,384.8 388.2,383.6 385.7,382.2 383.2,380.8 380.7,379.1 378.2,376.9Z" fill="#2d718e"/><path d="M382.1,376.7 383.2,375.0 385.7,374.2 388.2,374.0 390.7,374.0 393.2,374.1 395.7,374.3 398.2,374.6 400.7,374.8 403.2,375.2 405.7,375.5 408.2,375.9 410.7,376.3 413.2,376.8 415.7,377.2 418.2,377.7 420.7,378.2 423.2,378.7 425.7,379.2 428.2,379.7 430.7,380.2 433.2,380.7 435.7,381.2 438.2,381.7 440.7,382.2 443.2,382.6 445.7,383.1 448.2,383.6 450.7,384.1 453.2,384.5 455.7,385.0 458.2,385.5 460.7,385.9 463.2,386.4 465.7,386.8 468.2,387.3 470.7,387.7 473.2,388.2 475.7,388.7 478.2,389.1 480.7,389.6 483.2,390.0 485.7,390.5 488.2,390.9 490.7,391.4 493.2,391.8 495.7,392.3 498.2,392.7 500.7,393.2 503.2,393.7 505.7,394.2 508.2,394.6 510.7,395.1 513.2,395.6 515.7,396.2 518.2,396.7 520.7,397.2 523.2,397.7 525.7,398.3 528.2,398.8 530.7,399.4 533.2,400.0 535.7,400.6 536.0,400.6 537.0,400.9 538.0,401.1 539.0,401.4 540.0,401.7 541.0,401.9 542.0,402.1 543.0,402.3 544.0,402.4 545.0,402.6 546.0,402.7 547.0,402.9 548.0,403.0 549.0,403.2 550.0,403.4 551.0,403.6 552.0,403.8 553.0,404.1 554.0,404.4 555.0,404.8 556.0,405.2 557.0,405.8 558.0,406.6 559.0,407.4 560.0,408.4 561.0,409.5 562.0,410.7 563.0,412.5 564.0,415.1 564.7,420.1 564.0,424.8 563.0,427.2 562.0,428.7 561.0,429.8 560.0,430.7 559.0,431.5 558.0,432.1 557.0,432.6 556.0,432.9 555.0,433.0 554.0,433.1 553.0,433.0 552.0,432.9 551.0,432.7 550.0,432.5 549.0,432.3 548.0,432.1 547.0,431.9 546.0,431.7 545.0,431.5 544.0,431.2 543.0,430.9 542.0,430.7 541.0,430.4 540.0,430.2 539.0,430.1 538.0,429.9 537.0,429.7 536.0,429.5 535.7,429.4 533.2,428.8 530.7,428.3 528.2,427.7 525.7,427.2 523.2,426.8 520.7,426.3 518.2,425.8 515.7,425.3 513.2,424.7 510.7,424.2 508.2,423.6 505.7,423.0 503.2,422.4 500.7,421.7 498.2,421.1 495.7,420.4 493.2,419.7 490.7,418.9 488.2,418.2 485.7,417.4 483.2,416.7 480.7,415.9 478.2,415.2 475.7,414.4 473.2,413.7 470.7,412.9 468.2,412.2 465.7,411.4 463.2,410.7 460.7,409.9 458.2,409.1 455.7,408.3 453.2,407.5 450.7,406.7 448.2,405.9 445.7,405.1 443.2,404.3 440.7,403.5 438.2,402.7 435.7,401.9 433.2,401.1 430.7,400.3 428.2,399.4 425.7,398.5 423.2,397.7 420.7,396.8 418.2,395.9 415.7,394.9 413.2,394.0 410.7,393.0 408.2,392.0 405.7,390.9 403.2,389.8 400.7,388.7 398.2,387.6 395.7,386.4 393.2,385.1 390.7,383.8 388.2,382.4 385.7,380.8 383.2,378.7Z" fill="#2b758e"/><path d="M386.7,378.2 388.2,376.2 390.7,375.6 393.2,375.4 395.7,375.4 398.2,375.5 400.7,375.7 403.2,375.9 405.7,376.2 408.2,376.5 410.7,376.9 413.2,377.3 415.7,377.7 418.2,378.1 420.7,378.6 423.2,379.1 425.7,379.6 428.2,380.0 430.7,380.5 433.2,381.0 435.7,381.5 438.2,382.0 440.7,382.5 443.2,383.0 445.7,383.4 448.2,383.9 450.7,384.4 453.2,384.8 455.7,385.3 458.2,385.7 460.7,386.2 463.2,386.6 465.7,387.1 468.2,387.6 470.7,388.0 473.2,388.5 475.7,388.9 478.2,389.4 480.7,389.8 483.2,390.3 485.7,390.7 488.2,391.2 490.7,391.6 493.2,392.1 495.7,392.5 498.2,393.0 500.7,393.4 503.2,393.9 505.7,394.4 508.2,394.9 510.7,395.4 513.2,395.9 515.7,396.4 518.2,396.9 520.7,397.4 523.2,398.0 525.7,398.5 528.2,399.0 530.7,399.6 533.2,400.2 535.7,400.8 536.0,400.9 537.0,401.1 538.0,401.4 539.0,401.6 540.0,401.9 541.0,402.2 542.0,402.4 543.0,402.5 544.0,402.7 545.0,402.8 546.0,403.0 547.0,403.1 548.0,403.3 549.0,403.5 550.0,403.7 551.0,403.9 552.0,404.1 553.0,404.4 554.0,404.7 555.0,405.1 556.0,405.6 557.0,406.2 558.0,407.0 559.0,407.9 560.0,408.9 561.0,410.0 562.0,411.5 563.0,413.5 564.0,417.2 564.2,420.1 564.0,422.7 563.0,426.1 562.0,427.9 561.0,429.2 560.0,430.1 559.0,430.9 558.0,431.6 557.0,432.1 556.0,432.4 555.0,432.6 554.0,432.6 553.0,432.6 552.0,432.5 551.0,432.3 550.0,432.1 549.0,431.9 548.0,431.7 547.0,431.5 546.0,431.3 545.0,431.0 544.0,430.8 543.0,430.5 542.0,430.3 541.0,430.0 540.0,429.8 539.0,429.6 538.0,429.4 537.0,429.2 536.0,429.0 535.7,429.0 533.2,428.4 530.7,427.8 528.2,427.3 525.7,426.8 523.2,426.3 520.7,425.9 518.2,425.4 515.7,424.8 513.2,424.3 510.7,423.7 508.2,423.2 505.7,422.6 503.2,421.9 500.7,421.3 498.2,420.7 495.7,420.0 493.2,419.3 490.7,418.5 488.2,417.8 485.7,417.1 483.2,416.3 480.7,415.6 478.2,414.8 475.7,414.1 473.2,413.3 470.7,412.6 468.2,411.8 465.7,411.1 463.2,410.3 460.7,409.5 458.2,408.8 455.7,408.0 453.2,407.2 450.7,406.4 448.2,405.6 445.7,404.8 443.2,404.0 440.7,403.2 438.2,402.4 435.7,401.5 433.2,400.7 430.7,399.9 428.2,399.0 425.7,398.1 423.2,397.2 420.7,396.3 418.2,395.4 415.7,394.5 413.2,393.5 410.7,392.5 408.2,391.4 405.7,390.3 403.2,389.1 400.7,388.0 398.2,386.7 395.7,385.4 393.2,384.0 390.7,382.5 388.2,380.5Z" fill="#297b8e"/><path d="M391.1,379.5 393.2,377.3 395.7,376.8 398.2,376.7 400.7,376.7 403.2,376.8 405.7,377.0 408.2,377.2 410.7,377.5 413.2,377.8 415.7,378.2 418.2,378.6 420.7,379.0 423.2,379.5 425.7,380.0 428.2,380.4 430.7,380.9 433.2,381.4 435.7,381.9 438.2,382.4 440.7,382.8 443.2,383.3 445.7,383.8 448.2,384.2 450.7,384.7 453.2,385.1 455.7,385.6 458.2,386.0 460.7,386.5 463.2,386.9 465.7,387.4 468.2,387.8 470.7,388.3 473.2,388.7 475.7,389.2 478.2,389.7 480.7,390.1 483.2,390.5 485.7,391.0 488.2,391.4 490.7,391.9 493.2,392.3 495.7,392.8 498.2,393.2 500.7,393.7 503.2,394.2 505.7,394.6 508.2,395.1 510.7,395.6 513.2,396.1 515.7,396.6 518.2,397.1 520.7,397.7 523.2,398.2 525.7,398.7 528.2,399.3 530.7,399.9 533.2,400.5 535.7,401.1 536.0,401.1 537.0,401.4 538.0,401.6 539.0,401.9 540.0,402.2 541.0,402.4 542.0,402.6 543.0,402.8 544.0,402.9 545.0,403.1 546.0,403.2 547.0,403.4 548.0,403.6 549.0,403.8 550.0,404.0 551.0,404.2 552.0,404.4 553.0,404.7 554.0,405.0 555.0,405.5 556.0,406.0 557.0,406.6 558.0,407.4 559.0,408.3 560.0,409.4 561.0,410.7 562.0,412.4 563.0,414.9 563.7,420.0 563.0,424.7 562.0,426.9 561.0,428.4 560.0,429.5 559.0,430.4 558.0,431.1 557.0,431.6 556.0,432.0 555.0,432.2 554.0,432.2 553.0,432.2 552.0,432.1 551.0,431.9 550.0,431.7 549.0,431.5 548.0,431.3 547.0,431.1 546.0,430.9 545.0,430.6 544.0,430.4 543.0,430.1 542.0,429.8 541.0,429.6 540.0,429.4 539.0,429.2 538.0,429.0 537.0,428.8 536.0,428.6 535.7,428.5 533.2,428.0 530.7,427.4 528.2,426.9 525.7,426.4 523.2,425.9 520.7,425.5 518.2,425.0 515.7,424.4 513.2,423.9 510.7,423.3 508.2,422.7 505.7,422.2 503.2,421.5 500.7,420.9 498.2,420.3 495.7,419.6 493.2,418.9 490.7,418.2 488.2,417.4 485.7,416.7 483.2,415.9 480.7,415.2 478.2,414.5 475.7,413.7 473.2,413.0 470.7,412.3 468.2,411.5 465.7,410.8 463.2,410.0 460.7,409.2 458.2,408.4 455.7,407.7 453.2,406.9 450.7,406.1 448.2,405.3 445.7,404.5 443.2,403.7 440.7,402.8 438.2,402.0 435.7,401.2 433.2,400.3 430.7,399.5 428.2,398.6 425.7,397.7 423.2,396.8 420.7,395.9 418.2,394.9 415.7,394.0 413.2,392.9 410.7,391.9 408.2,390.7 405.7,389.6 403.2,388.4 400.7,387.1 398.2,385.7 395.7,384.2 393.2,382.4Z" fill="#27808e"/><path d="M395.4,380.8 395.7,379.8 398.2,378.4 400.7,378.0 403.2,377.9 405.7,377.9 408.2,378.0 410.7,378.2 413.2,378.5 415.7,378.8 418.2,379.1 420.7,379.5 423.2,380.0 425.7,380.4 428.2,380.9 430.7,381.3 433.2,381.8 435.7,382.3 438.2,382.7 440.7,383.2 443.2,383.6 445.7,384.1 448.2,384.5 450.7,385.0 453.2,385.4 455.7,385.9 458.2,386.3 460.7,386.8 463.2,387.2 465.7,387.7 468.2,388.1 470.7,388.6 473.2,389.0 475.7,389.5 478.2,389.9 480.7,390.4 483.2,390.8 485.7,391.2 488.2,391.7 490.7,392.1 493.2,392.6 495.7,393.0 498.2,393.5 500.7,393.9 503.2,394.4 505.7,394.9 508.2,395.4 510.7,395.9 513.2,396.4 515.7,396.9 518.2,397.4 520.7,397.9 523.2,398.5 525.7,399.0 528.2,399.5 530.7,400.1 533.2,400.7 535.7,401.3 536.0,401.4 537.0,401.6 538.0,401.9 539.0,402.2 540.0,402.4 541.0,402.7 542.0,402.9 543.0,403.0 544.0,403.2 545.0,403.4 546.0,403.5 547.0,403.7 548.0,403.9 549.0,404.1 550.0,404.3 551.0,404.5 552.0,404.8 553.0,405.0 554.0,405.4 555.0,405.8 556.0,406.4 557.0,407.1 558.0,407.9 559.0,408.8 560.0,410.0 561.0,411.5 562.0,413.4 563.0,417.0 563.2,419.9 563.0,422.6 562.0,425.8 561.0,427.6 560.0,428.8 559.0,429.8 558.0,430.5 557.0,431.1 556.0,431.5 555.0,431.7 554.0,431.8 553.0,431.7 552.0,431.6 551.0,431.5 550.0,431.3 549.0,431.1 548.0,430.9 547.0,430.7 546.0,430.5 545.0,430.2 544.0,430.0 543.0,429.7 542.0,429.4 541.0,429.2 540.0,429.0 539.0,428.8 538.0,428.6 537.0,428.4 536.0,428.2 535.7,428.1 533.2,427.6 530.7,427.0 528.2,426.5 525.7,426.0 523.2,425.5 520.7,425.1 518.2,424.6 515.7,424.0 513.2,423.5 510.7,422.9 508.2,422.4 505.7,421.8 503.2,421.1 500.7,420.5 498.2,419.9 495.7,419.2 493.2,418.5 490.7,417.8 488.2,417.1 485.7,416.3 483.2,415.6 480.7,414.9 478.2,414.1 475.7,413.4 473.2,412.7 470.7,411.9 468.2,411.2 465.7,410.4 463.2,409.7 460.7,408.9 458.2,408.1 455.7,407.3 453.2,406.6 450.7,405.8 448.2,404.9 445.7,404.1 443.2,403.3 440.7,402.5 438.2,401.6 435.7,400.8 433.2,399.9 430.7,399.0 428.2,398.2 425.7,397.3 423.2,396.3 420.7,395.4 418.2,394.4 415.7,393.4 413.2,392.3 410.7,391.2 408.2,390.0 405.7,388.7 403.2,387.4 400.7,385.9 398.2,384.2 395.7,381.8Z" fill="#25848e"/><path d="M399.5,382.0 400.7,380.2 403.2,379.4 405.7,379.1 408.2,379.0 410.7,379.1 413.2,379.2 415.7,379.4 418.2,379.7 420.7,380.1 423.2,380.4 425.7,380.9 428.2,381.3 430.7,381.7 433.2,382.2 435.7,382.6 438.2,383.1 440.7,383.5 443.2,384.0 445.7,384.4 448.2,384.9 450.7,385.3 453.2,385.7 455.7,386.2 458.2,386.6 460.7,387.1 463.2,387.5 465.7,387.9 468.2,388.4 470.7,388.8 473.2,389.3 475.7,389.7 478.2,390.2 480.7,390.6 483.2,391.1 485.7,391.5 488.2,391.9 490.7,392.4 493.2,392.8 495.7,393.3 498.2,393.7 500.7,394.2 503.2,394.7 505.7,395.1 508.2,395.6 510.7,396.1 513.2,396.6 515.7,397.1 518.2,397.6 520.7,398.2 523.2,398.7 525.7,399.2 528.2,399.8 530.7,400.4 533.2,401.0 535.7,401.6 536.0,401.6 537.0,401.9 538.0,402.1 539.0,402.4 540.0,402.7 541.0,402.9 542.0,403.1 543.0,403.3 544.0,403.5 545.0,403.6 546.0,403.8 547.0,404.0 548.0,404.2 549.0,404.4 550.0,404.6 551.0,404.8 552.0,405.1 553.0,405.4 554.0,405.8 555.0,406.2 556.0,406.8 557.0,407.5 558.0,408.3 559.0,409.3 560.0,410.6 561.0,412.3 562.0,414.8 562.7,419.8 562.0,424.4 561.0,426.6 560.0,428.1 559.0,429.2 558.0,430.0 557.0,430.6 556.0,431.0 555.0,431.2 554.0,431.3 553.0,431.3 552.0,431.2 551.0,431.1 550.0,430.9 549.0,430.7 548.0,430.5 547.0,430.3 546.0,430.1 545.0,429.8 544.0,429.6 543.0,429.3 542.0,429.1 541.0,428.8 540.0,428.6 539.0,428.4 538.0,428.2 537.0,428.0 536.0,427.8 535.7,427.8 533.2,427.2 530.7,426.6 528.2,426.1 525.7,425.6 523.2,425.1 520.7,424.7 518.2,424.2 515.7,423.6 513.2,423.1 510.7,422.5 508.2,422.0 505.7,421.4 503.2,420.8 500.7,420.1 498.2,419.5 495.7,418.8 493.2,418.1 490.7,417.4 488.2,416.7 485.7,416.0 483.2,415.3 480.7,414.5 478.2,413.8 475.7,413.1 473.2,412.4 470.7,411.6 468.2,410.9 465.7,410.1 463.2,409.4 460.7,408.6 458.2,407.8 455.7,407.0 453.2,406.2 450.7,405.4 448.2,404.6 445.7,403.8 443.2,402.9 440.7,402.1 438.2,401.2 435.7,400.4 433.2,399.5 430.7,398.6 428.2,397.7 425.7,396.8 423.2,395.9 420.7,394.9 418.2,393.9 415.7,392.8 413.2,391.6 410.7,390.4 408.2,389.1 405.7,387.7 403.2,386.1 400.7,384.1Z" fill="#238a8d"/><path d="M403.4,383.2 405.7,380.8 408.2,380.3 410.7,380.1 413.2,380.1 415.7,380.2 418.2,380.4 420.7,380.7 423.2,381.0 425.7,381.4 428.2,381.7 430.7,382.2 433.2,382.6 435.7,383.0 438.2,383.5 440.7,383.9 443.2,384.4 445.7,384.8 448.2,385.2 450.7,385.6 453.2,386.1 455.7,386.5 458.2,386.9 460.7,387.4 463.2,387.8 465.7,388.2 468.2,388.7 470.7,389.1 473.2,389.6 475.7,390.0 478.2,390.5 480.7,390.9 483.2,391.3 485.7,391.8 488.2,392.2 490.7,392.6 493.2,393.1 495.7,393.5 498.2,394.0 500.7,394.4 503.2,394.9 505.7,395.4 508.2,395.9 510.7,396.4 513.2,396.9 515.7,397.4 518.2,397.9 520.7,398.4 523.2,399.0 525.7,399.5 528.2,400.0 530.7,400.6 533.2,401.2 535.7,401.8 536.0,401.9 537.0,402.1 538.0,402.4 539.0,402.7 540.0,402.9 541.0,403.2 542.0,403.4 543.0,403.6 544.0,403.7 545.0,403.9 546.0,404.1 547.0,404.3 548.0,404.5 549.0,404.7 550.0,404.9 551.0,405.2 552.0,405.4 553.0,405.8 554.0,406.1 555.0,406.6 556.0,407.2 557.0,407.9 558.0,408.8 559.0,409.9 560.0,411.4 561.0,413.4 562.0,416.9 562.2,419.7 562.0,422.3 561.0,425.5 560.0,427.2 559.0,428.5 558.0,429.4 557.0,430.0 556.0,430.5 555.0,430.8 554.0,430.9 553.0,430.9 552.0,430.8 551.0,430.7 550.0,430.5 549.0,430.3 548.0,430.1 547.0,429.9 546.0,429.7 545.0,429.5 544.0,429.2 543.0,428.9 542.0,428.7 541.0,428.5 540.0,428.3 539.0,428.1 538.0,427.9 537.0,427.7 536.0,427.5 535.7,427.4 533.2,426.8 530.7,426.3 528.2,425.7 525.7,425.2 523.2,424.8 520.7,424.3 518.2,423.8 515.7,423.3 513.2,422.7 510.7,422.2 508.2,421.6 505.7,421.0 503.2,420.4 500.7,419.8 498.2,419.1 495.7,418.5 493.2,417.8 490.7,417.1 488.2,416.4 485.7,415.7 483.2,414.9 480.7,414.2 478.2,413.5 475.7,412.8 473.2,412.0 470.7,411.3 468.2,410.6 465.7,409.8 463.2,409.1 460.7,408.3 458.2,407.5 455.7,406.7 453.2,405.9 450.7,405.1 448.2,404.3 445.7,403.4 443.2,402.6 440.7,401.7 438.2,400.8 435.7,400.0 433.2,399.1 430.7,398.2 428.2,397.3 425.7,396.3 423.2,395.3 420.7,394.3 418.2,393.2 415.7,392.1 413.2,390.8 410.7,389.5 408.2,388.0 405.7,386.2Z" fill="#218f8d"/><path d="M407.1,384.2 408.2,382.4 410.7,381.5 413.2,381.2 415.7,381.1 418.2,381.2 420.7,381.4 423.2,381.6 425.7,381.9 428.2,382.3 430.7,382.6 433.2,383.0 435.7,383.5 438.2,383.9 440.7,384.3 443.2,384.7 445.7,385.2 448.2,385.6 450.7,386.0 453.2,386.4 455.7,386.8 458.2,387.3 460.7,387.7 463.2,388.1 465.7,388.5 468.2,389.0 470.7,389.4 473.2,389.9 475.7,390.3 478.2,390.8 480.7,391.2 483.2,391.6 485.7,392.1 488.2,392.5 490.7,392.9 493.2,393.3 495.7,393.8 498.2,394.2 500.7,394.7 503.2,395.2 505.7,395.7 508.2,396.1 510.7,396.6 513.2,397.1 515.7,397.6 518.2,398.2 520.7,398.7 523.2,399.2 525.7,399.8 528.2,400.3 530.7,400.9 533.2,401.5 535.7,402.1 536.0,402.2 537.0,402.4 538.0,402.7 539.0,402.9 540.0,403.2 541.0,403.5 542.0,403.7 543.0,403.9 544.0,404.0 545.0,404.2 546.0,404.4 547.0,404.6 548.0,404.8 549.0,405.0 550.0,405.3 551.0,405.5 552.0,405.8 553.0,406.1 554.0,406.5 555.0,407.0 556.0,407.6 557.0,408.4 558.0,409.3 559.0,410.6 560.0,412.3 561.0,414.8 561.7,419.6 561.0,424.0 560.0,426.3 559.0,427.7 558.0,428.8 557.0,429.5 556.0,430.0 555.0,430.3 554.0,430.4 553.0,430.5 552.0,430.4 551.0,430.3 550.0,430.1 549.0,429.9 548.0,429.7 547.0,429.5 546.0,429.3 545.0,429.1 544.0,428.8 543.0,428.6 542.0,428.3 541.0,428.1 540.0,427.9 539.0,427.7 538.0,427.5 537.0,427.3 536.0,427.1 535.7,427.0 533.2,426.5 530.7,425.9 528.2,425.4 525.7,424.9 523.2,424.4 520.7,423.9 518.2,423.4 515.7,422.9 513.2,422.4 510.7,421.8 508.2,421.2 505.7,420.7 503.2,420.1 500.7,419.4 498.2,418.8 495.7,418.1 493.2,417.5 490.7,416.8 488.2,416.0 485.7,415.3 483.2,414.6 480.7,413.9 478.2,413.2 475.7,412.5 473.2,411.7 470.7,411.0 468.2,410.3 465.7,409.5 463.2,408.7 460.7,408.0 458.2,407.2 455.7,406.4 453.2,405.6 450.7,404.7 448.2,403.9 445.7,403.0 443.2,402.2 440.7,401.3 438.2,400.4 435.7,399.5 433.2,398.6 430.7,397.7 428.2,396.8 425.7,395.8 423.2,394.7 420.7,393.6 418.2,392.5 415.7,391.2 413.2,389.9 410.7,388.3 408.2,386.2Z" fill="#20938c"/><path d="M410.7,385.3 410.7,384.9 413.2,382.8 415.7,382.3 418.2,382.2 420.7,382.2 423.2,382.4 425.7,382.6 428.2,382.9 430.7,383.2 433.2,383.5 435.7,383.9 438.2,384.3 440.7,384.7 443.2,385.1 445.7,385.5 448.2,385.9 450.7,386.4 453.2,386.8 455.7,387.2 458.2,387.6 460.7,388.0 463.2,388.4 465.7,388.9 468.2,389.3 470.7,389.7 473.2,390.2 475.7,390.6 478.2,391.0 480.7,391.5 483.2,391.9 485.7,392.3 488.2,392.8 490.7,393.2 493.2,393.6 495.7,394.1 498.2,394.5 500.7,395.0 503.2,395.4 505.7,395.9 508.2,396.4 510.7,396.9 513.2,397.4 515.7,397.9 518.2,398.4 520.7,398.9 523.2,399.5 525.7,400.0 528.2,400.6 530.7,401.1 533.2,401.7 535.7,402.3 536.0,402.4 537.0,402.7 538.0,402.9 539.0,403.2 540.0,403.5 541.0,403.7 542.0,403.9 543.0,404.1 544.0,404.3 545.0,404.5 546.0,404.7 547.0,404.9 548.0,405.1 549.0,405.4 550.0,405.6 551.0,405.9 552.0,406.2 553.0,406.5 554.0,406.9 555.0,407.4 556.0,408.1 557.0,408.9 558.0,409.9 559.0,411.3 560.0,413.3 561.0,417.1 561.2,419.5 561.0,421.8 560.0,425.1 559.0,426.9 558.0,428.1 557.0,428.9 556.0,429.4 555.0,429.8 554.0,429.9 553.0,430.0 552.0,430.0 551.0,429.9 550.0,429.7 549.0,429.5 548.0,429.4 547.0,429.2 546.0,429.0 545.0,428.7 544.0,428.5 543.0,428.2 542.0,428.0 541.0,427.7 540.0,427.5 539.0,427.4 538.0,427.2 537.0,427.0 536.0,426.7 535.7,426.7 533.2,426.1 530.7,425.6 528.2,425.0 525.7,424.5 523.2,424.1 520.7,423.6 518.2,423.1 515.7,422.6 513.2,422.0 510.7,421.5 508.2,420.9 505.7,420.3 503.2,419.7 500.7,419.1 498.2,418.5 495.7,417.8 493.2,417.1 490.7,416.4 488.2,415.7 485.7,415.0 483.2,414.3 480.7,413.6 478.2,412.9 475.7,412.1 473.2,411.4 470.7,410.7 468.2,409.9 465.7,409.2 463.2,408.4 460.7,407.6 458.2,406.8 455.7,406.0 453.2,405.2 450.7,404.3 448.2,403.5 445.7,402.6 443.2,401.8 440.7,400.9 438.2,400.0 435.7,399.1 433.2,398.2 430.7,397.2 428.2,396.2 425.7,395.1 423.2,394.0 420.7,392.9 418.2,391.6 415.7,390.2 413.2,388.5 410.7,385.5Z" fill="#1f998a"/><path d="M414.2,386.3 415.7,384.2 418.2,383.5 420.7,383.3 423.2,383.3 425.7,383.4 428.2,383.5 430.7,383.8 433.2,384.1 435.7,384.4 438.2,384.8 440.7,385.1 443.2,385.5 445.7,385.9 448.2,386.3 450.7,386.7 453.2,387.1 455.7,387.5 458.2,387.9 460.7,388.3 463.2,388.8 465.7,389.2 468.2,389.6 470.7,390.0 473.2,390.5 475.7,390.9 478.2,391.3 480.7,391.8 483.2,392.2 485.7,392.6 488.2,393.0 490.7,393.5 493.2,393.9 495.7,394.3 498.2,394.8 500.7,395.2 503.2,395.7 505.7,396.2 508.2,396.7 510.7,397.2 513.2,397.7 515.7,398.2 518.2,398.7 520.7,399.2 523.2,399.7 525.7,400.3 528.2,400.8 530.7,401.4 533.2,402.0 535.7,402.6 536.0,402.7 537.0,403.0 538.0,403.2 539.0,403.5 540.0,403.8 541.0,404.0 542.0,404.2 543.0,404.4 544.0,404.6 545.0,404.8 546.0,405.0 547.0,405.2 548.0,405.4 549.0,405.7 550.0,405.9 551.0,406.2 552.0,406.5 553.0,406.9 554.0,407.3 555.0,407.9 556.0,408.5 557.0,409.4 558.0,410.6 559.0,412.2 560.0,414.7 560.7,419.4 560.0,423.7 559.0,426.0 558.0,427.3 557.0,428.3 556.0,428.9 555.0,429.2 554.0,429.4 553.0,429.5 552.0,429.5 551.0,429.4 550.0,429.3 549.0,429.2 548.0,429.0 547.0,428.8 546.0,428.6 545.0,428.4 544.0,428.1 543.0,427.9 542.0,427.6 541.0,427.4 540.0,427.2 539.0,427.0 538.0,426.8 537.0,426.6 536.0,426.4 535.7,426.3 533.2,425.8 530.7,425.2 528.2,424.7 525.7,424.2 523.2,423.7 520.7,423.3 518.2,422.8 515.7,422.2 513.2,421.7 510.7,421.1 508.2,420.6 505.7,420.0 503.2,419.4 500.7,418.8 498.2,418.1 495.7,417.5 493.2,416.8 490.7,416.1 488.2,415.4 485.7,414.7 483.2,414.0 480.7,413.3 478.2,412.5 475.7,411.8 473.2,411.1 470.7,410.4 468.2,409.6 465.7,408.9 463.2,408.1 460.7,407.3 458.2,406.5 455.7,405.7 453.2,404.8 450.7,404.0 448.2,403.1 445.7,402.2 443.2,401.3 440.7,400.5 438.2,399.5 435.7,398.6 433.2,397.6 430.7,396.6 428.2,395.6 425.7,394.4 423.2,393.3 420.7,392.0 418.2,390.5 415.7,388.6Z" fill="#1f9e89"/><path d="M417.7,387.2 418.2,386.0 420.7,384.8 423.2,384.4 425.7,384.3 428.2,384.4 430.7,384.5 433.2,384.7 435.7,385.0 438.2,385.3 440.7,385.6 443.2,386.0 445.7,386.3 448.2,386.7 450.7,387.1 453.2,387.5 455.7,387.9 458.2,388.3 460.7,388.7 463.2,389.1 465.7,389.5 468.2,389.9 470.7,390.4 473.2,390.8 475.7,391.2 478.2,391.6 480.7,392.1 483.2,392.5 485.7,392.9 488.2,393.3 490.7,393.7 493.2,394.2 495.7,394.6 498.2,395.0 500.7,395.5 503.2,396.0 505.7,396.5 508.2,396.9 510.7,397.4 513.2,397.9 515.7,398.4 518.2,398.9 520.7,399.5 523.2,400.0 525.7,400.5 528.2,401.1 530.7,401.7 533.2,402.3 535.7,402.9 536.0,403.0 537.0,403.2 538.0,403.5 539.0,403.8 540.0,404.0 541.0,404.3 542.0,404.5 543.0,404.7 544.0,404.9 545.0,405.1 546.0,405.3 547.0,405.5 548.0,405.8 549.0,406.0 550.0,406.3 551.0,406.6 552.0,406.9 553.0,407.3 554.0,407.8 555.0,408.3 556.0,409.0 557.0,410.0 558.0,411.3 559.0,413.3 560.0,417.1 560.1,419.3 560.0,421.4 559.0,424.8 558.0,426.5 557.0,427.6 556.0,428.3 555.0,428.7 554.0,428.9 553.0,429.0 552.0,429.1 551.0,429.0 550.0,428.9 549.0,428.8 548.0,428.6 547.0,428.4 546.0,428.2 545.0,428.0 544.0,427.8 543.0,427.5 542.0,427.3 541.0,427.1 540.0,426.9 539.0,426.7 538.0,426.5 537.0,426.3 536.0,426.1 535.7,426.0 533.2,425.5 530.7,424.9 528.2,424.4 525.7,423.9 523.2,423.4 520.7,422.9 518.2,422.4 515.7,421.9 513.2,421.4 510.7,420.8 508.2,420.2 505.7,419.7 503.2,419.1 500.7,418.4 498.2,417.8 495.7,417.2 493.2,416.5 490.7,415.8 488.2,415.1 485.7,414.4 483.2,413.7 480.7,413.0 478.2,412.2 475.7,411.5 473.2,410.8 470.7,410.0 468.2,409.3 465.7,408.5 463.2,407.7 460.7,406.9 458.2,406.1 455.7,405.3 453.2,404.4 450.7,403.6 448.2,402.7 445.7,401.8 443.2,400.9 440.7,400.0 438.2,399.0 435.7,398.1 433.2,397.0 430.7,396.0 428.2,394.8 425.7,393.6 423.2,392.3 420.7,390.7 418.2,388.5Z" fill="#1fa287"/><path d="M421.3,388.2 423.2,386.1 425.7,385.6 428.2,385.4 430.7,385.4 433.2,385.5 435.7,385.6 438.2,385.9 440.7,386.1 443.2,386.5 445.7,386.8 448.2,387.1 450.7,387.5 453.2,387.9 455.7,388.3 458.2,388.6 460.7,389.0 463.2,389.4 465.7,389.9 468.2,390.3 470.7,390.7 473.2,391.1 475.7,391.5 478.2,392.0 480.7,392.4 483.2,392.8 485.7,393.2 488.2,393.6 490.7,394.0 493.2,394.5 495.7,394.9 498.2,395.3 500.7,395.8 503.2,396.3 505.7,396.7 508.2,397.2 510.7,397.7 513.2,398.2 515.7,398.7 518.2,399.2 520.7,399.7 523.2,400.3 525.7,400.8 528.2,401.4 530.7,402.0 533.2,402.6 535.7,403.2 536.0,403.3 537.0,403.5 538.0,403.8 539.0,404.0 540.0,404.3 541.0,404.6 542.0,404.8 543.0,405.0 544.0,405.2 545.0,405.4 546.0,405.6 547.0,405.9 548.0,406.1 549.0,406.4 550.0,406.7 551.0,407.0 552.0,407.3 553.0,407.7 554.0,408.2 555.0,408.8 556.0,409.6 557.0,410.6 558.0,412.2 559.0,414.7 559.6,419.2 559.0,423.4 558.0,425.6 557.0,426.8 556.0,427.6 555.0,428.1 554.0,428.4 553.0,428.5 552.0,428.6 551.0,428.5 550.0,428.5 549.0,428.3 548.0,428.2 547.0,428.0 546.0,427.9 545.0,427.6 544.0,427.4 543.0,427.2 542.0,426.9 541.0,426.7 540.0,426.5 539.0,426.4 538.0,426.2 537.0,426.0 536.0,425.7 535.7,425.7 533.2,425.1 530.7,424.6 528.2,424.1 525.7,423.5 523.2,423.1 520.7,422.6 518.2,422.1 515.7,421.6 513.2,421.0 510.7,420.5 508.2,419.9 505.7,419.3 503.2,418.7 500.7,418.1 498.2,417.5 495.7,416.9 493.2,416.2 490.7,415.5 488.2,414.8 485.7,414.1 483.2,413.4 480.7,412.6 478.2,411.9 475.7,411.2 473.2,410.5 470.7,409.7 468.2,408.9 465.7,408.2 463.2,407.4 460.7,406.6 458.2,405.7 455.7,404.9 453.2,404.0 450.7,403.2 448.2,402.3 445.7,401.4 443.2,400.4 440.7,399.5 438.2,398.5 435.7,397.4 433.2,396.4 430.7,395.2 428.2,393.9 425.7,392.5 423.2,390.8Z" fill="#22a884"/><path d="M424.9,389.2 425.7,387.7 428.2,386.8 430.7,386.4 433.2,386.4 435.7,386.4 438.2,386.6 440.7,386.8 443.2,387.0 445.7,387.3 448.2,387.6 450.7,387.9 453.2,388.3 455.7,388.6 458.2,389.0 460.7,389.4 463.2,389.8 465.7,390.2 468.2,390.6 470.7,391.0 473.2,391.4 475.7,391.9 478.2,392.3 480.7,392.7 483.2,393.1 485.7,393.5 488.2,393.9 490.7,394.3 493.2,394.7 495.7,395.2 498.2,395.6 500.7,396.1 503.2,396.5 505.7,397.0 508.2,397.5 510.7,398.0 513.2,398.5 515.7,399.0 518.2,399.5 520.7,400.0 523.2,400.6 525.7,401.1 528.2,401.7 530.7,402.2 533.2,402.8 535.7,403.5 536.0,403.5 537.0,403.8 538.0,404.1 539.0,404.3 540.0,404.6 541.0,404.9 542.0,405.1 543.0,405.3 544.0,405.5 545.0,405.7 546.0,406.0 547.0,406.2 548.0,406.5 549.0,406.8 550.0,407.1 551.0,407.4 552.0,407.7 553.0,408.2 554.0,408.7 555.0,409.3 556.0,410.2 557.0,411.4 558.0,413.3 559.0,417.1 559.1,419.1 559.0,421.0 558.0,424.4 557.0,426.0 556.0,427.0 555.0,427.5 554.0,427.8 553.0,428.0 552.0,428.1 551.0,428.1 550.0,428.0 549.0,427.9 548.0,427.8 547.0,427.6 546.0,427.5 545.0,427.3 544.0,427.1 543.0,426.8 542.0,426.6 541.0,426.4 540.0,426.2 539.0,426.0 538.0,425.8 537.0,425.6 536.0,425.4 535.7,425.4 533.2,424.8 530.7,424.3 528.2,423.7 525.7,423.2 523.2,422.8 520.7,422.3 518.2,421.8 515.7,421.3 513.2,420.7 510.7,420.2 508.2,419.6 505.7,419.0 503.2,418.4 500.7,417.8 498.2,417.2 495.7,416.5 493.2,415.9 490.7,415.2 488.2,414.5 485.7,413.8 483.2,413.0 480.7,412.3 478.2,411.6 475.7,410.9 473.2,410.1 470.7,409.3 468.2,408.6 465.7,407.8 463.2,407.0 460.7,406.2 458.2,405.4 455.7,404.5 453.2,403.6 450.7,402.7 448.2,401.8 445.7,400.9 443.2,399.9 440.7,398.9 438.2,397.8 435.7,396.7 433.2,395.6 430.7,394.3 428.2,392.8 425.7,390.7Z" fill="#26ad81"/><path d="M428.6,390.2 430.7,388.0 433.2,387.5 435.7,387.4 438.2,387.4 440.7,387.5 443.2,387.7 445.7,387.9 448.2,388.1 450.7,388.4 453.2,388.7 455.7,389.1 458.2,389.4 460.7,389.8 463.2,390.2 465.7,390.6 468.2,391.0 470.7,391.4 473.2,391.8 475.7,392.2 478.2,392.6 480.7,393.0 483.2,393.4 485.7,393.8 488.2,394.2 490.7,394.6 493.2,395.1 495.7,395.5 498.2,395.9 500.7,396.4 503.2,396.8 505.7,397.3 508.2,397.8 510.7,398.3 513.2,398.8 515.7,399.3 518.2,399.8 520.7,400.3 523.2,400.8 525.7,401.4 528.2,401.9 530.7,402.5 533.2,403.1 535.7,403.8 536.0,403.8 537.0,404.1 538.0,404.4 539.0,404.6 540.0,404.9 541.0,405.2 542.0,405.4 543.0,405.7 544.0,405.9 545.0,406.1 546.0,406.3 547.0,406.6 548.0,406.8 549.0,407.1 550.0,407.4 551.0,407.8 552.0,408.2 553.0,408.6 554.0,409.2 555.0,409.9 556.0,410.9 557.0,412.3 558.0,414.7 558.6,419.0 558.0,422.9 557.0,425.0 556.0,426.2 555.0,426.9 554.0,427.2 553.0,427.5 552.0,427.6 551.0,427.6 550.0,427.5 549.0,427.4 548.0,427.3 547.0,427.2 546.0,427.1 545.0,426.9 544.0,426.7 543.0,426.5 542.0,426.3 541.0,426.0 540.0,425.9 539.0,425.7 538.0,425.5 537.0,425.3 536.0,425.1 535.7,425.0 533.2,424.5 530.7,424.0 528.2,423.4 525.7,422.9 523.2,422.5 520.7,422.0 518.2,421.5 515.7,421.0 513.2,420.4 510.7,419.9 508.2,419.3 505.7,418.7 503.2,418.1 500.7,417.5 498.2,416.9 495.7,416.2 493.2,415.6 490.7,414.9 488.2,414.2 485.7,413.4 483.2,412.7 480.7,412.0 478.2,411.2 475.7,410.5 473.2,409.7 470.7,409.0 468.2,408.2 465.7,407.4 463.2,406.6 460.7,405.8 458.2,405.0 455.7,404.1 453.2,403.2 450.7,402.3 448.2,401.3 445.7,400.3 443.2,399.3 440.7,398.2 438.2,397.1 435.7,395.9 433.2,394.5 430.7,392.9Z" fill="#2cb17e"/><path d="M432.2,391.1 433.2,389.5 435.7,388.7 438.2,388.4 440.7,388.4 443.2,388.4 445.7,388.5 448.2,388.7 450.7,388.9 453.2,389.2 455.7,389.5 458.2,389.8 460.7,390.2 463.2,390.6 465.7,391.0 468.2,391.3 470.7,391.7 473.2,392.2 475.7,392.6 478.2,393.0 480.7,393.4 483.2,393.8 485.7,394.2 488.2,394.6 490.7,395.0 493.2,395.4 495.7,395.8 498.2,396.2 500.7,396.7 503.2,397.1 505.7,397.6 508.2,398.1 510.7,398.6 513.2,399.1 515.7,399.6 518.2,400.1 520.7,400.6 523.2,401.1 525.7,401.7 528.2,402.2 530.7,402.8 533.2,403.4 535.7,404.1 536.0,404.1 537.0,404.4 538.0,404.7 539.0,405.0 540.0,405.2 541.0,405.5 542.0,405.8 543.0,406.0 544.0,406.2 545.0,406.4 546.0,406.7 547.0,406.9 548.0,407.2 549.0,407.5 550.0,407.8 551.0,408.2 552.0,408.6 553.0,409.1 554.0,409.7 555.0,410.5 556.0,411.7 557.0,413.5 558.0,417.5 558.1,418.9 558.0,420.3 557.0,423.8 556.0,425.3 555.0,426.1 554.0,426.6 553.0,426.9 552.0,427.0 551.0,427.1 550.0,427.1 549.0,427.0 548.0,426.9 547.0,426.8 546.0,426.7 545.0,426.5 544.0,426.3 543.0,426.1 542.0,425.9 541.0,425.7 540.0,425.5 539.0,425.3 538.0,425.2 537.0,425.0 536.0,424.8 535.7,424.7 533.2,424.2 530.7,423.6 528.2,423.1 525.7,422.6 523.2,422.2 520.7,421.7 518.2,421.2 515.7,420.7 513.2,420.1 510.7,419.6 508.2,419.0 505.7,418.4 503.2,417.8 500.7,417.2 498.2,416.6 495.7,415.9 493.2,415.2 490.7,414.5 488.2,413.8 485.7,413.1 483.2,412.4 480.7,411.6 478.2,410.9 475.7,410.1 473.2,409.4 470.7,408.6 468.2,407.8 465.7,407.0 463.2,406.2 460.7,405.4 458.2,404.5 455.7,403.6 453.2,402.7 450.7,401.8 448.2,400.8 445.7,399.7 443.2,398.6 440.7,397.5 438.2,396.2 435.7,394.8 433.2,392.9Z" fill="#34b679"/><path d="M435.8,392.1 438.2,389.9 440.7,389.5 443.2,389.3 445.7,389.3 448.2,389.4 450.7,389.5 453.2,389.7 455.7,390.0 458.2,390.3 460.7,390.6 463.2,391.0 465.7,391.3 468.2,391.7 470.7,392.1 473.2,392.5 475.7,392.9 478.2,393.3 480.7,393.7 483.2,394.1 485.7,394.5 488.2,394.9 490.7,395.3 493.2,395.7 495.7,396.1 498.2,396.5 500.7,397.0 503.2,397.4 505.7,397.9 508.2,398.4 510.7,398.9 513.2,399.4 515.7,399.9 518.2,400.4 520.7,400.9 523.2,401.4 525.7,402.0 528.2,402.5 530.7,403.1 533.2,403.8 535.7,404.4 536.0,404.5 537.0,404.7 538.0,405.0 539.0,405.3 540.0,405.6 541.0,405.8 542.0,406.1 543.0,406.3 544.0,406.6 545.0,406.8 546.0,407.0 547.0,407.3 548.0,407.6 549.0,407.9 550.0,408.3 551.0,408.6 552.0,409.1 553.0,409.7 554.0,410.4 555.0,411.3 556.0,412.7 557.0,415.0 557.5,418.8 557.0,422.2 556.0,424.3 555.0,425.3 554.0,425.9 553.0,426.3 552.0,426.5 551.0,426.6 550.0,426.6 549.0,426.5 548.0,426.4 547.0,426.3 546.0,426.2 545.0,426.1 544.0,425.9 543.0,425.7 542.0,425.5 541.0,425.3 540.0,425.2 539.0,425.0 538.0,424.8 537.0,424.6 536.0,424.4 535.7,424.4 533.2,423.9 530.7,423.3 528.2,422.8 525.7,422.3 523.2,421.8 520.7,421.4 518.2,420.9 515.7,420.3 513.2,419.8 510.7,419.2 508.2,418.7 505.7,418.1 503.2,417.5 500.7,416.9 498.2,416.3 495.7,415.6 493.2,414.9 490.7,414.2 488.2,413.5 485.7,412.8 483.2,412.0 480.7,411.3 478.2,410.5 475.7,409.8 473.2,409.0 470.7,408.2 468.2,407.4 465.7,406.6 463.2,405.8 460.7,405.0 458.2,404.1 455.7,403.2 453.2,402.2 450.7,401.2 448.2,400.1 445.7,399.0 443.2,397.8 440.7,396.5 438.2,394.9Z" fill="#3bbb75"/><path d="M439.4,393.0 440.7,391.3 443.2,390.6 445.7,390.3 448.2,390.2 450.7,390.3 453.2,390.4 455.7,390.6 458.2,390.8 460.7,391.1 463.2,391.4 465.7,391.8 468.2,392.1 470.7,392.5 473.2,392.9 475.7,393.3 478.2,393.7 480.7,394.1 483.2,394.5 485.7,394.9 488.2,395.2 490.7,395.6 493.2,396.0 495.7,396.4 498.2,396.9 500.7,397.3 503.2,397.8 505.7,398.2 508.2,398.7 510.7,399.2 513.2,399.7 515.7,400.2 518.2,400.7 520.7,401.2 523.2,401.8 525.7,402.3 528.2,402.9 530.7,403.4 533.2,404.1 535.7,404.7 536.0,404.8 537.0,405.1 538.0,405.3 539.0,405.6 540.0,405.9 541.0,406.2 542.0,406.4 543.0,406.7 544.0,406.9 545.0,407.2 546.0,407.4 547.0,407.7 548.0,408.0 549.0,408.4 550.0,408.7 551.0,409.1 552.0,409.6 553.0,410.3 554.0,411.1 555.0,412.2 556.0,413.9 556.9,418.7 556.0,423.0 555.0,424.3 554.0,425.1 553.0,425.6 552.0,425.9 551.0,426.0 550.0,426.0 549.0,426.0 548.0,426.0 547.0,425.9 546.0,425.8 545.0,425.6 544.0,425.5 543.0,425.3 542.0,425.1 541.0,424.9 540.0,424.8 539.0,424.6 538.0,424.5 537.0,424.3 536.0,424.1 535.7,424.0 533.2,423.5 530.7,423.0 528.2,422.5 525.7,422.0 523.2,421.5 520.7,421.1 518.2,420.6 515.7,420.0 513.2,419.5 510.7,418.9 508.2,418.4 505.7,417.8 503.2,417.2 500.7,416.6 498.2,415.9 495.7,415.3 493.2,414.6 490.7,413.9 488.2,413.1 485.7,412.4 483.2,411.6 480.7,410.9 478.2,410.1 475.7,409.4 473.2,408.6 470.7,407.8 468.2,407.0 465.7,406.2 463.2,405.4 460.7,404.5 458.2,403.6 455.7,402.6 453.2,401.6 450.7,400.5 448.2,399.4 445.7,398.2 443.2,396.8 440.7,395.0Z" fill="#44bf70"/><path d="M443.0,393.9 443.2,393.2 445.7,391.7 448.2,391.3 450.7,391.1 453.2,391.2 455.7,391.3 458.2,391.4 460.7,391.7 463.2,391.9 465.7,392.2 468.2,392.6 470.7,392.9 473.2,393.3 475.7,393.7 478.2,394.1 480.7,394.5 483.2,394.8 485.7,395.2 488.2,395.6 490.7,396.0 493.2,396.4 495.7,396.8 498.2,397.2 500.7,397.6 503.2,398.1 505.7,398.5 508.2,399.0 510.7,399.5 513.2,400.0 515.7,400.5 518.2,401.0 520.7,401.5 523.2,402.1 525.7,402.6 528.2,403.2 530.7,403.8 533.2,404.4 535.7,405.0 536.0,405.1 537.0,405.4 538.0,405.7 539.0,406.0 540.0,406.3 541.0,406.5 542.0,406.8 543.0,407.0 544.0,407.3 545.0,407.5 546.0,407.8 547.0,408.1 548.0,408.4 549.0,408.8 550.0,409.2 551.0,409.7 552.0,410.3 553.0,411.0 554.0,412.0 555.0,413.3 556.0,415.9 556.3,418.6 556.0,421.1 555.0,423.2 554.0,424.2 553.0,424.8 552.0,425.2 551.0,425.4 550.0,425.5 549.0,425.5 548.0,425.5 547.0,425.4 546.0,425.3 545.0,425.2 544.0,425.1 543.0,424.9 542.0,424.7 541.0,424.5 540.0,424.4 539.0,424.2 538.0,424.1 537.0,423.9 536.0,423.7 535.7,423.7 533.2,423.2 530.7,422.7 528.2,422.2 525.7,421.7 523.2,421.2 520.7,420.7 518.2,420.2 515.7,419.7 513.2,419.2 510.7,418.6 508.2,418.0 505.7,417.5 503.2,416.8 500.7,416.2 498.2,415.6 495.7,414.9 493.2,414.2 490.7,413.5 488.2,412.8 485.7,412.0 483.2,411.3 480.7,410.5 478.2,409.7 475.7,409.0 473.2,408.2 470.7,407.4 468.2,406.6 465.7,405.7 463.2,404.9 460.7,404.0 458.2,403.0 455.7,402.0 453.2,400.9 450.7,399.8 448.2,398.5 445.7,397.0 443.2,394.6Z" fill="#50c46a"/><path d="M446.5,394.8 448.2,392.9 450.7,392.3 453.2,392.1 455.7,392.1 458.2,392.1 460.7,392.3 463.2,392.5 465.7,392.8 468.2,393.1 470.7,393.4 473.2,393.7 475.7,394.1 478.2,394.5 480.7,394.8 483.2,395.2 485.7,395.6 488.2,396.0 490.7,396.3 493.2,396.7 495.7,397.1 498.2,397.5 500.7,398.0 503.2,398.4 505.7,398.9 508.2,399.4 510.7,399.8 513.2,400.3 515.7,400.8 518.2,401.3 520.7,401.9 523.2,402.4 525.7,403.0 528.2,403.5 530.7,404.1 533.2,404.7 535.7,405.4 536.0,405.5 537.0,405.7 538.0,406.0 539.0,406.3 540.0,406.6 541.0,406.9 542.0,407.2 543.0,407.4 544.0,407.7 545.0,407.9 546.0,408.2 547.0,408.5 548.0,408.9 549.0,409.3 550.0,409.8 551.0,410.3 552.0,411.0 553.0,411.8 554.0,413.0 555.0,414.9 555.6,418.5 555.0,421.6 554.0,423.1 553.0,423.9 552.0,424.4 551.0,424.7 550.0,424.9 549.0,424.9 548.0,425.0 547.0,424.9 546.0,424.9 545.0,424.8 544.0,424.6 543.0,424.5 542.0,424.3 541.0,424.1 540.0,424.0 539.0,423.8 538.0,423.7 537.0,423.5 536.0,423.3 535.7,423.3 533.2,422.8 530.7,422.3 528.2,421.8 525.7,421.3 523.2,420.9 520.7,420.4 518.2,419.9 515.7,419.4 513.2,418.8 510.7,418.3 508.2,417.7 505.7,417.1 503.2,416.5 500.7,415.9 498.2,415.2 495.7,414.6 493.2,413.9 490.7,413.1 488.2,412.4 485.7,411.6 483.2,410.9 480.7,410.1 478.2,409.3 475.7,408.6 473.2,407.8 470.7,406.9 468.2,406.1 465.7,405.2 463.2,404.3 460.7,403.4 458.2,402.4 455.7,401.3 453.2,400.1 450.7,398.8 448.2,397.1Z" fill="#5ac864"/><path d="M450.0,395.7 450.7,394.4 453.2,393.4 455.7,393.1 458.2,393.0 460.7,393.1 463.2,393.2 465.7,393.4 468.2,393.7 470.7,393.9 473.2,394.2 475.7,394.6 478.2,394.9 480.7,395.3 483.2,395.6 485.7,396.0 488.2,396.3 490.7,396.7 493.2,397.1 495.7,397.5 498.2,397.9 500.7,398.3 503.2,398.8 505.7,399.2 508.2,399.7 510.7,400.2 513.2,400.7 515.7,401.2 518.2,401.7 520.7,402.2 523.2,402.7 525.7,403.3 528.2,403.9 530.7,404.5 533.2,405.1 535.7,405.8 536.0,405.8 537.0,406.1 538.0,406.4 539.0,406.7 540.0,407.0 541.0,407.3 542.0,407.5 543.0,407.8 544.0,408.1 545.0,408.4 546.0,408.7 547.0,409.0 548.0,409.4 549.0,409.9 550.0,410.4 551.0,411.0 552.0,411.8 553.0,412.9 554.0,414.5 554.8,418.3 554.0,421.6 553.0,422.8 552.0,423.5 551.0,423.9 550.0,424.2 549.0,424.3 548.0,424.4 547.0,424.4 546.0,424.4 545.0,424.3 544.0,424.2 543.0,424.0 542.0,423.9 541.0,423.7 540.0,423.6 539.0,423.4 538.0,423.3 537.0,423.1 536.0,422.9 535.7,422.9 533.2,422.4 530.7,421.9 528.2,421.5 525.7,421.0 523.2,420.5 520.7,420.0 518.2,419.5 515.7,419.0 513.2,418.5 510.7,417.9 508.2,417.3 505.7,416.7 503.2,416.1 500.7,415.5 498.2,414.9 495.7,414.2 493.2,413.5 490.7,412.8 488.2,412.0 485.7,411.2 483.2,410.5 480.7,409.7 478.2,408.9 475.7,408.1 473.2,407.3 470.7,406.4 468.2,405.6 465.7,404.6 463.2,403.7 460.7,402.7 458.2,401.6 455.7,400.4 453.2,399.0 450.7,397.1Z" fill="#65cb5e"/><path d="M453.6,396.6 455.7,394.6 458.2,394.1 460.7,394.0 463.2,394.0 465.7,394.1 468.2,394.3 470.7,394.5 473.2,394.8 475.7,395.1 478.2,395.4 480.7,395.7 483.2,396.0 485.7,396.4 488.2,396.7 490.7,397.1 493.2,397.5 495.7,397.8 498.2,398.3 500.7,398.7 503.2,399.1 505.7,399.6 508.2,400.1 510.7,400.5 513.2,401.0 515.7,401.5 518.2,402.0 520.7,402.6 523.2,403.1 525.7,403.7 528.2,404.2 530.7,404.8 533.2,405.5 535.7,406.1 536.0,406.2 537.0,406.5 538.0,406.8 539.0,407.1 540.0,407.4 541.0,407.7 542.0,407.9 543.0,408.2 544.0,408.5 545.0,408.8 546.0,409.2 547.0,409.6 548.0,410.0 549.0,410.5 550.0,411.1 551.0,411.9 552.0,412.9 553.0,414.3 553.9,418.1 553.0,421.4 552.0,422.4 551.0,423.0 550.0,423.4 549.0,423.6 548.0,423.7 547.0,423.8 546.0,423.8 545.0,423.8 544.0,423.7 543.0,423.5 542.0,423.4 541.0,423.3 540.0,423.1 539.0,423.0 538.0,422.9 537.0,422.7 536.0,422.5 535.7,422.5 533.2,422.0 530.7,421.6 528.2,421.1 525.7,420.6 523.2,420.1 520.7,419.7 518.2,419.2 515.7,418.6 513.2,418.1 510.7,417.5 508.2,417.0 505.7,416.4 503.2,415.8 500.7,415.1 498.2,414.5 495.7,413.8 493.2,413.1 490.7,412.4 488.2,411.6 485.7,410.8 483.2,410.0 480.7,409.2 478.2,408.4 475.7,407.6 473.2,406.7 470.7,405.9 468.2,404.9 465.7,404.0 463.2,403.0 460.7,401.9 458.2,400.6 455.7,399.1Z" fill="#73d056"/><path d="M457.3,397.5 458.2,396.1 460.7,395.3 463.2,395.1 465.7,395.1 468.2,395.1 470.7,395.3 473.2,395.5 475.7,395.7 478.2,396.0 480.7,396.2 483.2,396.5 485.7,396.8 488.2,397.2 490.7,397.5 493.2,397.9 495.7,398.2 498.2,398.6 500.7,399.1 503.2,399.5 505.7,400.0 508.2,400.4 510.7,400.9 513.2,401.4 515.7,401.9 518.2,402.4 520.7,402.9 523.2,403.5 525.7,404.0 528.2,404.6 530.7,405.2 533.2,405.8 535.7,406.5 536.0,406.6 537.0,406.9 538.0,407.2 539.0,407.5 540.0,407.8 541.0,408.1 542.0,408.4 543.0,408.7 544.0,409.0 545.0,409.3 546.0,409.7 547.0,410.2 548.0,410.7 549.0,411.3 550.0,412.0 551.0,413.0 552.0,414.3 553.0,418.0 552.0,421.0 551.0,421.9 550.0,422.5 549.0,422.8 548.0,423.0 547.0,423.2 546.0,423.2 545.0,423.2 544.0,423.1 543.0,423.0 542.0,422.9 541.0,422.8 540.0,422.7 539.0,422.6 538.0,422.4 537.0,422.3 536.0,422.1 535.7,422.1 533.2,421.6 530.7,421.2 528.2,420.7 525.7,420.2 523.2,419.8 520.7,419.3 518.2,418.8 515.7,418.3 513.2,417.7 510.7,417.2 508.2,416.6 505.7,416.0 503.2,415.4 500.7,414.7 498.2,414.1 495.7,413.4 493.2,412.7 490.7,411.9 488.2,411.2 485.7,410.4 483.2,409.6 480.7,408.7 478.2,407.9 475.7,407.0 473.2,406.1 470.7,405.2 468.2,404.2 465.7,403.2 463.2,402.0 460.7,400.7 458.2,399.0Z" fill="#7fd34e"/><path d="M461.3,398.5 463.2,396.7 465.7,396.3 468.2,396.1 470.7,396.2 473.2,396.3 475.7,396.4 478.2,396.6 480.7,396.9 483.2,397.1 485.7,397.4 488.2,397.6 490.7,398.0 493.2,398.3 495.7,398.6 498.2,399.0 500.7,399.5 503.2,399.9 505.7,400.3 508.2,400.8 510.7,401.3 513.2,401.8 515.7,402.3 518.2,402.8 520.7,403.3 523.2,403.8 525.7,404.4 528.2,405.0 530.7,405.6 533.2,406.2 535.7,406.9 536.0,407.0 537.0,407.3 538.0,407.6 539.0,407.9 540.0,408.2 541.0,408.6 542.0,408.9 543.0,409.2 544.0,409.6 545.0,409.9 546.0,410.4 547.0,410.9 548.0,411.5 549.0,412.3 550.0,413.2 551.0,414.5 551.9,417.8 551.0,420.4 550.0,421.3 549.0,421.8 548.0,422.2 547.0,422.4 546.0,422.5 545.0,422.6 544.0,422.6 543.0,422.5 542.0,422.4 541.0,422.3 540.0,422.2 539.0,422.1 538.0,422.0 537.0,421.8 536.0,421.7 535.7,421.6 533.2,421.2 530.7,420.8 528.2,420.3 525.7,419.8 523.2,419.4 520.7,418.9 518.2,418.4 515.7,417.9 513.2,417.3 510.7,416.8 508.2,416.2 505.7,415.6 503.2,415.0 500.7,414.3 498.2,413.7 495.7,413.0 493.2,412.3 490.7,411.5 488.2,410.7 485.7,409.9 483.2,409.0 480.7,408.2 478.2,407.3 475.7,406.4 473.2,405.4 470.7,404.4 468.2,403.3 465.7,402.1 463.2,400.7Z" fill="#8bd646"/><path d="M465.7,399.5 465.7,399.2 468.2,397.7 470.7,397.3 473.2,397.3 475.7,397.3 478.2,397.4 480.7,397.6 483.2,397.8 485.7,398.0 488.2,398.2 490.7,398.5 493.2,398.8 495.7,399.1 498.2,399.5 500.7,399.9 503.2,400.3 505.7,400.8 508.2,401.2 510.7,401.7 513.2,402.2 515.7,402.7 518.2,403.2 520.7,403.7 523.2,404.2 525.7,404.8 528.2,405.4 530.7,406.0 533.2,406.7 535.7,407.4 536.0,407.5 537.0,407.8 538.0,408.1 539.0,408.4 540.0,408.8 541.0,409.1 542.0,409.5 543.0,409.8 544.0,410.2 545.0,410.7 546.0,411.2 547.0,411.8 548.0,412.5 549.0,413.5 550.0,415.0 550.6,417.5 550.0,419.6 549.0,420.6 548.0,421.2 547.0,421.5 546.0,421.7 545.0,421.8 544.0,421.9 543.0,421.9 542.0,421.8 541.0,421.7 540.0,421.7 539.0,421.6 538.0,421.5 537.0,421.4 536.0,421.2 535.7,421.2 533.2,420.8 530.7,420.3 528.2,419.9 525.7,419.4 523.2,419.0 520.7,418.5 518.2,418.0 515.7,417.5 513.2,416.9 510.7,416.4 508.2,415.8 505.7,415.2 503.2,414.6 500.7,413.9 498.2,413.3 495.7,412.5 493.2,411.8 490.7,411.0 488.2,410.2 485.7,409.3 483.2,408.4 480.7,407.5 478.2,406.6 475.7,405.6 473.2,404.6 470.7,403.4 468.2,402.1 465.7,399.7Z" fill="#9bd93c"/><path d="M470.3,400.6 470.7,399.7 473.2,398.7 475.7,398.5 478.2,398.4 480.7,398.4 483.2,398.5 485.7,398.7 488.2,398.9 490.7,399.1 493.2,399.3 495.7,399.6 498.2,400.0 500.7,400.4 503.2,400.8 505.7,401.2 508.2,401.6 510.7,402.1 513.2,402.6 515.7,403.1 518.2,403.6 520.7,404.1 523.2,404.7 525.7,405.2 528.2,405.8 530.7,406.5 533.2,407.1 535.7,407.9 536.0,408.0 537.0,408.3 538.0,408.6 539.0,409.0 540.0,409.4 541.0,409.7 542.0,410.1 543.0,410.5 544.0,411.0 545.0,411.5 546.0,412.1 547.0,412.9 548.0,414.0 549.0,415.9 549.2,417.2 549.0,418.4 548.0,419.8 547.0,420.4 546.0,420.8 545.0,421.0 544.0,421.1 543.0,421.1 542.0,421.1 541.0,421.1 540.0,421.1 539.0,421.0 538.0,420.9 537.0,420.8 536.0,420.7 535.7,420.7 533.2,420.3 530.7,419.9 528.2,419.5 525.7,419.0 523.2,418.5 520.7,418.1 518.2,417.6 515.7,417.1 513.2,416.5 510.7,415.9 508.2,415.4 505.7,414.8 503.2,414.1 500.7,413.5 498.2,412.8 495.7,412.0 493.2,411.3 490.7,410.4 488.2,409.6 485.7,408.7 483.2,407.7 480.7,406.8 478.2,405.7 475.7,404.6 473.2,403.3 470.7,401.5Z" fill="#a8db34"/><path d="M475.1,401.7 475.7,400.6 478.2,399.8 480.7,399.6 483.2,399.5 485.7,399.5 488.2,399.6 490.7,399.8 493.2,400.0 495.7,400.2 498.2,400.6 500.7,400.9 503.2,401.3 505.7,401.7 508.2,402.1 510.7,402.6 513.2,403.1 515.7,403.6 518.2,404.1 520.7,404.6 523.2,405.2 525.7,405.7 528.2,406.3 530.7,407.0 533.2,407.7 535.7,408.5 536.0,408.6 537.0,408.9 538.0,409.3 539.0,409.7 540.0,410.1 541.0,410.5 542.0,410.9 543.0,411.4 544.0,411.9 545.0,412.6 546.0,413.5 547.0,414.8 547.6,416.9 547.0,418.6 546.0,419.5 545.0,419.9 544.0,420.2 543.0,420.3 542.0,420.4 541.0,420.4 540.0,420.4 539.0,420.3 538.0,420.3 537.0,420.2 536.0,420.1 535.7,420.1 533.2,419.8 530.7,419.4 528.2,419.0 525.7,418.5 523.2,418.1 520.7,417.6 518.2,417.1 515.7,416.6 513.2,416.0 510.7,415.5 508.2,414.9 505.7,414.3 503.2,413.6 500.7,412.9 498.2,412.2 495.7,411.5 493.2,410.7 490.7,409.8 488.2,408.9 485.7,407.9 483.2,406.9 480.7,405.8 478.2,404.5 475.7,402.8Z" fill="#b5de2b"/><path d="M480.0,402.8 480.7,401.8 483.2,400.9 485.7,400.7 488.2,400.6 490.7,400.6 493.2,400.7 495.7,400.9 498.2,401.2 500.7,401.6 503.2,401.9 505.7,402.3 508.2,402.7 510.7,403.2 513.2,403.6 515.7,404.1 518.2,404.6 520.7,405.1 523.2,405.7 525.7,406.3 528.2,406.9 530.7,407.6 533.2,408.4 535.7,409.2 536.0,409.3 537.0,409.6 538.0,410.0 539.0,410.5 540.0,410.9 541.0,411.4 542.0,411.9 543.0,412.5 544.0,413.3 545.0,414.4 545.8,416.6 545.0,418.3 544.0,418.9 543.0,419.2 542.0,419.4 541.0,419.5 540.0,419.5 539.0,419.6 538.0,419.6 537.0,419.5 536.0,419.4 535.7,419.4 533.2,419.1 530.7,418.8 528.2,418.4 525.7,418.0 523.2,417.6 520.7,417.1 518.2,416.6 515.7,416.1 513.2,415.5 510.7,414.9 508.2,414.3 505.7,413.7 503.2,413.0 500.7,412.4 498.2,411.6 495.7,410.8 493.2,410.0 490.7,409.1 488.2,408.0 485.7,406.9 483.2,405.7 480.7,404.0Z" fill="#c5e021"/><path d="M484.8,403.9 485.7,402.7 488.2,402.0 490.7,401.7 493.2,401.7 495.7,401.8 498.2,402.0 500.7,402.3 503.2,402.6 505.7,403.0 508.2,403.4 510.7,403.8 513.2,404.3 515.7,404.7 518.2,405.2 520.7,405.8 523.2,406.4 525.7,407.0 528.2,407.6 530.7,408.3 533.2,409.1 535.7,410.0 536.0,410.1 537.0,410.5 538.0,411.0 539.0,411.5 540.0,412.0 541.0,412.7 542.0,413.5 543.0,414.6 543.5,416.2 543.0,417.4 542.0,418.0 541.0,418.3 540.0,418.5 539.0,418.6 538.0,418.7 537.0,418.7 536.0,418.6 535.7,418.6 533.2,418.4 530.7,418.1 528.2,417.8 525.7,417.4 523.2,417.0 520.7,416.5 518.2,416.0 515.7,415.5 513.2,414.9 510.7,414.3 508.2,413.7 505.7,413.1 503.2,412.4 500.7,411.7 498.2,410.9 495.7,410.1 493.2,409.1 490.7,408.1 488.2,406.9 485.7,405.3Z" fill="#d2e21b"/><path d="M489.6,405.0 490.7,403.7 493.2,403.1 495.7,403.0 498.2,403.0 500.7,403.2 503.2,403.5 505.7,403.8 508.2,404.2 510.7,404.6 513.2,405.0 515.7,405.5 518.2,406.0 520.7,406.5 523.2,407.1 525.7,407.8 528.2,408.4 530.7,409.2 533.2,410.1 535.7,411.1 536.0,411.3 537.0,411.8 538.0,412.4 539.0,413.1 540.0,414.1 540.6,415.6 540.0,416.7 539.0,417.2 538.0,417.4 537.0,417.5 536.0,417.6 535.7,417.6 533.2,417.5 530.7,417.4 528.2,417.1 525.7,416.7 523.2,416.3 520.7,415.8 518.2,415.3 515.7,414.8 513.2,414.2 510.7,413.6 508.2,413.0 505.7,412.3 503.2,411.6 500.7,410.8 498.2,410.0 495.7,409.1 493.2,408.0 490.7,406.5Z" fill="#dfe318"/><path d="M495.0,406.2 495.7,405.2 498.2,404.6 500.7,404.6 503.2,404.7 505.7,404.9 508.2,405.2 510.7,405.6 513.2,406.0 515.7,406.4 518.2,406.9 520.7,407.5 523.2,408.1 525.7,408.8 528.2,409.5 530.7,410.4 533.2,411.5 535.7,413.1 536.0,413.3 536.8,414.8 536.0,415.8 535.7,415.9 533.2,416.3 530.7,416.3 528.2,416.1 525.7,415.8 523.2,415.4 520.7,415.0 518.2,414.5 515.7,414.0 513.2,413.4 510.7,412.8 508.2,412.1 505.7,411.4 503.2,410.6 500.7,409.7 498.2,408.7 495.7,407.3Z" fill="#efe51c"/><path d="M502.7,407.8 503.2,407.2 505.7,406.8 508.2,406.8 510.7,407.1 513.2,407.4 515.7,407.8 518.2,408.3 520.7,408.8 523.2,409.5 525.7,410.3 528.2,411.2 530.7,412.8 531.1,413.7 530.7,414.3 528.2,414.7 525.7,414.5 523.2,414.2 520.7,413.9 518.2,413.4 515.7,412.8 513.2,412.2 510.7,411.5 508.2,410.8 505.7,409.9 503.2,408.6Z" fill="#f8e621"/></g></g>
<g fill="none" stroke="#000" stroke-width="2.2" stroke-linecap="square">
<rect x="133.2" y="1.1" width="525.75" height="138.9"/>
<rect x="133.2" y="140.0" width="525.75" height="463.85"/>
<rect x="813.6" y="140.0" width="185.29999999999995" height="463.85"/>
</g>
<path d="M133.2,119.9h-9.4M133.2,51.7h-9.4M133.2,140.0h-9.4M813.6,140.0h-9.4M133.2,232.8h-9.4M813.6,232.8h-9.4M133.2,325.5h-9.4M813.6,325.5h-9.4M133.2,418.3h-9.4M813.6,418.3h-9.4M133.2,511.1h-9.4M813.6,511.1h-9.4M133.2,603.8h-9.4M813.6,603.8h-9.4M292.9,603.85v9.4M292.9,140.0v9.4M459.3,603.85v9.4M459.3,140.0v9.4M625.8,603.85v9.4M625.8,140.0v9.4M845.4,603.85v9.4M974.5,603.85v9.4M694.5,164.3h9.4M694.5,216.3h9.4M694.5,268.3h9.4M694.5,320.3h9.4M694.5,372.3h9.4M694.5,424.3h9.4M694.5,476.3h9.4M694.5,528.3h9.4M694.5,580.3h9.4" stroke="#000" stroke-width="2.2" fill="none"/>
<defs><linearGradient id="vg" x1="0" y1="0" x2="0" y2="1"><stop offset="0.0000" stop-color="#fde725"/><stop offset="0.0625" stop-color="#d8e219"/><stop offset="0.1250" stop-color="#addc30"/><stop offset="0.1875" stop-color="#84d44b"/><stop offset="0.2500" stop-color="#5ec962"/><stop offset="0.3125" stop-color="#3fbc73"/><stop offset="0.3750" stop-color="#28ae80"/><stop offset="0.4375" stop-color="#1fa088"/><stop offset="0.5000" stop-color="#21918c"/><stop offset="0.5625" stop-color="#26828e"/><stop offset="0.6250" stop-color="#2c728e"/><stop offset="0.6875" stop-color="#33638d"/><stop offset="0.7500" stop-color="#3b528b"/><stop offset="0.8125" stop-color="#424086"/><stop offset="0.8750" stop-color="#472d7b"/><stop offset="0.9375" stop-color="#48186a"/><stop offset="1.0000" stop-color="#440154"/></linearGradient></defs>
<rect x="673.75" y="163.70000000000002" width="20.75" height="416.60" fill="url(#vg)" stroke="#000" stroke-width="2.7"/>
<clipPath id="cr"><rect x="813.6" y="140.0" width="185.29999999999995" height="463.85"/></clipPath>
<path clip-path="url(#cr)" d="M845.9,140.0 L845.9,160.0 L845.9,180.0 L845.9,200.0 L845.9,220.0 L845.9,240.0 L845.9,260.0 L845.9,280.0 L845.9,300.0 L845.9,320.0 L846.1,340.0 L846.1,341.0 L846.1,342.0 L846.1,343.0 L846.2,344.0 L846.2,345.0 L846.2,346.0 L846.3,347.0 L846.3,348.0 L846.4,349.0 L846.4,350.0 L846.4,351.0 L846.5,352.0 L846.6,353.0 L846.6,354.0 L846.7,355.0 L846.8,356.0 L846.9,357.0 L847.0,358.0 L847.1,359.0 L847.3,360.0 L847.4,361.0 L847.6,362.0 L847.7,363.0 L848.0,364.0 L848.2,365.0 L848.6,366.0 L849.0,367.0 L849.5,368.0 L850.0,369.0 L850.5,370.0 L851.1,371.0 L851.7,372.0 L852.4,373.0 L853.2,374.0 L854.1,375.0 L855.2,376.0 L856.3,377.0 L857.5,378.0 L858.8,379.0 L860.2,380.0 L861.7,381.0 L863.4,382.0 L865.3,383.0 L867.3,384.0 L869.6,385.0 L872.0,386.0 L874.7,387.0 L877.8,388.0 L881.1,389.0 L884.8,390.0 L888.8,391.0 L893.4,392.0 L898.6,393.0 L904.0,394.0 L909.7,395.0 L915.7,396.0 L917.3,396.2 L918.8,396.5 L920.3,396.8 L921.8,397.0 L923.3,397.2 L924.8,397.5 L926.3,397.8 L927.8,398.0 L929.3,398.2 L930.9,398.5 L932.4,398.8 L934.0,399.0 L935.7,399.2 L937.4,399.5 L939.1,399.8 L940.9,400.0 L942.8,400.2 L944.7,400.5 L946.5,400.8 L948.4,401.0 L950.2,401.2 L952.0,401.5 L953.7,401.8 L955.4,402.0 L957.1,402.2 L958.7,402.5 L960.3,402.8 L962.0,403.0 L963.6,403.2 L965.3,403.5 L967.0,403.8 L968.7,404.0 L970.5,404.2 L972.3,404.5 L974.2,404.8 L976.0,405.0 L977.8,405.2 L979.5,405.5 L981.1,405.8 L982.7,406.0 L984.4,406.2 L985.9,406.5 L987.3,406.8 L988.4,407.0 L989.3,407.2 L990.2,407.5 L991.0,407.8 L991.6,408.0 L991.9,408.2 L992.0,408.5 L991.9,408.8 L991.7,409.0 L991.3,409.2 L990.9,409.5 L990.5,409.8 L990.0,410.0 L989.4,410.2 L988.8,410.5 L988.1,410.8 L987.0,411.0 L985.8,411.2 L984.4,411.5 L983.0,411.8 L981.4,412.0 L979.8,412.2 L978.1,412.5 L976.2,412.8 L974.1,413.0 L972.0,413.2 L969.8,413.5 L967.6,413.8 L965.2,414.0 L962.8,414.2 L960.2,414.5 L957.6,414.8 L955.1,415.0 L952.5,415.2 L950.0,415.5 L947.5,415.8 L945.0,416.0 L942.5,416.2 L940.0,416.5 L937.5,416.8 L935.0,417.0 L932.5,417.2 L930.0,417.5 L927.5,417.8 L925.0,418.0 L922.5,418.2 L920.0,418.5 L917.5,418.8 L915.0,419.0 L912.5,419.2 L910.0,419.5 L907.5,419.8 L905.0,420.0 L902.5,420.2 L899.9,420.5 L897.3,420.8 L894.7,421.0 L892.1,421.2 L889.8,421.5 L887.6,421.8 L885.5,422.0 L877.7,423.0 L871.5,424.0 L866.6,425.0 L862.5,426.0 L859.2,427.0 L856.1,428.0 L853.7,429.0 L852.0,430.0 L850.7,431.0 L849.5,432.0 L848.6,433.0 L848.0,434.0 L847.6,435.0 L847.2,436.0 L846.9,437.0 L846.6,438.0 L846.5,439.0 L846.4,440.0 L846.3,441.0 L846.2,442.0 L846.2,443.0 L846.1,444.0 L846.1,445.0 L846.1,446.0 L846.1,447.0 L846.0,448.0 L846.0,449.0 L846.0,450.0 L846.0,451.0 L846.0,452.0 L846.0,453.0 L846.0,454.0 L846.0,455.0 L845.9,480.0 L845.9,505.0 L845.9,530.0 L845.9,555.0 L845.9,580.0 L845.9,604.0" fill="none" stroke="#000" stroke-width="8.2" stroke-linejoin="round"/>
<g font-size="26.8" text-anchor="end" transform="scale(1,1.02)">
<text x="114.2" y="61.37">0.0025</text><text x="114.2" y="128.24">0.0000</text>
<text x="114.2" y="147.94">3</text>
<text x="114.2" y="238.89">2</text>
<text x="114.2" y="329.84">1</text>
<text x="114.2" y="420.79">0</text>
<text x="114.2" y="511.75">−1</text>
<text x="114.2" y="602.70">−2</text>
</g>
<g font-size="26.8" text-anchor="middle" transform="scale(1,1.02)">
<text x="292.9" y="630.78">500</text>
<text x="459.3" y="630.78">1000</text>
<text x="625.8" y="630.78">1500</text>
<text x="845.4" y="630.78">0</text><text x="974.5" y="630.78">1</text>
</g>
<g font-size="21.4" transform="scale(1,1.02)">
<text x="713" y="169.90">0.00</text>
<text x="713" y="220.88">−0.25</text>
<text x="713" y="271.86">−0.50</text>
<text x="713" y="322.84">−0.75</text>
<text x="713" y="373.82">−1.00</text>
<text x="713" y="424.80">−1.25</text>
<text x="713" y="475.78">−1.50</text>
<text x="713" y="526.76">−1.75</text>
<text x="713" y="577.75">−2.00</text>
</g>
<text x="395.6" y="690.8" font-size="34.9" text-anchor="middle" xml:space="preserve">Host galaxy DM<tspan font-size="24.78" dy="5.6">h</tspan><tspan dy="-5.6" dx="-0.5">  (pc cm</tspan><tspan font-size="24.78" dy="-13.5" dx="0.3">−3</tspan><tspan dy="13.5" dx="1">)</tspan></text>
<text transform="translate(55.1,573.2) rotate(-90)" font-size="34.9" xml:space="preserve">log<tspan font-size="24.78" dy="6" dx="0">10</tspan><tspan dy="-6" dx="5.6">[</tspan><tspan dx="0">F</tspan><tspan dx="0">G</tspan><tspan dx="0.4">]</tspan><tspan dx="2.1">  (pc</tspan><tspan font-size="24.78" dy="-13.3" dx="-0.6">2</tspan><tspan dy="13.3" dx="0.4"> km)</tspan><tspan font-size="24.78" dy="-13.3" dx="-0.6">−1/3</tspan></text>
<text transform="translate(30.4,460) rotate(-90)" font-size="20.7" text-anchor="middle">~</text>
<text y="192.3" font-size="29.5" style="fill:#fff;stroke:#fff"><tspan x="214.7">FRB190520</tspan><tspan x="423.7">f</tspan><tspan x="434.7" dy="4.6" font-size="20.65">igm</tspan><tspan x="479.3" dy="-4.6">=</tspan><tspan x="510">0.85</tspan></text>
<rect x="672.4" y="2" width="307.1" height="100.7" rx="5.4" fill="#fff" fill-opacity="0.8" stroke="#ccc" stroke-width="2.4"/>
<path d="M683.2,24.5H739.6" stroke="#000" stroke-width="9.2" stroke-linecap="square"/>
<path d="M683.2,74.0H739.6" stroke="#f00" stroke-width="3.0" stroke-linecap="square"/>
<text x="762" y="35.2" font-size="28.0" xml:space="preserve">f(DM<tspan font-size="19.60" dy="4.4">h</tspan><tspan dy="-4.4" stroke="#000" stroke-width="0.5">|</tspan><tspan dx="1.2">DM,</tspan><tspan dx="-4.1"> z,</tspan><tspan dx="-2.7"> τ)</tspan></text>
<text x="762" y="84.8" font-size="28.0" xml:space="preserve">f(DM<tspan font-size="19.60" dy="4.4">h</tspan><tspan dy="-4.4" stroke="#000" stroke-width="0.5">|</tspan><tspan dx="1.2">DM,</tspan><tspan dx="-4.1"> z)</tspan></text>
</svg></body></html>
